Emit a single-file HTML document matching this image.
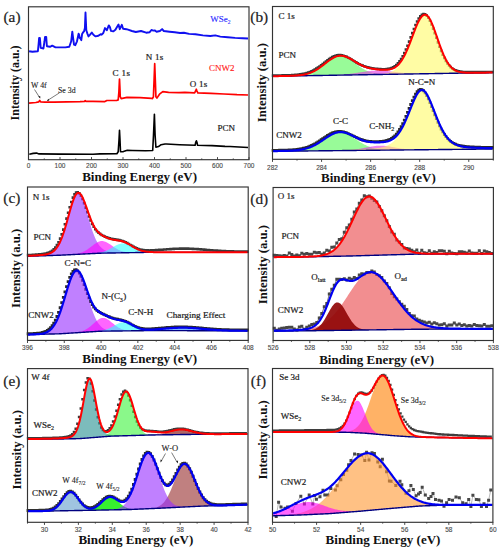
<!DOCTYPE html>
<html><head><meta charset="utf-8"><title>XPS spectra</title>
<style>html,body{margin:0;padding:0;background:#fff;width:500px;height:550px;overflow:hidden}svg{display:block}</style>
</head><body>
<svg width="500" height="550" viewBox="0 0 500 550">
<rect width="500" height="550" fill="#fff"/>
<g>
<path d="M29.3,154.2 L33.2,153.4 L36.5,153.1 L39,153.9 L60,154.1 L93,154.2 L100,153.9 L116.9,153.8 L118.2,151.8 L119,140 L119.5,130.4 L120,140 L120.5,151.8 L123.4,151.6 L127.3,150.3 L132.5,150.5 L145.5,150.8 L152.7,150.5 L153.5,135 L154.4,114.4 L155.1,135 L155.9,147.3 L158.5,146.6 L161.1,144.7 L165,144 L166.5,144 L179.5,144.7 L195.1,145.3 L195.8,142 L196.4,140.8 L197,142.5 L197.6,145.3 L212,145.6 L225,146.4 L230,146.5 L248,147.5" stroke="#000" stroke-width="1.6" fill="none" stroke-linejoin="round"/>
<path d="M29,103.2 L35.8,102.5 L38.8,101.8 L39.7,100.5 L40.6,101.8 L44.9,102.1 L54,102.1 L67,101.8 L80,101.6 L84.5,101.3 L85.2,100.6 L86,101.3 L93,101.4 L104.9,101.6 L106.9,100.5 L116.6,100.5 L118.2,99.9 L118.9,92 L119.5,79 L120,90 L120.2,96.6 L121.2,98.6 L127,97.3 L140,97.7 L151.7,98.4 L152.4,98.6 L153.4,96.8 L154.1,80 L154.7,63.7 L155.3,80 L155.9,96.8 L156.9,98.1 L159.5,94.2 L162.8,91.6 L168.6,92.3 L179,92.7 L184.9,92.3 L194.6,92.9 L195.6,91 L196.3,89.2 L197,91 L197.8,92.9 L211,93.4 L224,94 L237,94.7 L248,95" stroke="#f00" stroke-width="1.7" fill="none" stroke-linejoin="round"/>
<path d="M29.1,51.2 L32.4,51.8 L37.9,51.2 L38.6,44 L39.1,38 L39.9,38 L40.7,47.9 L43.4,48.5 L44.4,42 L45.05,36.9 L46.2,36.9 L46.9,46.3 L50,46.8 L52.2,45.7 L55.5,47.4 L61,47.4 L65.4,47.4 L69.3,46.8 L71.2,41.3 L72.3,31.6 L73,37 L74,44.6 L75.3,45.2 L77,41.3 L78.6,33.8 L79.1,34.7 L79.7,38 L80.2,38 L81.3,40.2 L82.1,34 L83,32.5 L84,31.4 L84.9,28 L85.5,12.5 L86.3,30.3 L87.4,33.6 L88.5,36.4 L90.1,34.7 L91.8,32.5 L93.4,34.7 L95.6,36.4 L98.4,35.8 L100.6,34.2 L101.7,34.7 L103.3,33 L105,28.1 L106,29.2 L106.8,30.3 L108.8,25.4 L109.9,27 L111,30.9 L113.2,31.4 L115.4,29.8 L117,27 L118.5,24.6 L119.8,29.2 L121.8,24.8 L123.1,28.7 L126.4,29.2 L128,29.7 L131.9,31 L135.8,32 L141,31 L146.2,32.7 L149.5,32.3 L151.4,30 L153.4,30.6 L154.7,30.4 L156.6,31.7 L159.9,31 L162.1,29.1 L163.8,31 L169.6,31.7 L174.8,32.3 L180,33 L183.9,32.7 L189.1,33.9 L195.4,34.2 L202.9,35.4 L210.3,36 L215.3,35.4 L220.3,36.6 L227.7,37.3 L235.1,37.9 L242.6,38.3 L248,38.5" stroke="#1010f0" stroke-width="1.9" fill="none" stroke-linejoin="round"/>
<rect x="28.5" y="6.8" width="220.5" height="152.9" fill="none" stroke="#333" stroke-width="1.15"/>
<path d="M28.5,159.7 L28.5,157.1 M44.25,159.7 L44.25,158.4 M60,159.7 L60,157.1 M75.75,159.7 L75.75,158.4 M91.5,159.7 L91.5,157.1 M107.25,159.7 L107.25,158.4 M123,159.7 L123,157.1 M138.75,159.7 L138.75,158.4 M154.5,159.7 L154.5,157.1 M170.25,159.7 L170.25,158.4 M186,159.7 L186,157.1 M201.75,159.7 L201.75,158.4 M217.5,159.7 L217.5,157.1 M233.25,159.7 L233.25,158.4 M249,159.7 L249,157.1" stroke="#333" stroke-width="0.9" fill="none"/>
<text x="28.5" y="167.8" font-family='"Liberation Sans", sans-serif' font-size="6.5" font-weight="normal" fill="#4a4a4a" text-anchor="middle" stroke="#4a4a4a" stroke-width="0.12" >0</text>
<text x="60" y="167.8" font-family='"Liberation Sans", sans-serif' font-size="6.5" font-weight="normal" fill="#4a4a4a" text-anchor="middle" stroke="#4a4a4a" stroke-width="0.12" >100</text>
<text x="91.5" y="167.8" font-family='"Liberation Sans", sans-serif' font-size="6.5" font-weight="normal" fill="#4a4a4a" text-anchor="middle" stroke="#4a4a4a" stroke-width="0.12" >200</text>
<text x="123" y="167.8" font-family='"Liberation Sans", sans-serif' font-size="6.5" font-weight="normal" fill="#4a4a4a" text-anchor="middle" stroke="#4a4a4a" stroke-width="0.12" >300</text>
<text x="154.5" y="167.8" font-family='"Liberation Sans", sans-serif' font-size="6.5" font-weight="normal" fill="#4a4a4a" text-anchor="middle" stroke="#4a4a4a" stroke-width="0.12" >400</text>
<text x="186" y="167.8" font-family='"Liberation Sans", sans-serif' font-size="6.5" font-weight="normal" fill="#4a4a4a" text-anchor="middle" stroke="#4a4a4a" stroke-width="0.12" >500</text>
<text x="217.5" y="167.8" font-family='"Liberation Sans", sans-serif' font-size="6.5" font-weight="normal" fill="#4a4a4a" text-anchor="middle" stroke="#4a4a4a" stroke-width="0.12" >600</text>
<text x="249" y="167.8" font-family='"Liberation Sans", sans-serif' font-size="6.5" font-weight="normal" fill="#4a4a4a" text-anchor="middle" stroke="#4a4a4a" stroke-width="0.12" >700</text>
<text x="210.3" y="21.7" font-family='"Liberation Serif", serif' font-size="9" font-weight="normal" fill="#2a2aff" text-anchor="start" stroke="#2a2aff" stroke-width="0.12" >WSe<tspan font-size="5.5" dy="2.3">2</tspan></text>
<text x="209" y="70.6" font-family='"Liberation Serif", serif' font-size="9" font-weight="normal" fill="#ff1a1a" text-anchor="start" stroke="#ff1a1a" stroke-width="0.12" >CNW2</text>
<text x="112.5" y="75.8" font-family='"Liberation Serif", serif' font-size="9" font-weight="normal" fill="#222" text-anchor="start" stroke="#222" stroke-width="0.22" letter-spacing="0.4">C 1s</text>
<text x="145.7" y="59.8" font-family='"Liberation Serif", serif' font-size="9" font-weight="normal" fill="#222" text-anchor="start" stroke="#222" stroke-width="0.22" letter-spacing="0.3">N 1s</text>
<text x="189.8" y="86.5" font-family='"Liberation Serif", serif' font-size="9" font-weight="normal" fill="#222" text-anchor="start" stroke="#222" stroke-width="0.22" letter-spacing="0.2">O 1s</text>
<text x="31" y="88" font-family='"Liberation Serif", serif' font-size="7.8" font-weight="normal" fill="#222" text-anchor="start" stroke="#222" stroke-width="0.12" >W 4f</text>
<text x="58" y="93.4" font-family='"Liberation Serif", serif' font-size="7.8" font-weight="normal" fill="#222" text-anchor="start" stroke="#222" stroke-width="0.12" >Se 3d</text>
<text x="217.4" y="130.5" font-family='"Liberation Serif", serif' font-size="9" font-weight="normal" fill="#222" text-anchor="start" stroke="#222" stroke-width="0.22" >PCN</text>
<path d="M34.5,89.5 L39.8,97.8 M59.5,92.8 L47.6,100.4" stroke="#222" stroke-width="0.6" fill="none"/>
<path d="M40.3,98.6 L38.2,96.6 L40.2,95.9 Z M46.9,100.9 L48.3,98.8 L49.3,100.6 Z" fill="#222"/>
<text x="82.2" y="180.5" font-family='"Liberation Serif", serif' font-size="13" font-weight="bold" fill="#111" text-anchor="start" >Binding Energy (eV)</text>
<text transform="translate(19.3,82.9) rotate(-90)" x="0" y="0" font-family='"Liberation Serif", serif' font-size="12" font-weight="bold" fill="#111" text-anchor="middle">Intensity (a.u.)</text>
<text x="3.5" y="21.9" font-family='"Liberation Serif", serif' font-size="15.3" font-weight="normal" fill="#222" text-anchor="start" stroke="#222" stroke-width="0.22" >(a)</text>
</g>
<path d="M271.8,74.3h2.6v2.6h-2.6z M273.4,74.27h2.6v2.6h-2.6z M275,74.25h2.6v2.6h-2.6z M276.6,74.22h2.6v2.6h-2.6z M278.2,74.19h2.6v2.6h-2.6z M279.8,74.16h2.6v2.6h-2.6z M281.4,74.12h2.6v2.6h-2.6z M283,74.09h2.6v2.6h-2.6z M284.6,74.05h2.6v2.6h-2.6z M286.2,74h2.6v2.6h-2.6z M287.8,73.95h2.6v2.6h-2.6z M289.4,73.89h2.6v2.6h-2.6z M291,73.82h2.6v2.6h-2.6z M292.6,73.73h2.6v2.6h-2.6z M294.2,73.62h2.6v2.6h-2.6z M295.8,73.48h2.6v2.6h-2.6z M297.4,73.31h2.6v2.6h-2.6z M299,73.11h2.6v2.6h-2.6z M300.6,72.86h2.6v2.6h-2.6z M302.2,72.56h2.6v2.6h-2.6z M303.8,72.19h2.6v2.6h-2.6z M305.4,71.76h2.6v2.6h-2.6z M307,71.24h2.6v2.6h-2.6z M308.6,70.64h2.6v2.6h-2.6z M310.2,69.95h2.6v2.6h-2.6z M311.8,69.17h2.6v2.6h-2.6z M313.4,68.29h2.6v2.6h-2.6z M315,67.32h2.6v2.6h-2.6z M316.6,66.26h2.6v2.6h-2.6z M318.2,65.13h2.6v2.6h-2.6z M319.8,63.93h2.6v2.6h-2.6z M321.4,62.7h2.6v2.6h-2.6z M323,61.44h2.6v2.6h-2.6z M324.6,60.2h2.6v2.6h-2.6z M326.2,58.99h2.6v2.6h-2.6z M327.8,57.85h2.6v2.6h-2.6z M329.4,56.8h2.6v2.6h-2.6z M331,55.87h2.6v2.6h-2.6z M332.6,55.1h2.6v2.6h-2.6z M334.2,54.5h2.6v2.6h-2.6z M335.8,54.09h2.6v2.6h-2.6z M337.4,53.87h2.6v2.6h-2.6z M339,53.86h2.6v2.6h-2.6z M340.6,54.03h2.6v2.6h-2.6z M342.2,54.4h2.6v2.6h-2.6z M343.8,54.92h2.6v2.6h-2.6z M345.4,55.6h2.6v2.6h-2.6z M347,56.39h2.6v2.6h-2.6z M348.6,57.27h2.6v2.6h-2.6z M350.2,58.22h2.6v2.6h-2.6z M351.8,59.19h2.6v2.6h-2.6z M353.4,60.16h2.6v2.6h-2.6z M355,61.12h2.6v2.6h-2.6z M356.6,62.03h2.6v2.6h-2.6z M358.2,62.88h2.6v2.6h-2.6z M359.8,63.66h2.6v2.6h-2.6z M361.4,64.36h2.6v2.6h-2.6z M363,64.98h2.6v2.6h-2.6z M364.6,65.52h2.6v2.6h-2.6z M366.2,65.98h2.6v2.6h-2.6z M367.8,66.37h2.6v2.6h-2.6z M369.4,66.7h2.6v2.6h-2.6z M371,66.98h2.6v2.6h-2.6z M372.6,67.22h2.6v2.6h-2.6z M374.2,67.42h2.6v2.6h-2.6z M375.8,67.58h2.6v2.6h-2.6z M377.4,67.72h2.6v2.6h-2.6z M379,67.82h2.6v2.6h-2.6z M380.6,67.9h2.6v2.6h-2.6z M382.2,67.92h2.6v2.6h-2.6z M383.8,67.89h2.6v2.6h-2.6z M385.4,67.77h2.6v2.6h-2.6z M387,67.56h2.6v2.6h-2.6z M388.6,67.2h2.6v2.6h-2.6z M390.2,66.68h2.6v2.6h-2.6z M391.8,65.94h2.6v2.6h-2.6z M393.4,64.95h2.6v2.6h-2.6z M395,63.67h2.6v2.6h-2.6z M396.6,62.06h2.6v2.6h-2.6z M398.2,60.08h2.6v2.6h-2.6z M399.8,57.72h2.6v2.6h-2.6z M401.4,54.95h2.6v2.6h-2.6z M403,51.8h2.6v2.6h-2.6z M404.6,48.26h2.6v2.6h-2.6z M406.2,44.41h2.6v2.6h-2.6z M407.8,40.32h2.6v2.6h-2.6z M409.4,36.09h2.6v2.6h-2.6z M411,31.82h2.6v2.6h-2.6z M412.6,27.66h2.6v2.6h-2.6z M414.2,23.75h2.6v2.6h-2.6z M415.8,20.24h2.6v2.6h-2.6z M417.4,17.27h2.6v2.6h-2.6z M419,14.98h2.6v2.6h-2.6z M420.6,13.47h2.6v2.6h-2.6z M422.2,12.81h2.6v2.6h-2.6z M423.8,13.07h2.6v2.6h-2.6z M425.4,14.32h2.6v2.6h-2.6z M427,16.5h2.6v2.6h-2.6z M428.6,19.5h2.6v2.6h-2.6z M430.2,23.17h2.6v2.6h-2.6z M431.8,27.34h2.6v2.6h-2.6z M433.4,31.83h2.6v2.6h-2.6z M435,36.46h2.6v2.6h-2.6z M436.6,41.05h2.6v2.6h-2.6z M438.2,45.48h2.6v2.6h-2.6z M439.8,49.62h2.6v2.6h-2.6z M441.4,53.39h2.6v2.6h-2.6z M443,56.75h2.6v2.6h-2.6z M444.6,59.67h2.6v2.6h-2.6z M446.2,62.15h2.6v2.6h-2.6z M447.8,64.19h2.6v2.6h-2.6z M449.4,65.86h2.6v2.6h-2.6z M451,67.18h2.6v2.6h-2.6z M452.6,68.21h2.6v2.6h-2.6z M454.2,69h2.6v2.6h-2.6z M455.8,69.59h2.6v2.6h-2.6z M457.4,70.01h2.6v2.6h-2.6z M459,70.32h2.6v2.6h-2.6z M460.6,70.53h2.6v2.6h-2.6z M462.2,70.67h2.6v2.6h-2.6z M463.8,70.76h2.6v2.6h-2.6z M465.4,70.82h2.6v2.6h-2.6z M467,70.85h2.6v2.6h-2.6z M468.6,70.86h2.6v2.6h-2.6z M470.2,70.87h2.6v2.6h-2.6z M471.8,70.86h2.6v2.6h-2.6z M473.4,70.85h2.6v2.6h-2.6z M475,70.83h2.6v2.6h-2.6z M476.6,70.82h2.6v2.6h-2.6z M478.2,70.8h2.6v2.6h-2.6z M479.8,70.78h2.6v2.6h-2.6z M481.4,70.76h2.6v2.6h-2.6z M483,70.74h2.6v2.6h-2.6z M484.6,70.71h2.6v2.6h-2.6z M486.2,70.69h2.6v2.6h-2.6z M487.8,70.67h2.6v2.6h-2.6z M489.4,70.65h2.6v2.6h-2.6z M491,70.63h2.6v2.6h-2.6z" fill="#383838"/>
<path d="M288.36,75.93 L289.21,75.91 L290.06,75.88 L290.91,75.85 L291.75,75.81 L292.6,75.78 L293.45,75.74 L294.3,75.69 L295.14,75.64 L295.99,75.59 L296.84,75.52 L297.69,75.45 L298.54,75.37 L299.38,75.29 L300.23,75.19 L301.08,75.08 L301.93,74.96 L302.78,74.83 L303.62,74.68 L304.47,74.51 L305.32,74.33 L306.17,74.13 L307.02,73.91 L307.86,73.67 L308.71,73.41 L309.56,73.12 L310.41,72.81 L311.25,72.48 L312.1,72.11 L312.95,71.73 L313.8,71.31 L314.65,70.87 L315.49,70.41 L316.34,69.91 L317.19,69.4 L318.04,68.85 L318.89,68.29 L319.73,67.7 L320.58,67.1 L321.43,66.47 L322.28,65.84 L323.12,65.19 L323.97,64.53 L324.82,63.88 L325.67,63.22 L326.52,62.56 L327.36,61.92 L328.21,61.28 L329.06,60.67 L329.91,60.08 L330.76,59.51 L331.6,58.98 L332.45,58.48 L333.3,58.02 L334.15,57.61 L334.99,57.24 L335.84,56.92 L336.69,56.66 L337.54,56.46 L338.39,56.31 L339.23,56.22 L340.08,56.18 L340.93,56.21 L341.78,56.3 L342.63,56.45 L343.47,56.65 L344.32,56.91 L345.17,57.22 L346.02,57.58 L346.87,57.98 L347.71,58.43 L348.56,58.92 L349.41,59.44 L350.26,59.99 L351.1,60.56 L351.95,61.16 L352.8,61.77 L353.65,62.39 L354.5,63.02 L355.34,63.65 L356.19,64.28 L357.04,64.9 L357.89,65.52 L358.74,66.12 L359.58,66.71 L360.43,67.28 L361.28,67.83 L362.13,68.35 L362.97,68.86 L363.82,69.34 L364.67,69.79 L365.52,70.22 L366.37,70.62 L367.21,70.99 L368.06,71.34 L368.91,71.66 L369.76,71.96 L370.61,72.23 L371.45,72.48 L372.3,72.7 L373.15,72.91 L374,73.09 L374.85,73.26 L375.69,73.4 L376.54,73.53 L377.39,73.65 L378.24,73.75 L379.08,73.83 L379.93,73.91 L380.78,73.97 L381.63,74.03 L382.48,74.08 L383.32,74.11 L384.17,74.15 L385.02,74.17 L385.87,74.19 L386.72,74.21 L387.56,74.22 L388.41,74.23 L389.26,74.23 L390.11,74.23 L390.95,74.23 L391.8,74.23 L391.8,74.28 L390.95,74.29 L390.11,74.31 L389.26,74.32 L388.41,74.33 L387.56,74.35 L386.72,74.36 L385.87,74.38 L385.02,74.39 L384.17,74.4 L383.32,74.42 L382.48,74.43 L381.63,74.45 L380.78,74.46 L379.93,74.47 L379.08,74.49 L378.24,74.5 L377.39,74.52 L376.54,74.53 L375.69,74.54 L374.85,74.56 L374,74.57 L373.15,74.59 L372.3,74.6 L371.45,74.61 L370.61,74.63 L369.76,74.64 L368.91,74.66 L368.06,74.67 L367.21,74.68 L366.37,74.7 L365.52,74.71 L364.67,74.73 L363.82,74.74 L362.97,74.75 L362.13,74.77 L361.28,74.78 L360.43,74.8 L359.58,74.81 L358.74,74.82 L357.89,74.84 L357.04,74.85 L356.19,74.87 L355.34,74.88 L354.5,74.89 L353.65,74.91 L352.8,74.92 L351.95,74.94 L351.1,74.95 L350.26,74.96 L349.41,74.98 L348.56,74.99 L347.71,75.01 L346.87,75.02 L346.02,75.03 L345.17,75.05 L344.32,75.06 L343.47,75.08 L342.63,75.09 L341.78,75.1 L340.93,75.12 L340.08,75.13 L339.23,75.15 L338.39,75.16 L337.54,75.17 L336.69,75.19 L335.84,75.2 L334.99,75.22 L334.15,75.23 L333.3,75.24 L332.45,75.26 L331.6,75.27 L330.76,75.29 L329.91,75.3 L329.06,75.32 L328.21,75.33 L327.36,75.34 L326.52,75.36 L325.67,75.37 L324.82,75.39 L323.97,75.4 L323.12,75.41 L322.28,75.43 L321.43,75.44 L320.58,75.46 L319.73,75.47 L318.89,75.48 L318.04,75.5 L317.19,75.51 L316.34,75.53 L315.49,75.54 L314.65,75.55 L313.8,75.57 L312.95,75.58 L312.1,75.6 L311.25,75.61 L310.41,75.62 L309.56,75.64 L308.71,75.65 L307.86,75.67 L307.02,75.68 L306.17,75.69 L305.32,75.71 L304.47,75.72 L303.62,75.74 L302.78,75.75 L301.93,75.76 L301.08,75.78 L300.23,75.79 L299.38,75.81 L298.54,75.82 L297.69,75.83 L296.84,75.85 L295.99,75.86 L295.14,75.88 L294.3,75.89 L293.45,75.9 L292.6,75.92 L291.75,75.93 L290.91,75.95 L290.06,75.96 L289.21,75.97 L288.36,75.99 Z" fill="#53f853" fill-opacity="0.6" stroke="none"/>
<path d="M327.36,75.29 L328.21,75.26 L329.06,75.24 L329.91,75.21 L330.76,75.19 L331.6,75.16 L332.45,75.13 L333.3,75.1 L334.15,75.06 L334.99,75.03 L335.84,74.99 L336.69,74.95 L337.54,74.9 L338.39,74.86 L339.23,74.81 L340.08,74.75 L340.93,74.7 L341.78,74.64 L342.63,74.57 L343.47,74.5 L344.32,74.43 L345.17,74.36 L346.02,74.27 L346.87,74.19 L347.71,74.1 L348.56,74.01 L349.41,73.91 L350.26,73.8 L351.1,73.7 L351.95,73.59 L352.8,73.47 L353.65,73.35 L354.5,73.23 L355.34,73.1 L356.19,72.98 L357.04,72.84 L357.89,72.71 L358.74,72.58 L359.58,72.44 L360.43,72.31 L361.28,72.17 L362.13,72.04 L362.97,71.91 L363.82,71.78 L364.67,71.65 L365.52,71.53 L366.37,71.41 L367.21,71.3 L368.06,71.19 L368.91,71.08 L369.76,70.99 L370.61,70.9 L371.45,70.82 L372.3,70.75 L373.15,70.69 L374,70.63 L374.85,70.59 L375.69,70.56 L376.54,70.53 L377.39,70.52 L378.24,70.51 L379.08,70.52 L379.93,70.53 L380.78,70.56 L381.63,70.59 L382.48,70.63 L383.32,70.69 L384.17,70.74 L385.02,70.81 L385.87,70.88 L386.72,70.96 L387.56,71.05 L388.41,71.14 L389.26,71.24 L390.11,71.33 L390.95,71.44 L391.8,71.54 L392.65,71.65 L393.5,71.75 L394.35,71.86 L395.19,71.97 L396.04,72.07 L396.89,72.18 L397.74,72.28 L398.59,72.38 L399.43,72.48 L400.28,72.57 L401.13,72.66 L401.98,72.75 L402.83,72.83 L403.67,72.91 L404.52,72.99 L405.37,73.06 L406.22,73.13 L407.06,73.19 L407.91,73.25 L408.76,73.3 L409.61,73.35 L410.46,73.39 L411.3,73.43 L412.15,73.47 L413,73.5 L413.85,73.53 L414.7,73.56 L415.54,73.58 L416.39,73.6 L417.24,73.61 L418.09,73.63 L418.93,73.64 L419.78,73.65 L420.63,73.65 L421.48,73.66 L422.33,73.66 L423.17,73.66 L424.02,73.66 L424.87,73.66 L425.72,73.65 L426.57,73.65 L426.57,73.7 L425.72,73.72 L424.87,73.73 L424.02,73.75 L423.17,73.76 L422.33,73.77 L421.48,73.79 L420.63,73.8 L419.78,73.82 L418.93,73.83 L418.09,73.84 L417.24,73.86 L416.39,73.87 L415.54,73.89 L414.7,73.9 L413.85,73.91 L413,73.93 L412.15,73.94 L411.3,73.96 L410.46,73.97 L409.61,73.98 L408.76,74 L407.91,74.01 L407.06,74.03 L406.22,74.04 L405.37,74.05 L404.52,74.07 L403.67,74.08 L402.83,74.1 L401.98,74.11 L401.13,74.12 L400.28,74.14 L399.43,74.15 L398.59,74.17 L397.74,74.18 L396.89,74.19 L396.04,74.21 L395.19,74.22 L394.35,74.24 L393.5,74.25 L392.65,74.26 L391.8,74.28 L390.95,74.29 L390.11,74.31 L389.26,74.32 L388.41,74.33 L387.56,74.35 L386.72,74.36 L385.87,74.38 L385.02,74.39 L384.17,74.4 L383.32,74.42 L382.48,74.43 L381.63,74.45 L380.78,74.46 L379.93,74.47 L379.08,74.49 L378.24,74.5 L377.39,74.52 L376.54,74.53 L375.69,74.54 L374.85,74.56 L374,74.57 L373.15,74.59 L372.3,74.6 L371.45,74.61 L370.61,74.63 L369.76,74.64 L368.91,74.66 L368.06,74.67 L367.21,74.68 L366.37,74.7 L365.52,74.71 L364.67,74.73 L363.82,74.74 L362.97,74.75 L362.13,74.77 L361.28,74.78 L360.43,74.8 L359.58,74.81 L358.74,74.82 L357.89,74.84 L357.04,74.85 L356.19,74.87 L355.34,74.88 L354.5,74.89 L353.65,74.91 L352.8,74.92 L351.95,74.94 L351.1,74.95 L350.26,74.96 L349.41,74.98 L348.56,74.99 L347.71,75.01 L346.87,75.02 L346.02,75.03 L345.17,75.05 L344.32,75.06 L343.47,75.08 L342.63,75.09 L341.78,75.1 L340.93,75.12 L340.08,75.13 L339.23,75.15 L338.39,75.16 L337.54,75.17 L336.69,75.19 L335.84,75.2 L334.99,75.22 L334.15,75.23 L333.3,75.24 L332.45,75.26 L331.6,75.27 L330.76,75.29 L329.91,75.3 L329.06,75.32 L328.21,75.33 L327.36,75.34 Z" fill="#e32fe3" fill-opacity="0.6" stroke="none"/>
<path d="M334.99,75.17 L335.84,75.15 L336.69,75.14 L337.54,75.12 L338.39,75.11 L339.23,75.09 L340.08,75.08 L340.93,75.06 L341.78,75.05 L342.63,75.03 L343.47,75.02 L344.32,75 L345.17,74.99 L346.02,74.97 L346.87,74.95 L347.71,74.94 L348.56,74.92 L349.41,74.91 L350.26,74.89 L351.1,74.88 L351.95,74.86 L352.8,74.85 L353.65,74.83 L354.5,74.81 L355.34,74.8 L356.19,74.78 L357.04,74.77 L357.89,74.75 L358.74,74.73 L359.58,74.72 L360.43,74.7 L361.28,74.68 L362.13,74.67 L362.97,74.65 L363.82,74.63 L364.67,74.62 L365.52,74.6 L366.37,74.58 L367.21,74.56 L368.06,74.54 L368.91,74.53 L369.76,74.51 L370.61,74.49 L371.45,74.47 L372.3,74.44 L373.15,74.42 L374,74.39 L374.85,74.37 L375.69,74.34 L376.54,74.31 L377.39,74.27 L378.24,74.23 L379.08,74.19 L379.93,74.13 L380.78,74.08 L381.63,74.01 L382.48,73.93 L383.32,73.84 L384.17,73.74 L385.02,73.62 L385.87,73.48 L386.72,73.31 L387.56,73.13 L388.41,72.91 L389.26,72.66 L390.11,72.37 L390.95,72.04 L391.8,71.66 L392.65,71.22 L393.5,70.73 L394.35,70.17 L395.19,69.55 L396.04,68.84 L396.89,68.06 L397.74,67.19 L398.59,66.22 L399.43,65.16 L400.28,63.99 L401.13,62.72 L401.98,61.35 L402.83,59.86 L403.67,58.27 L404.52,56.56 L405.37,54.76 L406.22,52.85 L407.06,50.86 L407.91,48.77 L408.76,46.62 L409.61,44.4 L410.46,42.13 L411.3,39.83 L412.15,37.52 L413,35.21 L413.85,32.92 L414.7,30.67 L415.54,28.5 L416.39,26.41 L417.24,24.43 L418.09,22.58 L418.93,20.88 L419.78,19.36 L420.63,18.03 L421.48,16.91 L422.33,16 L423.17,15.34 L424.02,14.91 L424.87,14.73 L425.72,14.82 L426.57,15.19 L427.41,15.85 L428.26,16.77 L429.11,17.95 L429.96,19.37 L430.81,21.01 L431.65,22.84 L432.5,24.84 L433.35,26.98 L434.2,29.25 L435.04,31.6 L435.89,34.01 L436.74,36.45 L437.59,38.91 L438.44,41.36 L439.28,43.77 L440.13,46.12 L440.98,48.4 L441.83,50.6 L442.68,52.7 L443.52,54.68 L444.37,56.56 L445.22,58.31 L446.07,59.93 L446.91,61.43 L447.76,62.81 L448.61,64.06 L449.46,65.2 L450.31,66.22 L451.15,67.14 L452,67.95 L452.85,68.67 L453.7,69.3 L454.55,69.85 L455.39,70.33 L456.24,70.75 L457.09,71.1 L457.94,71.41 L458.78,71.66 L459.63,71.88 L460.48,72.06 L461.33,72.21 L462.18,72.33 L463.02,72.43 L463.87,72.52 L464.72,72.58 L465.57,72.63 L466.42,72.67 L467.26,72.71 L468.11,72.73 L468.96,72.74 L469.81,72.76 L470.66,72.76 L471.5,72.77 L472.35,72.77 L473.2,72.76 L474.05,72.76 L474.89,72.76 L475.74,72.75 L476.59,72.74 L477.44,72.73 L478.29,72.72 L479.13,72.71 L479.98,72.7 L480.83,72.69 L481.68,72.68 L482.53,72.67 L483.37,72.66 L484.22,72.65 L485.07,72.64 L485.92,72.63 L486.76,72.62 L487.61,72.61 L488.46,72.59 L489.31,72.58 L490.16,72.57 L491,72.56 L491.85,72.55 L492.7,72.53 L492.7,72.61 L491.85,72.62 L491,72.64 L490.16,72.65 L489.31,72.67 L488.46,72.68 L487.61,72.69 L486.76,72.71 L485.92,72.72 L485.07,72.74 L484.22,72.75 L483.37,72.76 L482.53,72.78 L481.68,72.79 L480.83,72.81 L479.98,72.82 L479.13,72.83 L478.29,72.85 L477.44,72.86 L476.59,72.88 L475.74,72.89 L474.89,72.9 L474.05,72.92 L473.2,72.93 L472.35,72.95 L471.5,72.96 L470.66,72.97 L469.81,72.99 L468.96,73 L468.11,73.02 L467.26,73.03 L466.42,73.04 L465.57,73.06 L464.72,73.07 L463.87,73.09 L463.02,73.1 L462.18,73.11 L461.33,73.13 L460.48,73.14 L459.63,73.16 L458.78,73.17 L457.94,73.18 L457.09,73.2 L456.24,73.21 L455.39,73.23 L454.55,73.24 L453.7,73.25 L452.85,73.27 L452,73.28 L451.15,73.3 L450.31,73.31 L449.46,73.32 L448.61,73.34 L447.76,73.35 L446.91,73.37 L446.07,73.38 L445.22,73.39 L444.37,73.41 L443.52,73.42 L442.68,73.44 L441.83,73.45 L440.98,73.46 L440.13,73.48 L439.28,73.49 L438.44,73.51 L437.59,73.52 L436.74,73.53 L435.89,73.55 L435.04,73.56 L434.2,73.58 L433.35,73.59 L432.5,73.61 L431.65,73.62 L430.81,73.63 L429.96,73.65 L429.11,73.66 L428.26,73.68 L427.41,73.69 L426.57,73.7 L425.72,73.72 L424.87,73.73 L424.02,73.75 L423.17,73.76 L422.33,73.77 L421.48,73.79 L420.63,73.8 L419.78,73.82 L418.93,73.83 L418.09,73.84 L417.24,73.86 L416.39,73.87 L415.54,73.89 L414.7,73.9 L413.85,73.91 L413,73.93 L412.15,73.94 L411.3,73.96 L410.46,73.97 L409.61,73.98 L408.76,74 L407.91,74.01 L407.06,74.03 L406.22,74.04 L405.37,74.05 L404.52,74.07 L403.67,74.08 L402.83,74.1 L401.98,74.11 L401.13,74.12 L400.28,74.14 L399.43,74.15 L398.59,74.17 L397.74,74.18 L396.89,74.19 L396.04,74.21 L395.19,74.22 L394.35,74.24 L393.5,74.25 L392.65,74.26 L391.8,74.28 L390.95,74.29 L390.11,74.31 L389.26,74.32 L388.41,74.33 L387.56,74.35 L386.72,74.36 L385.87,74.38 L385.02,74.39 L384.17,74.4 L383.32,74.42 L382.48,74.43 L381.63,74.45 L380.78,74.46 L379.93,74.47 L379.08,74.49 L378.24,74.5 L377.39,74.52 L376.54,74.53 L375.69,74.54 L374.85,74.56 L374,74.57 L373.15,74.59 L372.3,74.6 L371.45,74.61 L370.61,74.63 L369.76,74.64 L368.91,74.66 L368.06,74.67 L367.21,74.68 L366.37,74.7 L365.52,74.71 L364.67,74.73 L363.82,74.74 L362.97,74.75 L362.13,74.77 L361.28,74.78 L360.43,74.8 L359.58,74.81 L358.74,74.82 L357.89,74.84 L357.04,74.85 L356.19,74.87 L355.34,74.88 L354.5,74.89 L353.65,74.91 L352.8,74.92 L351.95,74.94 L351.1,74.95 L350.26,74.96 L349.41,74.98 L348.56,74.99 L347.71,75.01 L346.87,75.02 L346.02,75.03 L345.17,75.05 L344.32,75.06 L343.47,75.08 L342.63,75.09 L341.78,75.1 L340.93,75.12 L340.08,75.13 L339.23,75.15 L338.39,75.16 L337.54,75.17 L336.69,75.19 L335.84,75.2 L334.99,75.22 Z" fill="#fffa67" fill-opacity="0.6" stroke="none"/>
<path d="M273.1,76.24 L273.95,76.23 L274.8,76.21 L275.64,76.2 L276.49,76.18 L277.34,76.17 L278.19,76.16 L279.04,76.14 L279.88,76.13 L280.73,76.11 L281.58,76.1 L282.43,76.09 L283.27,76.07 L284.12,76.06 L284.97,76.04 L285.82,76.03 L286.67,76.02 L287.51,76 L288.36,75.99 L289.21,75.97 L290.06,75.96 L290.91,75.95 L291.75,75.93 L292.6,75.92 L293.45,75.9 L294.3,75.89 L295.14,75.88 L295.99,75.86 L296.84,75.85 L297.69,75.83 L298.54,75.82 L299.38,75.81 L300.23,75.79 L301.08,75.78 L301.93,75.76 L302.78,75.75 L303.62,75.74 L304.47,75.72 L305.32,75.71 L306.17,75.69 L307.02,75.68 L307.86,75.67 L308.71,75.65 L309.56,75.64 L310.41,75.62 L311.25,75.61 L312.1,75.6 L312.95,75.58 L313.8,75.57 L314.65,75.55 L315.49,75.54 L316.34,75.53 L317.19,75.51 L318.04,75.5 L318.89,75.48 L319.73,75.47 L320.58,75.46 L321.43,75.44 L322.28,75.43 L323.12,75.41 L323.97,75.4 L324.82,75.39 L325.67,75.37 L326.52,75.36 L327.36,75.34 L328.21,75.33 L329.06,75.32 L329.91,75.3 L330.76,75.29 L331.6,75.27 L332.45,75.26 L333.3,75.24 L334.15,75.23 L334.99,75.22 L335.84,75.2 L336.69,75.19 L337.54,75.17 L338.39,75.16 L339.23,75.15 L340.08,75.13 L340.93,75.12 L341.78,75.1 L342.63,75.09 L343.47,75.08 L344.32,75.06 L345.17,75.05 L346.02,75.03 L346.87,75.02 L347.71,75.01 L348.56,74.99 L349.41,74.98 L350.26,74.96 L351.1,74.95 L351.95,74.94 L352.8,74.92 L353.65,74.91 L354.5,74.89 L355.34,74.88 L356.19,74.87 L357.04,74.85 L357.89,74.84 L358.74,74.82 L359.58,74.81 L360.43,74.8 L361.28,74.78 L362.13,74.77 L362.97,74.75 L363.82,74.74 L364.67,74.73 L365.52,74.71 L366.37,74.7 L367.21,74.68 L368.06,74.67 L368.91,74.66 L369.76,74.64 L370.61,74.63 L371.45,74.61 L372.3,74.6 L373.15,74.59 L374,74.57 L374.85,74.56 L375.69,74.54 L376.54,74.53 L377.39,74.52 L378.24,74.5 L379.08,74.49 L379.93,74.47 L380.78,74.46 L381.63,74.45 L382.48,74.43 L383.32,74.42 L384.17,74.4 L385.02,74.39 L385.87,74.38 L386.72,74.36 L387.56,74.35 L388.41,74.33 L389.26,74.32 L390.11,74.31 L390.95,74.29 L391.8,74.28 L392.65,74.26 L393.5,74.25 L394.35,74.24 L395.19,74.22 L396.04,74.21 L396.89,74.19 L397.74,74.18 L398.59,74.17 L399.43,74.15 L400.28,74.14 L401.13,74.12 L401.98,74.11 L402.83,74.1 L403.67,74.08 L404.52,74.07 L405.37,74.05 L406.22,74.04 L407.06,74.03 L407.91,74.01 L408.76,74 L409.61,73.98 L410.46,73.97 L411.3,73.96 L412.15,73.94 L413,73.93 L413.85,73.91 L414.7,73.9 L415.54,73.89 L416.39,73.87 L417.24,73.86 L418.09,73.84 L418.93,73.83 L419.78,73.82 L420.63,73.8 L421.48,73.79 L422.33,73.77 L423.17,73.76 L424.02,73.75 L424.87,73.73 L425.72,73.72 L426.57,73.7 L427.41,73.69 L428.26,73.68 L429.11,73.66 L429.96,73.65 L430.81,73.63 L431.65,73.62 L432.5,73.61 L433.35,73.59 L434.2,73.58 L435.04,73.56 L435.89,73.55 L436.74,73.53 L437.59,73.52 L438.44,73.51 L439.28,73.49 L440.13,73.48 L440.98,73.46 L441.83,73.45 L442.68,73.44 L443.52,73.42 L444.37,73.41 L445.22,73.39 L446.07,73.38 L446.91,73.37 L447.76,73.35 L448.61,73.34 L449.46,73.32 L450.31,73.31 L451.15,73.3 L452,73.28 L452.85,73.27 L453.7,73.25 L454.55,73.24 L455.39,73.23 L456.24,73.21 L457.09,73.2 L457.94,73.18 L458.78,73.17 L459.63,73.16 L460.48,73.14 L461.33,73.13 L462.18,73.11 L463.02,73.1 L463.87,73.09 L464.72,73.07 L465.57,73.06 L466.42,73.04 L467.26,73.03 L468.11,73.02 L468.96,73 L469.81,72.99 L470.66,72.97 L471.5,72.96 L472.35,72.95 L473.2,72.93 L474.05,72.92 L474.89,72.9 L475.74,72.89 L476.59,72.88 L477.44,72.86 L478.29,72.85 L479.13,72.83 L479.98,72.82 L480.83,72.81 L481.68,72.79 L482.53,72.78 L483.37,72.76 L484.22,72.75 L485.07,72.74 L485.92,72.72 L486.76,72.71 L487.61,72.69 L488.46,72.68 L489.31,72.67 L490.16,72.65 L491,72.64 L491.85,72.62 L492.7,72.61" stroke="#000080" stroke-width="1.4" fill="none"/>
<path d="M273.1,76.22 L273.95,76.21 L274.8,76.19 L275.64,76.18 L276.49,76.16 L277.34,76.15 L278.19,76.13 L279.04,76.12 L279.88,76.1 L280.73,76.09 L281.58,76.07 L282.43,76.05 L283.27,76.03 L284.12,76.02 L284.97,76 L285.82,75.98 L286.67,75.96 L287.51,75.93 L288.36,75.91 L289.21,75.88 L290.06,75.86 L290.91,75.82 L291.75,75.79 L292.6,75.75 L293.45,75.71 L294.3,75.67 L295.14,75.62 L295.99,75.56 L296.84,75.5 L297.69,75.43 L298.54,75.35 L299.38,75.26 L300.23,75.16 L301.08,75.05 L301.93,74.93 L302.78,74.8 L303.62,74.65 L304.47,74.48 L305.32,74.3 L306.17,74.1 L307.02,73.88 L307.86,73.64 L308.71,73.37 L309.56,73.09 L310.41,72.78 L311.25,72.44 L312.1,72.08 L312.95,71.69 L313.8,71.28 L314.65,70.83 L315.49,70.37 L316.34,69.87 L317.19,69.35 L318.04,68.81 L318.89,68.24 L319.73,67.65 L320.58,67.04 L321.43,66.42 L322.28,65.78 L323.12,65.12 L323.97,64.46 L324.82,63.8 L325.67,63.13 L326.52,62.47 L327.36,61.82 L328.21,61.18 L329.06,60.55 L329.91,59.95 L330.76,59.37 L331.6,58.82 L332.45,58.3 L333.3,57.83 L334.15,57.39 L334.99,57 L335.84,56.66 L336.69,56.37 L337.54,56.13 L338.39,55.95 L339.23,55.82 L340.08,55.75 L340.93,55.73 L341.78,55.77 L342.63,55.87 L343.47,56.02 L344.32,56.22 L345.17,56.46 L346.02,56.75 L346.87,57.09 L347.71,57.46 L348.56,57.86 L349.41,58.29 L350.26,58.75 L351.1,59.23 L351.95,59.73 L352.8,60.24 L353.65,60.75 L354.5,61.27 L355.34,61.79 L356.19,62.3 L357.04,62.81 L357.89,63.3 L358.74,63.78 L359.58,64.25 L360.43,64.69 L361.28,65.12 L362.13,65.53 L362.97,65.91 L363.82,66.27 L364.67,66.61 L365.52,66.92 L366.37,67.21 L367.21,67.48 L368.06,67.73 L368.91,67.96 L369.76,68.17 L370.61,68.36 L371.45,68.54 L372.3,68.7 L373.15,68.84 L374,68.98 L374.85,69.1 L375.69,69.21 L376.54,69.31 L377.39,69.4 L378.24,69.49 L379.08,69.56 L379.93,69.63 L380.78,69.69 L381.63,69.74 L382.48,69.78 L383.32,69.81 L384.17,69.82 L385.02,69.82 L385.87,69.8 L386.72,69.76 L387.56,69.7 L388.41,69.61 L389.26,69.48 L390.11,69.32 L390.95,69.12 L391.8,68.87 L392.65,68.56 L393.5,68.2 L394.35,67.77 L395.19,67.27 L396.04,66.69 L396.89,66.03 L397.74,65.27 L398.59,64.42 L399.43,63.47 L400.28,62.42 L401.13,61.26 L401.98,59.98 L402.83,58.59 L403.67,57.09 L404.52,55.48 L405.37,53.76 L406.22,51.94 L407.06,50.02 L407.91,48.01 L408.76,45.92 L409.61,43.76 L410.46,41.55 L411.3,39.31 L412.15,37.05 L413,34.78 L413.85,32.54 L414.7,30.33 L415.54,28.19 L416.39,26.13 L417.24,24.18 L418.09,22.36 L418.93,20.69 L419.78,19.19 L420.63,17.88 L421.48,16.78 L422.33,15.89 L423.17,15.24 L424.02,14.82 L424.87,14.66 L425.72,14.75 L426.57,15.14 L427.41,15.8 L428.26,16.73 L429.11,17.91 L429.96,19.34 L430.81,20.98 L431.65,22.82 L432.5,24.82 L433.35,26.97 L434.2,29.23 L435.04,31.58 L435.89,34 L436.74,36.45 L437.59,38.9 L438.44,41.35 L439.28,43.76 L440.13,46.12 L440.98,48.4 L441.83,50.6 L442.68,52.69 L443.52,54.68 L444.37,56.55 L445.22,58.31 L446.07,59.93 L446.91,61.43 L447.76,62.81 L448.61,64.06 L449.46,65.2 L450.31,66.22 L451.15,67.14 L452,67.95 L452.85,68.67 L453.7,69.3 L454.55,69.85 L455.39,70.33 L456.24,70.75 L457.09,71.1 L457.94,71.41 L458.78,71.66 L459.63,71.88 L460.48,72.06 L461.33,72.21 L462.18,72.33 L463.02,72.43 L463.87,72.52 L464.72,72.58 L465.57,72.63 L466.42,72.67 L467.26,72.71 L468.11,72.73 L468.96,72.74 L469.81,72.76 L470.66,72.76 L471.5,72.77 L472.35,72.77 L473.2,72.76 L474.05,72.76 L474.89,72.76 L475.74,72.75 L476.59,72.74 L477.44,72.73 L478.29,72.72 L479.13,72.71 L479.98,72.7 L480.83,72.69 L481.68,72.68 L482.53,72.67 L483.37,72.66 L484.22,72.65 L485.07,72.64 L485.92,72.63 L486.76,72.62 L487.61,72.61 L488.46,72.59 L489.31,72.58 L490.16,72.57 L491,72.56 L491.85,72.55 L492.7,72.53" stroke="#f00" stroke-width="2.0" fill="none" stroke-linejoin="round"/>
<path d="M271.7,148.97h2.8v2.8h-2.8z M273.3,148.95h2.8v2.8h-2.8z M274.9,148.93h2.8v2.8h-2.8z M276.5,148.9h2.8v2.8h-2.8z M278.1,148.87h2.8v2.8h-2.8z M279.7,148.84h2.8v2.8h-2.8z M281.3,148.8h2.8v2.8h-2.8z M282.9,148.76h2.8v2.8h-2.8z M284.5,148.72h2.8v2.8h-2.8z M286.1,148.66h2.8v2.8h-2.8z M287.7,148.59h2.8v2.8h-2.8z M289.3,148.51h2.8v2.8h-2.8z M290.9,148.41h2.8v2.8h-2.8z M292.5,148.29h2.8v2.8h-2.8z M294.1,148.15h2.8v2.8h-2.8z M295.7,147.97h2.8v2.8h-2.8z M297.3,147.76h2.8v2.8h-2.8z M298.9,147.5h2.8v2.8h-2.8z M300.5,147.2h2.8v2.8h-2.8z M302.1,146.84h2.8v2.8h-2.8z M303.7,146.42h2.8v2.8h-2.8z M305.3,145.94h2.8v2.8h-2.8z M306.9,145.38h2.8v2.8h-2.8z M308.5,144.75h2.8v2.8h-2.8z M310.1,144.04h2.8v2.8h-2.8z M311.7,143.25h2.8v2.8h-2.8z M313.3,142.39h2.8v2.8h-2.8z M314.9,141.47h2.8v2.8h-2.8z M316.5,140.48h2.8v2.8h-2.8z M318.1,139.44h2.8v2.8h-2.8z M319.7,138.37h2.8v2.8h-2.8z M321.3,137.28h2.8v2.8h-2.8z M322.9,136.2h2.8v2.8h-2.8z M324.5,135.14h2.8v2.8h-2.8z M326.1,134.12h2.8v2.8h-2.8z M327.7,133.17h2.8v2.8h-2.8z M329.3,132.31h2.8v2.8h-2.8z M330.9,131.56h2.8v2.8h-2.8z M332.5,130.94h2.8v2.8h-2.8z M334.1,130.46h2.8v2.8h-2.8z M335.7,130.15h2.8v2.8h-2.8z M337.3,129.99h2.8v2.8h-2.8z M338.9,130h2.8v2.8h-2.8z M340.5,130.16h2.8v2.8h-2.8z M342.1,130.48h2.8v2.8h-2.8z M343.7,130.92h2.8v2.8h-2.8z M345.3,131.49h2.8v2.8h-2.8z M346.9,132.15h2.8v2.8h-2.8z M348.5,132.89h2.8v2.8h-2.8z M350.1,133.67h2.8v2.8h-2.8z M351.7,134.48h2.8v2.8h-2.8z M353.3,135.28h2.8v2.8h-2.8z M354.9,136.06h2.8v2.8h-2.8z M356.5,136.8h2.8v2.8h-2.8z M358.1,137.48h2.8v2.8h-2.8z M359.7,138.09h2.8v2.8h-2.8z M361.3,138.62h2.8v2.8h-2.8z M362.9,139.07h2.8v2.8h-2.8z M364.5,139.43h2.8v2.8h-2.8z M366.1,139.71h2.8v2.8h-2.8z M367.7,139.93h2.8v2.8h-2.8z M369.3,140.08h2.8v2.8h-2.8z M370.9,140.18h2.8v2.8h-2.8z M372.5,140.24h2.8v2.8h-2.8z M374.1,140.25h2.8v2.8h-2.8z M375.7,140.24h2.8v2.8h-2.8z M377.3,140.19h2.8v2.8h-2.8z M378.9,140.1h2.8v2.8h-2.8z M380.5,139.97h2.8v2.8h-2.8z M382.1,139.78h2.8v2.8h-2.8z M383.7,139.5h2.8v2.8h-2.8z M385.3,139.12h2.8v2.8h-2.8z M386.9,138.6h2.8v2.8h-2.8z M388.5,137.91h2.8v2.8h-2.8z M390.1,137h2.8v2.8h-2.8z M391.7,135.85h2.8v2.8h-2.8z M393.3,134.41h2.8v2.8h-2.8z M394.9,132.65h2.8v2.8h-2.8z M396.5,130.55h2.8v2.8h-2.8z M398.1,128.1h2.8v2.8h-2.8z M399.7,125.3h2.8v2.8h-2.8z M401.3,122.15h2.8v2.8h-2.8z M402.9,118.69h2.8v2.8h-2.8z M404.5,114.98h2.8v2.8h-2.8z M406.1,111.07h2.8v2.8h-2.8z M407.7,107.06h2.8v2.8h-2.8z M409.3,103.08h2.8v2.8h-2.8z M410.9,99.25h2.8v2.8h-2.8z M412.5,95.73h2.8v2.8h-2.8z M414.1,92.69h2.8v2.8h-2.8z M415.7,90.28h2.8v2.8h-2.8z M417.3,88.65h2.8v2.8h-2.8z M418.9,87.93h2.8v2.8h-2.8z M420.5,88.17h2.8v2.8h-2.8z M422.1,89.36h2.8v2.8h-2.8z M423.7,91.41h2.8v2.8h-2.8z M425.3,94.17h2.8v2.8h-2.8z M426.9,97.5h2.8v2.8h-2.8z M428.5,101.24h2.8v2.8h-2.8z M430.1,105.22h2.8v2.8h-2.8z M431.7,109.3h2.8v2.8h-2.8z M433.3,113.37h2.8v2.8h-2.8z M434.9,117.31h2.8v2.8h-2.8z M436.5,121.06h2.8v2.8h-2.8z M438.1,124.54h2.8v2.8h-2.8z M439.7,127.72h2.8v2.8h-2.8z M441.3,130.57h2.8v2.8h-2.8z M442.9,133.1h2.8v2.8h-2.8z M444.5,135.3h2.8v2.8h-2.8z M446.1,137.18h2.8v2.8h-2.8z M447.7,138.78h2.8v2.8h-2.8z M449.3,140.11h2.8v2.8h-2.8z M450.9,141.2h2.8v2.8h-2.8z M452.5,142.1h2.8v2.8h-2.8z M454.1,142.83h2.8v2.8h-2.8z M455.7,143.42h2.8v2.8h-2.8z M457.3,143.89h2.8v2.8h-2.8z M458.9,144.27h2.8v2.8h-2.8z M460.5,144.58h2.8v2.8h-2.8z M462.1,144.82h2.8v2.8h-2.8z M463.7,145.02h2.8v2.8h-2.8z M465.3,145.18h2.8v2.8h-2.8z M466.9,145.31h2.8v2.8h-2.8z M468.5,145.42h2.8v2.8h-2.8z M470.1,145.52h2.8v2.8h-2.8z M471.7,145.6h2.8v2.8h-2.8z M473.3,145.67h2.8v2.8h-2.8z M474.9,145.73h2.8v2.8h-2.8z M476.5,145.78h2.8v2.8h-2.8z M478.1,145.83h2.8v2.8h-2.8z M479.7,145.88h2.8v2.8h-2.8z M481.3,145.91h2.8v2.8h-2.8z M482.9,145.95h2.8v2.8h-2.8z M484.5,145.98h2.8v2.8h-2.8z M486.1,146.01h2.8v2.8h-2.8z M487.7,146.03h2.8v2.8h-2.8z M489.3,146.05h2.8v2.8h-2.8z M490.9,146.06h2.8v2.8h-2.8z" fill="#2a2a2a"/>
<path d="M284.97,151.11 L285.82,151.09 L286.67,151.07 L287.51,151.04 L288.36,151.02 L289.21,150.99 L290.06,150.95 L290.91,150.92 L291.75,150.88 L292.6,150.83 L293.45,150.78 L294.3,150.72 L295.14,150.66 L295.99,150.59 L296.84,150.51 L297.69,150.42 L298.54,150.33 L299.38,150.22 L300.23,150.1 L301.08,149.97 L301.93,149.83 L302.78,149.67 L303.62,149.5 L304.47,149.31 L305.32,149.11 L306.17,148.88 L307.02,148.64 L307.86,148.38 L308.71,148.1 L309.56,147.8 L310.41,147.48 L311.25,147.14 L312.1,146.77 L312.95,146.39 L313.8,145.98 L314.65,145.55 L315.49,145.1 L316.34,144.64 L317.19,144.15 L318.04,143.64 L318.89,143.12 L319.73,142.59 L320.58,142.04 L321.43,141.49 L322.28,140.93 L323.12,140.36 L323.97,139.79 L324.82,139.22 L325.67,138.65 L326.52,138.1 L327.36,137.55 L328.21,137.02 L329.06,136.5 L329.91,136.01 L330.76,135.54 L331.6,135.1 L332.45,134.69 L333.3,134.31 L334.15,133.97 L334.99,133.67 L335.84,133.41 L336.69,133.19 L337.54,133.02 L338.39,132.9 L339.23,132.82 L340.08,132.8 L340.93,132.82 L341.78,132.88 L342.63,133 L343.47,133.16 L344.32,133.37 L345.17,133.62 L346.02,133.91 L346.87,134.24 L347.71,134.6 L348.56,135 L349.41,135.43 L350.26,135.89 L351.1,136.37 L351.95,136.87 L352.8,137.39 L353.65,137.92 L354.5,138.46 L355.34,139.01 L356.19,139.56 L357.04,140.11 L357.89,140.66 L358.74,141.21 L359.58,141.74 L360.43,142.27 L361.28,142.78 L362.13,143.28 L362.97,143.77 L363.82,144.23 L364.67,144.68 L365.52,145.1 L366.37,145.51 L367.21,145.9 L368.06,146.26 L368.91,146.6 L369.76,146.92 L370.61,147.22 L371.45,147.5 L372.3,147.76 L373.15,148 L374,148.22 L374.85,148.42 L375.69,148.61 L376.54,148.77 L377.39,148.93 L378.24,149.06 L379.08,149.19 L379.93,149.3 L380.78,149.39 L381.63,149.48 L382.48,149.56 L383.32,149.63 L384.17,149.68 L385.02,149.74 L385.87,149.78 L386.72,149.82 L387.56,149.85 L388.41,149.88 L389.26,149.9 L390.11,149.92 L390.95,149.93 L391.8,149.94 L392.65,149.95 L393.5,149.96 L394.35,149.96 L395.19,149.96 L395.19,150.02 L394.35,150.03 L393.5,150.04 L392.65,150.05 L391.8,150.06 L390.95,150.07 L390.11,150.07 L389.26,150.08 L388.41,150.09 L387.56,150.1 L386.72,150.11 L385.87,150.12 L385.02,150.13 L384.17,150.14 L383.32,150.15 L382.48,150.15 L381.63,150.16 L380.78,150.17 L379.93,150.18 L379.08,150.19 L378.24,150.2 L377.39,150.21 L376.54,150.22 L375.69,150.23 L374.85,150.23 L374,150.24 L373.15,150.25 L372.3,150.26 L371.45,150.27 L370.61,150.28 L369.76,150.29 L368.91,150.3 L368.06,150.3 L367.21,150.31 L366.37,150.32 L365.52,150.33 L364.67,150.34 L363.82,150.35 L362.97,150.36 L362.13,150.37 L361.28,150.38 L360.43,150.38 L359.58,150.39 L358.74,150.4 L357.89,150.41 L357.04,150.42 L356.19,150.43 L355.34,150.44 L354.5,150.45 L353.65,150.45 L352.8,150.46 L351.95,150.47 L351.1,150.48 L350.26,150.49 L349.41,150.5 L348.56,150.51 L347.71,150.52 L346.87,150.53 L346.02,150.53 L345.17,150.54 L344.32,150.55 L343.47,150.56 L342.63,150.57 L341.78,150.58 L340.93,150.59 L340.08,150.6 L339.23,150.6 L338.39,150.61 L337.54,150.62 L336.69,150.63 L335.84,150.64 L334.99,150.65 L334.15,150.66 L333.3,150.67 L332.45,150.68 L331.6,150.68 L330.76,150.69 L329.91,150.7 L329.06,150.71 L328.21,150.72 L327.36,150.73 L326.52,150.74 L325.67,150.75 L324.82,150.75 L323.97,150.76 L323.12,150.77 L322.28,150.78 L321.43,150.79 L320.58,150.8 L319.73,150.81 L318.89,150.82 L318.04,150.83 L317.19,150.83 L316.34,150.84 L315.49,150.85 L314.65,150.86 L313.8,150.87 L312.95,150.88 L312.1,150.89 L311.25,150.9 L310.41,150.91 L309.56,150.91 L308.71,150.92 L307.86,150.93 L307.02,150.94 L306.17,150.95 L305.32,150.96 L304.47,150.97 L303.62,150.98 L302.78,150.98 L301.93,150.99 L301.08,151 L300.23,151.01 L299.38,151.02 L298.54,151.03 L297.69,151.04 L296.84,151.05 L295.99,151.06 L295.14,151.06 L294.3,151.07 L293.45,151.08 L292.6,151.09 L291.75,151.1 L290.91,151.11 L290.06,151.12 L289.21,151.13 L288.36,151.13 L287.51,151.14 L286.67,151.15 L285.82,151.16 L284.97,151.17 Z" fill="#53f853" fill-opacity="0.6" stroke="none"/>
<path d="M338.39,150.56 L339.23,150.54 L340.08,150.52 L340.93,150.5 L341.78,150.47 L342.63,150.44 L343.47,150.41 L344.32,150.38 L345.17,150.34 L346.02,150.3 L346.87,150.25 L347.71,150.2 L348.56,150.15 L349.41,150.09 L350.26,150.02 L351.1,149.95 L351.95,149.87 L352.8,149.78 L353.65,149.69 L354.5,149.59 L355.34,149.48 L356.19,149.37 L357.04,149.25 L357.89,149.12 L358.74,148.98 L359.58,148.84 L360.43,148.69 L361.28,148.53 L362.13,148.37 L362.97,148.21 L363.82,148.04 L364.67,147.87 L365.52,147.7 L366.37,147.52 L367.21,147.35 L368.06,147.18 L368.91,147.01 L369.76,146.84 L370.61,146.69 L371.45,146.53 L372.3,146.39 L373.15,146.26 L374,146.14 L374.85,146.03 L375.69,145.93 L376.54,145.85 L377.39,145.79 L378.24,145.73 L379.08,145.7 L379.93,145.68 L380.78,145.68 L381.63,145.69 L382.48,145.72 L383.32,145.77 L384.17,145.83 L385.02,145.91 L385.87,146 L386.72,146.1 L387.56,146.21 L388.41,146.34 L389.26,146.47 L390.11,146.61 L390.95,146.75 L391.8,146.9 L392.65,147.06 L393.5,147.21 L394.35,147.37 L395.19,147.52 L396.04,147.68 L396.89,147.83 L397.74,147.98 L398.59,148.12 L399.43,148.26 L400.28,148.39 L401.13,148.52 L401.98,148.64 L402.83,148.75 L403.67,148.86 L404.52,148.95 L405.37,149.04 L406.22,149.13 L407.06,149.2 L407.91,149.27 L408.76,149.34 L409.61,149.39 L410.46,149.44 L411.3,149.48 L412.15,149.52 L413,149.56 L413.85,149.59 L414.7,149.61 L415.54,149.63 L416.39,149.65 L417.24,149.66 L418.09,149.67 L418.93,149.68 L419.78,149.69 L420.63,149.69 L421.48,149.69 L421.48,149.75 L420.63,149.76 L419.78,149.77 L418.93,149.77 L418.09,149.78 L417.24,149.79 L416.39,149.8 L415.54,149.81 L414.7,149.82 L413.85,149.83 L413,149.84 L412.15,149.85 L411.3,149.85 L410.46,149.86 L409.61,149.87 L408.76,149.88 L407.91,149.89 L407.06,149.9 L406.22,149.91 L405.37,149.92 L404.52,149.92 L403.67,149.93 L402.83,149.94 L401.98,149.95 L401.13,149.96 L400.28,149.97 L399.43,149.98 L398.59,149.99 L397.74,150 L396.89,150 L396.04,150.01 L395.19,150.02 L394.35,150.03 L393.5,150.04 L392.65,150.05 L391.8,150.06 L390.95,150.07 L390.11,150.07 L389.26,150.08 L388.41,150.09 L387.56,150.1 L386.72,150.11 L385.87,150.12 L385.02,150.13 L384.17,150.14 L383.32,150.15 L382.48,150.15 L381.63,150.16 L380.78,150.17 L379.93,150.18 L379.08,150.19 L378.24,150.2 L377.39,150.21 L376.54,150.22 L375.69,150.23 L374.85,150.23 L374,150.24 L373.15,150.25 L372.3,150.26 L371.45,150.27 L370.61,150.28 L369.76,150.29 L368.91,150.3 L368.06,150.3 L367.21,150.31 L366.37,150.32 L365.52,150.33 L364.67,150.34 L363.82,150.35 L362.97,150.36 L362.13,150.37 L361.28,150.38 L360.43,150.38 L359.58,150.39 L358.74,150.4 L357.89,150.41 L357.04,150.42 L356.19,150.43 L355.34,150.44 L354.5,150.45 L353.65,150.45 L352.8,150.46 L351.95,150.47 L351.1,150.48 L350.26,150.49 L349.41,150.5 L348.56,150.51 L347.71,150.52 L346.87,150.53 L346.02,150.53 L345.17,150.54 L344.32,150.55 L343.47,150.56 L342.63,150.57 L341.78,150.58 L340.93,150.59 L340.08,150.6 L339.23,150.6 L338.39,150.61 Z" fill="#e32fe3" fill-opacity="0.6" stroke="none"/>
<path d="M273.1,151.1 L273.95,151.08 L274.8,151.07 L275.64,151.06 L276.49,151.05 L277.34,151.04 L278.19,151.03 L279.04,151.02 L279.88,151.01 L280.73,150.99 L281.58,150.98 L282.43,150.97 L283.27,150.96 L284.12,150.95 L284.97,150.94 L285.82,150.93 L286.67,150.91 L287.51,150.9 L288.36,150.89 L289.21,150.88 L290.06,150.87 L290.91,150.85 L291.75,150.84 L292.6,150.83 L293.45,150.82 L294.3,150.8 L295.14,150.79 L295.99,150.78 L296.84,150.77 L297.69,150.75 L298.54,150.74 L299.38,150.73 L300.23,150.72 L301.08,150.7 L301.93,150.69 L302.78,150.68 L303.62,150.66 L304.47,150.65 L305.32,150.64 L306.17,150.62 L307.02,150.61 L307.86,150.6 L308.71,150.58 L309.56,150.57 L310.41,150.56 L311.25,150.54 L312.1,150.53 L312.95,150.51 L313.8,150.5 L314.65,150.48 L315.49,150.47 L316.34,150.45 L317.19,150.44 L318.04,150.42 L318.89,150.41 L319.73,150.39 L320.58,150.38 L321.43,150.36 L322.28,150.35 L323.12,150.33 L323.97,150.31 L324.82,150.3 L325.67,150.28 L326.52,150.26 L327.36,150.25 L328.21,150.23 L329.06,150.21 L329.91,150.19 L330.76,150.18 L331.6,150.16 L332.45,150.14 L333.3,150.12 L334.15,150.1 L334.99,150.08 L335.84,150.06 L336.69,150.04 L337.54,150.02 L338.39,150 L339.23,149.98 L340.08,149.96 L340.93,149.94 L341.78,149.91 L342.63,149.89 L343.47,149.87 L344.32,149.84 L345.17,149.82 L346.02,149.8 L346.87,149.77 L347.71,149.75 L348.56,149.72 L349.41,149.69 L350.26,149.67 L351.1,149.64 L351.95,149.61 L352.8,149.58 L353.65,149.55 L354.5,149.52 L355.34,149.49 L356.19,149.46 L357.04,149.42 L357.89,149.39 L358.74,149.36 L359.58,149.32 L360.43,149.28 L361.28,149.24 L362.13,149.2 L362.97,149.16 L363.82,149.12 L364.67,149.08 L365.52,149.03 L366.37,148.98 L367.21,148.94 L368.06,148.88 L368.91,148.83 L369.76,148.77 L370.61,148.71 L371.45,148.65 L372.3,148.58 L373.15,148.51 L374,148.43 L374.85,148.35 L375.69,148.26 L376.54,148.16 L377.39,148.06 L378.24,147.94 L379.08,147.81 L379.93,147.67 L380.78,147.52 L381.63,147.35 L382.48,147.16 L383.32,146.95 L384.17,146.71 L385.02,146.45 L385.87,146.15 L386.72,145.82 L387.56,145.46 L388.41,145.05 L389.26,144.6 L390.11,144.09 L390.95,143.53 L391.8,142.91 L392.65,142.23 L393.5,141.47 L394.35,140.65 L395.19,139.74 L396.04,138.75 L396.89,137.68 L397.74,136.52 L398.59,135.27 L399.43,133.92 L400.28,132.48 L401.13,130.95 L401.98,129.33 L402.83,127.61 L403.67,125.81 L404.52,123.93 L405.37,121.97 L406.22,119.94 L407.06,117.86 L407.91,115.73 L408.76,113.57 L409.61,111.38 L410.46,109.2 L411.3,107.02 L412.15,104.88 L413,102.8 L413.85,100.79 L414.7,98.88 L415.54,97.1 L416.39,95.46 L417.24,94.01 L418.09,92.75 L418.93,91.71 L419.78,90.91 L420.63,90.36 L421.48,90.08 L422.33,90.07 L423.17,90.34 L424.02,90.87 L424.87,91.65 L425.72,92.67 L426.57,93.92 L427.41,95.36 L428.26,96.97 L429.11,98.74 L429.96,100.63 L430.81,102.62 L431.65,104.69 L432.5,106.81 L433.35,108.97 L434.2,111.14 L435.04,113.3 L435.89,115.45 L436.74,117.56 L437.59,119.63 L438.44,121.64 L439.28,123.58 L440.13,125.44 L440.98,127.22 L441.83,128.92 L442.68,130.53 L443.52,132.04 L444.37,133.46 L445.22,134.79 L446.07,136.02 L446.91,137.17 L447.76,138.22 L448.61,139.19 L449.46,140.08 L450.31,140.89 L451.15,141.62 L452,142.29 L452.85,142.89 L453.7,143.43 L454.55,143.92 L455.39,144.35 L456.24,144.74 L457.09,145.09 L457.94,145.4 L458.78,145.68 L459.63,145.92 L460.48,146.14 L461.33,146.34 L462.18,146.51 L463.02,146.66 L463.87,146.8 L464.72,146.92 L465.57,147.03 L466.42,147.13 L467.26,147.22 L468.11,147.3 L468.96,147.37 L469.81,147.43 L470.66,147.49 L471.5,147.55 L472.35,147.6 L473.2,147.64 L474.05,147.69 L474.89,147.73 L475.74,147.76 L476.59,147.8 L477.44,147.83 L478.29,147.86 L479.13,147.89 L479.98,147.91 L480.83,147.94 L481.68,147.96 L482.53,147.98 L483.37,148 L484.22,148.02 L485.07,148.04 L485.92,148.06 L486.76,148.07 L487.61,148.09 L488.46,148.1 L489.31,148.12 L490.16,148.13 L491,148.14 L491.85,148.15 L492.7,148.16 L492.7,149.01 L491.85,149.02 L491,149.02 L490.16,149.03 L489.31,149.04 L488.46,149.05 L487.61,149.06 L486.76,149.07 L485.92,149.08 L485.07,149.09 L484.22,149.09 L483.37,149.1 L482.53,149.11 L481.68,149.12 L480.83,149.13 L479.98,149.14 L479.13,149.15 L478.29,149.16 L477.44,149.17 L476.59,149.17 L475.74,149.18 L474.89,149.19 L474.05,149.2 L473.2,149.21 L472.35,149.22 L471.5,149.23 L470.66,149.24 L469.81,149.24 L468.96,149.25 L468.11,149.26 L467.26,149.27 L466.42,149.28 L465.57,149.29 L464.72,149.3 L463.87,149.31 L463.02,149.32 L462.18,149.32 L461.33,149.33 L460.48,149.34 L459.63,149.35 L458.78,149.36 L457.94,149.37 L457.09,149.38 L456.24,149.39 L455.39,149.39 L454.55,149.4 L453.7,149.41 L452.85,149.42 L452,149.43 L451.15,149.44 L450.31,149.45 L449.46,149.46 L448.61,149.47 L447.76,149.47 L446.91,149.48 L446.07,149.49 L445.22,149.5 L444.37,149.51 L443.52,149.52 L442.68,149.53 L441.83,149.54 L440.98,149.55 L440.13,149.55 L439.28,149.56 L438.44,149.57 L437.59,149.58 L436.74,149.59 L435.89,149.6 L435.04,149.61 L434.2,149.62 L433.35,149.62 L432.5,149.63 L431.65,149.64 L430.81,149.65 L429.96,149.66 L429.11,149.67 L428.26,149.68 L427.41,149.69 L426.57,149.7 L425.72,149.7 L424.87,149.71 L424.02,149.72 L423.17,149.73 L422.33,149.74 L421.48,149.75 L420.63,149.76 L419.78,149.77 L418.93,149.77 L418.09,149.78 L417.24,149.79 L416.39,149.8 L415.54,149.81 L414.7,149.82 L413.85,149.83 L413,149.84 L412.15,149.85 L411.3,149.85 L410.46,149.86 L409.61,149.87 L408.76,149.88 L407.91,149.89 L407.06,149.9 L406.22,149.91 L405.37,149.92 L404.52,149.92 L403.67,149.93 L402.83,149.94 L401.98,149.95 L401.13,149.96 L400.28,149.97 L399.43,149.98 L398.59,149.99 L397.74,150 L396.89,150 L396.04,150.01 L395.19,150.02 L394.35,150.03 L393.5,150.04 L392.65,150.05 L391.8,150.06 L390.95,150.07 L390.11,150.07 L389.26,150.08 L388.41,150.09 L387.56,150.1 L386.72,150.11 L385.87,150.12 L385.02,150.13 L384.17,150.14 L383.32,150.15 L382.48,150.15 L381.63,150.16 L380.78,150.17 L379.93,150.18 L379.08,150.19 L378.24,150.2 L377.39,150.21 L376.54,150.22 L375.69,150.23 L374.85,150.23 L374,150.24 L373.15,150.25 L372.3,150.26 L371.45,150.27 L370.61,150.28 L369.76,150.29 L368.91,150.3 L368.06,150.3 L367.21,150.31 L366.37,150.32 L365.52,150.33 L364.67,150.34 L363.82,150.35 L362.97,150.36 L362.13,150.37 L361.28,150.38 L360.43,150.38 L359.58,150.39 L358.74,150.4 L357.89,150.41 L357.04,150.42 L356.19,150.43 L355.34,150.44 L354.5,150.45 L353.65,150.45 L352.8,150.46 L351.95,150.47 L351.1,150.48 L350.26,150.49 L349.41,150.5 L348.56,150.51 L347.71,150.52 L346.87,150.53 L346.02,150.53 L345.17,150.54 L344.32,150.55 L343.47,150.56 L342.63,150.57 L341.78,150.58 L340.93,150.59 L340.08,150.6 L339.23,150.6 L338.39,150.61 L337.54,150.62 L336.69,150.63 L335.84,150.64 L334.99,150.65 L334.15,150.66 L333.3,150.67 L332.45,150.68 L331.6,150.68 L330.76,150.69 L329.91,150.7 L329.06,150.71 L328.21,150.72 L327.36,150.73 L326.52,150.74 L325.67,150.75 L324.82,150.75 L323.97,150.76 L323.12,150.77 L322.28,150.78 L321.43,150.79 L320.58,150.8 L319.73,150.81 L318.89,150.82 L318.04,150.83 L317.19,150.83 L316.34,150.84 L315.49,150.85 L314.65,150.86 L313.8,150.87 L312.95,150.88 L312.1,150.89 L311.25,150.9 L310.41,150.91 L309.56,150.91 L308.71,150.92 L307.86,150.93 L307.02,150.94 L306.17,150.95 L305.32,150.96 L304.47,150.97 L303.62,150.98 L302.78,150.98 L301.93,150.99 L301.08,151 L300.23,151.01 L299.38,151.02 L298.54,151.03 L297.69,151.04 L296.84,151.05 L295.99,151.06 L295.14,151.06 L294.3,151.07 L293.45,151.08 L292.6,151.09 L291.75,151.1 L290.91,151.11 L290.06,151.12 L289.21,151.13 L288.36,151.13 L287.51,151.14 L286.67,151.15 L285.82,151.16 L284.97,151.17 L284.12,151.18 L283.27,151.19 L282.43,151.2 L281.58,151.21 L280.73,151.21 L279.88,151.22 L279.04,151.23 L278.19,151.24 L277.34,151.25 L276.49,151.26 L275.64,151.27 L274.8,151.28 L273.95,151.28 L273.1,151.29 Z" fill="#fffa67" fill-opacity="0.6" stroke="none"/>
<path d="M273.1,151.29 L273.95,151.28 L274.8,151.28 L275.64,151.27 L276.49,151.26 L277.34,151.25 L278.19,151.24 L279.04,151.23 L279.88,151.22 L280.73,151.21 L281.58,151.21 L282.43,151.2 L283.27,151.19 L284.12,151.18 L284.97,151.17 L285.82,151.16 L286.67,151.15 L287.51,151.14 L288.36,151.13 L289.21,151.13 L290.06,151.12 L290.91,151.11 L291.75,151.1 L292.6,151.09 L293.45,151.08 L294.3,151.07 L295.14,151.06 L295.99,151.06 L296.84,151.05 L297.69,151.04 L298.54,151.03 L299.38,151.02 L300.23,151.01 L301.08,151 L301.93,150.99 L302.78,150.98 L303.62,150.98 L304.47,150.97 L305.32,150.96 L306.17,150.95 L307.02,150.94 L307.86,150.93 L308.71,150.92 L309.56,150.91 L310.41,150.91 L311.25,150.9 L312.1,150.89 L312.95,150.88 L313.8,150.87 L314.65,150.86 L315.49,150.85 L316.34,150.84 L317.19,150.83 L318.04,150.83 L318.89,150.82 L319.73,150.81 L320.58,150.8 L321.43,150.79 L322.28,150.78 L323.12,150.77 L323.97,150.76 L324.82,150.75 L325.67,150.75 L326.52,150.74 L327.36,150.73 L328.21,150.72 L329.06,150.71 L329.91,150.7 L330.76,150.69 L331.6,150.68 L332.45,150.68 L333.3,150.67 L334.15,150.66 L334.99,150.65 L335.84,150.64 L336.69,150.63 L337.54,150.62 L338.39,150.61 L339.23,150.6 L340.08,150.6 L340.93,150.59 L341.78,150.58 L342.63,150.57 L343.47,150.56 L344.32,150.55 L345.17,150.54 L346.02,150.53 L346.87,150.53 L347.71,150.52 L348.56,150.51 L349.41,150.5 L350.26,150.49 L351.1,150.48 L351.95,150.47 L352.8,150.46 L353.65,150.45 L354.5,150.45 L355.34,150.44 L356.19,150.43 L357.04,150.42 L357.89,150.41 L358.74,150.4 L359.58,150.39 L360.43,150.38 L361.28,150.38 L362.13,150.37 L362.97,150.36 L363.82,150.35 L364.67,150.34 L365.52,150.33 L366.37,150.32 L367.21,150.31 L368.06,150.3 L368.91,150.3 L369.76,150.29 L370.61,150.28 L371.45,150.27 L372.3,150.26 L373.15,150.25 L374,150.24 L374.85,150.23 L375.69,150.23 L376.54,150.22 L377.39,150.21 L378.24,150.2 L379.08,150.19 L379.93,150.18 L380.78,150.17 L381.63,150.16 L382.48,150.15 L383.32,150.15 L384.17,150.14 L385.02,150.13 L385.87,150.12 L386.72,150.11 L387.56,150.1 L388.41,150.09 L389.26,150.08 L390.11,150.07 L390.95,150.07 L391.8,150.06 L392.65,150.05 L393.5,150.04 L394.35,150.03 L395.19,150.02 L396.04,150.01 L396.89,150 L397.74,150 L398.59,149.99 L399.43,149.98 L400.28,149.97 L401.13,149.96 L401.98,149.95 L402.83,149.94 L403.67,149.93 L404.52,149.92 L405.37,149.92 L406.22,149.91 L407.06,149.9 L407.91,149.89 L408.76,149.88 L409.61,149.87 L410.46,149.86 L411.3,149.85 L412.15,149.85 L413,149.84 L413.85,149.83 L414.7,149.82 L415.54,149.81 L416.39,149.8 L417.24,149.79 L418.09,149.78 L418.93,149.77 L419.78,149.77 L420.63,149.76 L421.48,149.75 L422.33,149.74 L423.17,149.73 L424.02,149.72 L424.87,149.71 L425.72,149.7 L426.57,149.7 L427.41,149.69 L428.26,149.68 L429.11,149.67 L429.96,149.66 L430.81,149.65 L431.65,149.64 L432.5,149.63 L433.35,149.62 L434.2,149.62 L435.04,149.61 L435.89,149.6 L436.74,149.59 L437.59,149.58 L438.44,149.57 L439.28,149.56 L440.13,149.55 L440.98,149.55 L441.83,149.54 L442.68,149.53 L443.52,149.52 L444.37,149.51 L445.22,149.5 L446.07,149.49 L446.91,149.48 L447.76,149.47 L448.61,149.47 L449.46,149.46 L450.31,149.45 L451.15,149.44 L452,149.43 L452.85,149.42 L453.7,149.41 L454.55,149.4 L455.39,149.39 L456.24,149.39 L457.09,149.38 L457.94,149.37 L458.78,149.36 L459.63,149.35 L460.48,149.34 L461.33,149.33 L462.18,149.32 L463.02,149.32 L463.87,149.31 L464.72,149.3 L465.57,149.29 L466.42,149.28 L467.26,149.27 L468.11,149.26 L468.96,149.25 L469.81,149.24 L470.66,149.24 L471.5,149.23 L472.35,149.22 L473.2,149.21 L474.05,149.2 L474.89,149.19 L475.74,149.18 L476.59,149.17 L477.44,149.17 L478.29,149.16 L479.13,149.15 L479.98,149.14 L480.83,149.13 L481.68,149.12 L482.53,149.11 L483.37,149.1 L484.22,149.09 L485.07,149.09 L485.92,149.08 L486.76,149.07 L487.61,149.06 L488.46,149.05 L489.31,149.04 L490.16,149.03 L491,149.02 L491.85,149.02 L492.7,149.01" stroke="#000080" stroke-width="1.4" fill="none"/>
<path d="M273.1,151.09 L273.95,151.08 L274.8,151.07 L275.64,151.06 L276.49,151.04 L277.34,151.03 L278.19,151.02 L279.04,151 L279.88,150.99 L280.73,150.97 L281.58,150.95 L282.43,150.94 L283.27,150.92 L284.12,150.9 L284.97,150.88 L285.82,150.85 L286.67,150.83 L287.51,150.8 L288.36,150.77 L289.21,150.74 L290.06,150.7 L290.91,150.66 L291.75,150.62 L292.6,150.57 L293.45,150.52 L294.3,150.46 L295.14,150.39 L295.99,150.31 L296.84,150.23 L297.69,150.14 L298.54,150.04 L299.38,149.93 L300.23,149.81 L301.08,149.67 L301.93,149.53 L302.78,149.37 L303.62,149.19 L304.47,149 L305.32,148.79 L306.17,148.56 L307.02,148.31 L307.86,148.05 L308.71,147.76 L309.56,147.46 L310.41,147.13 L311.25,146.78 L312.1,146.41 L312.95,146.02 L313.8,145.61 L314.65,145.17 L315.49,144.72 L316.34,144.25 L317.19,143.75 L318.04,143.24 L318.89,142.72 L319.73,142.18 L320.58,141.62 L321.43,141.06 L322.28,140.49 L323.12,139.91 L323.97,139.34 L324.82,138.76 L325.67,138.18 L326.52,137.62 L327.36,137.06 L328.21,136.52 L329.06,135.99 L329.91,135.49 L330.76,135.01 L331.6,134.56 L332.45,134.13 L333.3,133.74 L334.15,133.39 L334.99,133.07 L335.84,132.8 L336.69,132.57 L337.54,132.38 L338.39,132.23 L339.23,132.13 L340.08,132.08 L340.93,132.07 L341.78,132.11 L342.63,132.19 L343.47,132.32 L344.32,132.48 L345.17,132.69 L346.02,132.93 L346.87,133.21 L347.71,133.52 L348.56,133.85 L349.41,134.21 L350.26,134.59 L351.1,134.99 L351.95,135.4 L352.8,135.82 L353.65,136.25 L354.5,136.68 L355.34,137.11 L356.19,137.53 L357.04,137.94 L357.89,138.35 L358.74,138.74 L359.58,139.12 L360.43,139.47 L361.28,139.81 L362.13,140.13 L362.97,140.42 L363.82,140.7 L364.67,140.94 L365.52,141.17 L366.37,141.37 L367.21,141.55 L368.06,141.71 L368.91,141.85 L369.76,141.97 L370.61,142.07 L371.45,142.15 L372.3,142.21 L373.15,142.27 L374,142.31 L374.85,142.33 L375.69,142.35 L376.54,142.36 L377.39,142.35 L378.24,142.34 L379.08,142.32 L379.93,142.29 L380.78,142.25 L381.63,142.2 L382.48,142.13 L383.32,142.05 L384.17,141.95 L385.02,141.83 L385.87,141.69 L386.72,141.52 L387.56,141.32 L388.41,141.08 L389.26,140.79 L390.11,140.46 L390.95,140.08 L391.8,139.64 L392.65,139.14 L393.5,138.56 L394.35,137.92 L395.19,137.19 L396.04,136.37 L396.89,135.47 L397.74,134.47 L398.59,133.38 L399.43,132.18 L400.28,130.89 L401.13,129.5 L401.98,128 L402.83,126.41 L403.67,124.72 L404.52,122.95 L405.37,121.09 L406.22,119.16 L407.06,117.16 L407.91,115.11 L408.76,113.02 L409.61,110.9 L410.46,108.77 L411.3,106.65 L412.15,104.56 L413,102.52 L413.85,100.55 L414.7,98.67 L415.54,96.92 L416.39,95.31 L417.24,93.87 L418.09,92.63 L418.93,91.61 L419.78,90.83 L420.63,90.29 L421.48,90.03 L422.33,90.03 L423.17,90.3 L424.02,90.83 L424.87,91.62 L425.72,92.65 L426.57,93.9 L427.41,95.34 L428.26,96.96 L429.11,98.73 L429.96,100.62 L430.81,102.62 L431.65,104.69 L432.5,106.81 L433.35,108.97 L434.2,111.14 L435.04,113.3 L435.89,115.45 L436.74,117.56 L437.59,119.63 L438.44,121.64 L439.28,123.58 L440.13,125.44 L440.98,127.22 L441.83,128.92 L442.68,130.53 L443.52,132.04 L444.37,133.46 L445.22,134.79 L446.07,136.02 L446.91,137.17 L447.76,138.22 L448.61,139.19 L449.46,140.08 L450.31,140.89 L451.15,141.62 L452,142.29 L452.85,142.89 L453.7,143.43 L454.55,143.92 L455.39,144.35 L456.24,144.74 L457.09,145.09 L457.94,145.4 L458.78,145.68 L459.63,145.92 L460.48,146.14 L461.33,146.34 L462.18,146.51 L463.02,146.66 L463.87,146.8 L464.72,146.92 L465.57,147.03 L466.42,147.13 L467.26,147.22 L468.11,147.3 L468.96,147.37 L469.81,147.43 L470.66,147.49 L471.5,147.55 L472.35,147.6 L473.2,147.64 L474.05,147.69 L474.89,147.73 L475.74,147.76 L476.59,147.8 L477.44,147.83 L478.29,147.86 L479.13,147.89 L479.98,147.91 L480.83,147.94 L481.68,147.96 L482.53,147.98 L483.37,148 L484.22,148.02 L485.07,148.04 L485.92,148.06 L486.76,148.07 L487.61,148.09 L488.46,148.1 L489.31,148.12 L490.16,148.13 L491,148.14 L491.85,148.15 L492.7,148.16" stroke="#0000f0" stroke-width="2.2" fill="none" stroke-linejoin="round"/>
<rect x="272.5" y="6.5" width="220.8" height="152.8" fill="none" stroke="#333" stroke-width="1.15"/>
<path d="M272.5,159.3 L272.5,161.9 M297.03,159.3 L297.03,160.6 M321.57,159.3 L321.57,161.9 M346.1,159.3 L346.1,160.6 M370.63,159.3 L370.63,161.9 M395.17,159.3 L395.17,160.6 M419.7,159.3 L419.7,161.9 M444.23,159.3 L444.23,160.6 M468.77,159.3 L468.77,161.9 M493.3,159.3 L493.3,160.6" stroke="#333" stroke-width="0.9" fill="none"/>
<text x="272.5" y="170" font-family='"Liberation Sans", sans-serif' font-size="6.5" font-weight="normal" fill="#4a4a4a" text-anchor="middle" stroke="#4a4a4a" stroke-width="0.12" >282</text>
<text x="321.57" y="170" font-family='"Liberation Sans", sans-serif' font-size="6.5" font-weight="normal" fill="#4a4a4a" text-anchor="middle" stroke="#4a4a4a" stroke-width="0.12" >284</text>
<text x="370.63" y="170" font-family='"Liberation Sans", sans-serif' font-size="6.5" font-weight="normal" fill="#4a4a4a" text-anchor="middle" stroke="#4a4a4a" stroke-width="0.12" >286</text>
<text x="419.7" y="170" font-family='"Liberation Sans", sans-serif' font-size="6.5" font-weight="normal" fill="#4a4a4a" text-anchor="middle" stroke="#4a4a4a" stroke-width="0.12" >288</text>
<text x="468.77" y="170" font-family='"Liberation Sans", sans-serif' font-size="6.5" font-weight="normal" fill="#4a4a4a" text-anchor="middle" stroke="#4a4a4a" stroke-width="0.12" >290</text>
<text x="278.5" y="18.5" font-family='"Liberation Serif", serif' font-size="9" font-weight="normal" fill="#222" text-anchor="start" stroke="#222" stroke-width="0.22" >C 1s</text>
<text x="278.5" y="58.2" font-family='"Liberation Serif", serif' font-size="9" font-weight="normal" fill="#222" text-anchor="start" stroke="#222" stroke-width="0.22" >PCN</text>
<text x="276.3" y="137.7" font-family='"Liberation Serif", serif' font-size="9" font-weight="normal" fill="#222" text-anchor="start" stroke="#222" stroke-width="0.22" >CNW2</text>
<text x="333" y="124.3" font-family='"Liberation Serif", serif' font-size="9" font-weight="normal" fill="#222" text-anchor="start" stroke="#222" stroke-width="0.22" >C-C</text>
<text x="369.3" y="129.4" font-family='"Liberation Serif", serif' font-size="9" font-weight="normal" fill="#222" text-anchor="start" stroke="#222" stroke-width="0.22" >C-NH<tspan font-size="6" dy="2">2</tspan></text>
<text x="408.3" y="85" font-family='"Liberation Serif", serif' font-size="9" font-weight="normal" fill="#222" text-anchor="start" stroke="#222" stroke-width="0.22" >N-C=N</text>
<text x="321" y="182.3" font-family='"Liberation Serif", serif' font-size="13" font-weight="bold" fill="#111" text-anchor="start" >Binding Energy (eV)</text>
<text transform="translate(266.3,82.65) rotate(-90)" x="0" y="0" font-family='"Liberation Serif", serif' font-size="12.7" font-weight="bold" fill="#111" text-anchor="middle">Intensity (a.u.)</text>
<text x="250.3" y="22.1" font-family='"Liberation Serif", serif' font-size="15.3" font-weight="normal" fill="#222" text-anchor="start" stroke="#222" stroke-width="0.22" >(b)</text>
<path d="M26.8,253.8h2.6v2.6h-2.6z M28.4,253.72h2.6v2.6h-2.6z M30,253.63h2.6v2.6h-2.6z M31.6,253.54h2.6v2.6h-2.6z M33.2,253.44h2.6v2.6h-2.6z M34.8,253.34h2.6v2.6h-2.6z M36.4,253.23h2.6v2.6h-2.6z M38,253.1h2.6v2.6h-2.6z M39.6,252.94h2.6v2.6h-2.6z M41.2,252.76h2.6v2.6h-2.6z M42.8,252.52h2.6v2.6h-2.6z M44.4,252.21h2.6v2.6h-2.6z M46,251.79h2.6v2.6h-2.6z M47.6,251.22h2.6v2.6h-2.6z M49.2,250.44h2.6v2.6h-2.6z M50.8,249.39h2.6v2.6h-2.6z M52.4,247.99h2.6v2.6h-2.6z M54,246.16h2.6v2.6h-2.6z M55.6,243.82h2.6v2.6h-2.6z M57.2,240.9h2.6v2.6h-2.6z M58.8,237.34h2.6v2.6h-2.6z M60.4,233.12h2.6v2.6h-2.6z M62,228.29h2.6v2.6h-2.6z M63.6,222.97h2.6v2.6h-2.6z M65.2,217.3h2.6v2.6h-2.6z M66.8,211.51h2.6v2.6h-2.6z M68.4,205.88h2.6v2.6h-2.6z M70,200.72h2.6v2.6h-2.6z M71.6,196.35h2.6v2.6h-2.6z M73.2,193.1h2.6v2.6h-2.6z M74.8,191.23h2.6v2.6h-2.6z M76.4,190.88h2.6v2.6h-2.6z M78,191.98h2.6v2.6h-2.6z M79.6,194.37h2.6v2.6h-2.6z M81.2,197.77h2.6v2.6h-2.6z M82.8,201.86h2.6v2.6h-2.6z M84.4,206.33h2.6v2.6h-2.6z M86,210.86h2.6v2.6h-2.6z M87.6,215.2h2.6v2.6h-2.6z M89.2,219.15h2.6v2.6h-2.6z M90.8,222.61h2.6v2.6h-2.6z M92.4,225.52h2.6v2.6h-2.6z M94,227.9h2.6v2.6h-2.6z M95.6,229.81h2.6v2.6h-2.6z M97.2,231.33h2.6v2.6h-2.6z M98.8,232.58h2.6v2.6h-2.6z M100.4,233.63h2.6v2.6h-2.6z M102,234.52h2.6v2.6h-2.6z M103.6,235.29h2.6v2.6h-2.6z M105.2,235.97h2.6v2.6h-2.6z M106.8,236.56h2.6v2.6h-2.6z M108.4,237.07h2.6v2.6h-2.6z M110,237.48h2.6v2.6h-2.6z M111.6,237.82h2.6v2.6h-2.6z M113.2,238.09h2.6v2.6h-2.6z M114.8,238.32h2.6v2.6h-2.6z M116.4,238.55h2.6v2.6h-2.6z M118,238.83h2.6v2.6h-2.6z M119.6,239.2h2.6v2.6h-2.6z M121.2,239.67h2.6v2.6h-2.6z M122.8,240.27h2.6v2.6h-2.6z M124.4,240.99h2.6v2.6h-2.6z M126,241.82h2.6v2.6h-2.6z M127.6,242.73h2.6v2.6h-2.6z M129.2,243.67h2.6v2.6h-2.6z M130.8,244.61h2.6v2.6h-2.6z M132.4,245.51h2.6v2.6h-2.6z M134,246.33h2.6v2.6h-2.6z M135.6,247.04h2.6v2.6h-2.6z M137.2,247.65h2.6v2.6h-2.6z M138.8,248.13h2.6v2.6h-2.6z M140.4,248.5h2.6v2.6h-2.6z M142,248.76h2.6v2.6h-2.6z M143.6,248.95h2.6v2.6h-2.6z M145.2,249.07h2.6v2.6h-2.6z M146.8,249.12h2.6v2.6h-2.6z M148.4,249.13h2.6v2.6h-2.6z M150,249.09h2.6v2.6h-2.6z M151.6,249.03h2.6v2.6h-2.6z M153.2,248.95h2.6v2.6h-2.6z M154.8,248.85h2.6v2.6h-2.6z M156.4,248.74h2.6v2.6h-2.6z M158,248.62h2.6v2.6h-2.6z M159.6,248.5h2.6v2.6h-2.6z M161.2,248.38h2.6v2.6h-2.6z M162.8,248.25h2.6v2.6h-2.6z M164.4,248.13h2.6v2.6h-2.6z M166,248.01h2.6v2.6h-2.6z M167.6,247.89h2.6v2.6h-2.6z M169.2,247.78h2.6v2.6h-2.6z M170.8,247.68h2.6v2.6h-2.6z M172.4,247.59h2.6v2.6h-2.6z M174,247.51h2.6v2.6h-2.6z M175.6,247.44h2.6v2.6h-2.6z M177.2,247.38h2.6v2.6h-2.6z M178.8,247.34h2.6v2.6h-2.6z M180.4,247.31h2.6v2.6h-2.6z M182,247.3h2.6v2.6h-2.6z M183.6,247.31h2.6v2.6h-2.6z M185.2,247.33h2.6v2.6h-2.6z M186.8,247.36h2.6v2.6h-2.6z M188.4,247.41h2.6v2.6h-2.6z M190,247.48h2.6v2.6h-2.6z M191.6,247.56h2.6v2.6h-2.6z M193.2,247.65h2.6v2.6h-2.6z M194.8,247.75h2.6v2.6h-2.6z M196.4,247.86h2.6v2.6h-2.6z M198,247.98h2.6v2.6h-2.6z M199.6,248.1h2.6v2.6h-2.6z M201.2,248.23h2.6v2.6h-2.6z M202.8,248.36h2.6v2.6h-2.6z M204.4,248.5h2.6v2.6h-2.6z M206,248.63h2.6v2.6h-2.6z M207.6,248.76h2.6v2.6h-2.6z M209.2,248.89h2.6v2.6h-2.6z M210.8,249.02h2.6v2.6h-2.6z M212.4,249.14h2.6v2.6h-2.6z M214,249.26h2.6v2.6h-2.6z M215.6,249.37h2.6v2.6h-2.6z M217.2,249.47h2.6v2.6h-2.6z M218.8,249.57h2.6v2.6h-2.6z M220.4,249.66h2.6v2.6h-2.6z M222,249.74h2.6v2.6h-2.6z M223.6,249.82h2.6v2.6h-2.6z M225.2,249.89h2.6v2.6h-2.6z M226.8,249.95h2.6v2.6h-2.6z M228.4,250.01h2.6v2.6h-2.6z M230,250.06h2.6v2.6h-2.6z M231.6,250.1h2.6v2.6h-2.6z M233.2,250.14h2.6v2.6h-2.6z M234.8,250.18h2.6v2.6h-2.6z M236.4,250.21h2.6v2.6h-2.6z M238,250.23h2.6v2.6h-2.6z M239.6,250.25h2.6v2.6h-2.6z M241.2,250.27h2.6v2.6h-2.6z M242.8,250.29h2.6v2.6h-2.6z M244.4,250.3h2.6v2.6h-2.6z M246,250.31h2.6v2.6h-2.6z" fill="#3a3a3a"/>
<path d="M28.1,255.86 L28.95,255.81 L29.79,255.77 L30.64,255.73 L31.49,255.68 L32.34,255.64 L33.18,255.59 L34.03,255.54 L34.88,255.49 L35.73,255.44 L36.57,255.38 L37.42,255.33 L38.27,255.27 L39.12,255.2 L39.96,255.14 L40.81,255.06 L41.66,254.98 L42.51,254.89 L43.35,254.79 L44.2,254.68 L45.05,254.55 L45.9,254.4 L46.74,254.22 L47.59,254.02 L48.44,253.78 L49.29,253.5 L50.13,253.17 L50.98,252.77 L51.83,252.31 L52.68,251.78 L53.52,251.15 L54.37,250.42 L55.22,249.57 L56.07,248.6 L56.91,247.48 L57.76,246.22 L58.61,244.79 L59.46,243.2 L60.3,241.43 L61.15,239.46 L62,237.32 L62.85,235 L63.69,232.51 L64.54,229.86 L65.39,227.08 L66.24,224.18 L67.08,221.19 L67.93,218.15 L68.78,215.09 L69.63,212.05 L70.47,209.08 L71.32,206.24 L72.17,203.56 L73.02,201.11 L73.86,198.92 L74.71,197.06 L75.56,195.57 L76.41,194.47 L77.25,193.81 L78.1,193.6 L78.95,193.83 L79.8,194.5 L80.64,195.58 L81.49,197.05 L82.34,198.87 L83.19,201 L84.03,203.38 L84.88,205.98 L85.73,208.73 L86.58,211.59 L87.42,214.52 L88.27,217.46 L89.12,220.38 L89.97,223.25 L90.81,226.02 L91.66,228.68 L92.51,231.21 L93.36,233.58 L94.2,235.78 L95.05,237.81 L95.9,239.67 L96.75,241.35 L97.59,242.85 L98.44,244.2 L99.29,245.38 L100.14,246.42 L100.98,247.34 L101.83,248.14 L102.68,248.83 L103.53,249.42 L104.37,249.92 L105.22,250.33 L106.07,250.68 L106.92,250.98 L107.76,251.22 L108.61,251.42 L109.46,251.58 L110.31,251.71 L111.15,251.82 L112,251.91 L112.85,251.98 L113.7,252.04 L114.54,252.09 L115.39,252.13 L116.24,252.16 L117.09,252.18 L117.93,252.2 L118.78,252.22 L119.63,252.23 L120.48,252.24 L121.32,252.25 L122.17,252.26 L123.02,252.26 L123.87,252.27 L124.71,252.27 L125.56,252.27 L126.41,252.27 L127.26,252.27 L128.1,252.27 L128.95,252.27 L129.8,252.27 L130.65,252.27 L131.49,252.26 L132.34,252.26 L133.19,252.25 L134.04,252.25 L134.88,252.24 L135.73,252.24 L136.58,252.23 L137.43,252.23 L138.27,252.22 L139.12,252.21 L139.97,252.2 L140.82,252.2 L141.66,252.19 L142.51,252.18 L143.36,252.17 L144.21,252.16 L145.05,252.16 L145.9,252.16 L146.75,252.17 L147.6,252.17 L148.44,252.18 L149.29,252.18 L150.14,252.19 L150.99,252.19 L151.83,252.2 L152.68,252.2 L153.53,252.21 L154.38,252.21 L155.22,252.21 L156.07,252.22 L156.92,252.22 L157.77,252.23 L158.61,252.23 L159.46,252.23 L160.31,252.24 L161.16,252.24 L162,252.24 L162.85,252.25 L163.7,252.25 L164.55,252.25 L165.39,252.25 L166.24,252.26 L167.09,252.26 L167.94,252.26 L168.78,252.26 L169.63,252.27 L170.48,252.27 L171.33,252.27 L172.17,252.27 L173.02,252.28 L173.87,252.28 L174.72,252.28 L175.56,252.28 L176.41,252.28 L177.26,252.29 L178.11,252.29 L178.95,252.29 L179.8,252.29 L180.65,252.29 L181.5,252.3 L182.34,252.3 L183.19,252.3 L184.04,252.3 L184.89,252.3 L185.73,252.3 L186.58,252.3 L187.43,252.31 L188.28,252.31 L189.12,252.31 L189.97,252.31 L190.82,252.31 L191.67,252.31 L192.51,252.31 L193.36,252.32 L194.21,252.32 L195.06,252.32 L195.9,252.32 L196.75,252.32 L197.6,252.32 L198.45,252.32 L199.29,252.32 L200.14,252.32 L200.99,252.33 L201.84,252.33 L202.68,252.33 L203.53,252.33 L204.38,252.33 L205.23,252.33 L206.07,252.33 L206.92,252.33 L207.77,252.33 L208.62,252.33 L209.46,252.33 L210.31,252.34 L211.16,252.34 L212.01,252.34 L212.85,252.34 L213.7,252.34 L214.55,252.34 L215.4,252.34 L216.24,252.34 L217.09,252.34 L217.94,252.34 L218.79,252.34 L219.63,252.34 L220.48,252.34 L221.33,252.35 L222.18,252.35 L223.02,252.35 L223.87,252.35 L224.72,252.35 L225.57,252.35 L226.41,252.35 L227.26,252.35 L228.11,252.35 L228.11,252.4 L227.26,252.4 L226.41,252.4 L225.57,252.4 L224.72,252.4 L223.87,252.4 L223.02,252.4 L222.18,252.4 L221.33,252.4 L220.48,252.4 L219.63,252.4 L218.79,252.4 L217.94,252.4 L217.09,252.4 L216.24,252.4 L215.4,252.4 L214.55,252.4 L213.7,252.4 L212.85,252.4 L212.01,252.4 L211.16,252.4 L210.31,252.4 L209.46,252.4 L208.62,252.4 L207.77,252.4 L206.92,252.4 L206.07,252.4 L205.23,252.4 L204.38,252.4 L203.53,252.4 L202.68,252.4 L201.84,252.4 L200.99,252.4 L200.14,252.4 L199.29,252.4 L198.45,252.4 L197.6,252.4 L196.75,252.4 L195.9,252.4 L195.06,252.4 L194.21,252.4 L193.36,252.4 L192.51,252.4 L191.67,252.4 L190.82,252.4 L189.97,252.4 L189.12,252.4 L188.28,252.4 L187.43,252.4 L186.58,252.4 L185.73,252.4 L184.89,252.4 L184.04,252.4 L183.19,252.4 L182.34,252.4 L181.5,252.4 L180.65,252.4 L179.8,252.4 L178.95,252.4 L178.11,252.4 L177.26,252.4 L176.41,252.4 L175.56,252.4 L174.72,252.4 L173.87,252.4 L173.02,252.4 L172.17,252.4 L171.33,252.4 L170.48,252.4 L169.63,252.4 L168.78,252.4 L167.94,252.4 L167.09,252.4 L166.24,252.4 L165.39,252.4 L164.55,252.4 L163.7,252.4 L162.85,252.4 L162,252.4 L161.16,252.4 L160.31,252.4 L159.46,252.4 L158.61,252.4 L157.77,252.4 L156.92,252.4 L156.07,252.4 L155.22,252.4 L154.38,252.4 L153.53,252.4 L152.68,252.4 L151.83,252.4 L150.99,252.4 L150.14,252.4 L149.29,252.4 L148.44,252.4 L147.6,252.4 L146.75,252.4 L145.9,252.4 L145.05,252.4 L144.21,252.41 L143.36,252.43 L142.51,252.44 L141.66,252.46 L140.82,252.47 L139.97,252.49 L139.12,252.5 L138.27,252.52 L137.43,252.53 L136.58,252.55 L135.73,252.56 L134.88,252.58 L134.04,252.59 L133.19,252.61 L132.34,252.63 L131.49,252.64 L130.65,252.66 L129.8,252.67 L128.95,252.69 L128.1,252.7 L127.26,252.72 L126.41,252.73 L125.56,252.75 L124.71,252.76 L123.87,252.78 L123.02,252.79 L122.17,252.81 L121.32,252.82 L120.48,252.84 L119.63,252.85 L118.78,252.87 L117.93,252.88 L117.09,252.9 L116.24,252.91 L115.39,252.93 L114.54,252.94 L113.7,252.96 L112.85,252.97 L112,252.99 L111.15,253 L110.31,253.02 L109.46,253.03 L108.61,253.05 L107.76,253.06 L106.92,253.08 L106.07,253.09 L105.22,253.11 L104.37,253.12 L103.53,253.14 L102.68,253.15 L101.83,253.17 L100.98,253.18 L100.14,253.2 L99.29,253.24 L98.44,253.28 L97.59,253.32 L96.75,253.36 L95.9,253.41 L95.05,253.45 L94.2,253.49 L93.36,253.53 L92.51,253.57 L91.66,253.62 L90.81,253.66 L89.97,253.7 L89.12,253.74 L88.27,253.79 L87.42,253.83 L86.58,253.87 L85.73,253.91 L84.88,253.96 L84.03,254 L83.19,254.04 L82.34,254.08 L81.49,254.13 L80.64,254.17 L79.8,254.21 L78.95,254.25 L78.1,254.29 L77.25,254.34 L76.41,254.38 L75.56,254.42 L74.71,254.46 L73.86,254.51 L73.02,254.55 L72.17,254.59 L71.32,254.63 L70.47,254.68 L69.63,254.72 L68.78,254.76 L67.93,254.8 L67.08,254.85 L66.24,254.89 L65.39,254.93 L64.54,254.97 L63.69,255.02 L62.85,255.06 L62,255.1 L61.15,255.14 L60.3,255.18 L59.46,255.22 L58.61,255.25 L57.76,255.28 L56.91,255.3 L56.07,255.33 L55.22,255.36 L54.37,255.39 L53.52,255.42 L52.68,255.45 L51.83,255.48 L50.98,255.51 L50.13,255.53 L49.29,255.56 L48.44,255.59 L47.59,255.62 L46.74,255.65 L45.9,255.68 L45.05,255.71 L44.2,255.73 L43.35,255.76 L42.51,255.79 L41.66,255.82 L40.81,255.85 L39.96,255.88 L39.12,255.91 L38.27,255.94 L37.42,255.96 L36.57,255.99 L35.73,256.02 L34.88,256.05 L34.03,256.08 L33.18,256.11 L32.34,256.14 L31.49,256.16 L30.64,256.19 L29.79,256.22 L28.95,256.25 L28.1,256.28 Z" fill="#962bff" fill-opacity="0.6" stroke="none"/>
<path d="M68.78,254.7 L69.63,254.64 L70.47,254.58 L71.32,254.51 L72.17,254.43 L73.02,254.34 L73.86,254.24 L74.71,254.13 L75.56,254.01 L76.41,253.87 L77.25,253.71 L78.1,253.52 L78.95,253.32 L79.8,253.08 L80.64,252.82 L81.49,252.52 L82.34,252.19 L83.19,251.83 L84.03,251.42 L84.88,250.98 L85.73,250.5 L86.58,249.99 L87.42,249.43 L88.27,248.85 L89.12,248.24 L89.97,247.61 L90.81,246.96 L91.66,246.31 L92.51,245.65 L93.36,245 L94.2,244.37 L95.05,243.77 L95.9,243.2 L96.75,242.69 L97.59,242.23 L98.44,241.83 L99.29,241.5 L100.14,241.26 L100.98,241.12 L101.83,241.07 L102.68,241.1 L103.53,241.21 L104.37,241.41 L105.22,241.68 L106.07,242.03 L106.92,242.43 L107.76,242.9 L108.61,243.41 L109.46,243.96 L110.31,244.53 L111.15,245.12 L112,245.72 L112.85,246.32 L113.7,246.91 L114.54,247.48 L115.39,248.03 L116.24,248.56 L117.09,249.05 L117.93,249.5 L118.78,249.92 L119.63,250.3 L120.48,250.65 L121.32,250.95 L122.17,251.22 L123.02,251.46 L123.87,251.66 L124.71,251.84 L125.56,251.99 L126.41,252.11 L127.26,252.21 L128.1,252.29 L128.95,252.36 L129.8,252.41 L130.65,252.45 L131.49,252.48 L132.34,252.5 L133.19,252.51 L134.04,252.52 L134.88,252.52 L134.88,252.58 L134.04,252.59 L133.19,252.61 L132.34,252.63 L131.49,252.64 L130.65,252.66 L129.8,252.67 L128.95,252.69 L128.1,252.7 L127.26,252.72 L126.41,252.73 L125.56,252.75 L124.71,252.76 L123.87,252.78 L123.02,252.79 L122.17,252.81 L121.32,252.82 L120.48,252.84 L119.63,252.85 L118.78,252.87 L117.93,252.88 L117.09,252.9 L116.24,252.91 L115.39,252.93 L114.54,252.94 L113.7,252.96 L112.85,252.97 L112,252.99 L111.15,253 L110.31,253.02 L109.46,253.03 L108.61,253.05 L107.76,253.06 L106.92,253.08 L106.07,253.09 L105.22,253.11 L104.37,253.12 L103.53,253.14 L102.68,253.15 L101.83,253.17 L100.98,253.18 L100.14,253.2 L99.29,253.24 L98.44,253.28 L97.59,253.32 L96.75,253.36 L95.9,253.41 L95.05,253.45 L94.2,253.49 L93.36,253.53 L92.51,253.57 L91.66,253.62 L90.81,253.66 L89.97,253.7 L89.12,253.74 L88.27,253.79 L87.42,253.83 L86.58,253.87 L85.73,253.91 L84.88,253.96 L84.03,254 L83.19,254.04 L82.34,254.08 L81.49,254.13 L80.64,254.17 L79.8,254.21 L78.95,254.25 L78.1,254.29 L77.25,254.34 L76.41,254.38 L75.56,254.42 L74.71,254.46 L73.86,254.51 L73.02,254.55 L72.17,254.59 L71.32,254.63 L70.47,254.68 L69.63,254.72 L68.78,254.76 Z" fill="#ff00ff" fill-opacity="0.6" stroke="none"/>
<path d="M90.81,253.61 L91.66,253.55 L92.51,253.48 L93.36,253.42 L94.2,253.34 L95.05,253.26 L95.9,253.16 L96.75,253.06 L97.59,252.94 L98.44,252.81 L99.29,252.66 L100.14,252.5 L100.98,252.33 L101.83,252.15 L102.68,251.94 L103.53,251.7 L104.37,251.43 L105.22,251.13 L106.07,250.8 L106.92,250.44 L107.76,250.05 L108.61,249.63 L109.46,249.19 L110.31,248.72 L111.15,248.24 L112,247.74 L112.85,247.24 L113.7,246.74 L114.54,246.25 L115.39,245.77 L116.24,245.31 L117.09,244.89 L117.93,244.51 L118.78,244.17 L119.63,243.89 L120.48,243.67 L121.32,243.51 L122.17,243.42 L123.02,243.4 L123.87,243.44 L124.71,243.55 L125.56,243.73 L126.41,243.97 L127.26,244.26 L128.1,244.6 L128.95,244.98 L129.8,245.4 L130.65,245.84 L131.49,246.3 L132.34,246.77 L133.19,247.25 L134.04,247.72 L134.88,248.17 L135.73,248.61 L136.58,249.03 L137.43,249.43 L138.27,249.79 L139.12,250.13 L139.97,250.44 L140.82,250.71 L141.66,250.96 L142.51,251.17 L143.36,251.36 L144.21,251.53 L145.05,251.67 L145.9,251.8 L146.75,251.91 L147.6,252 L148.44,252.08 L149.29,252.15 L150.14,252.2 L150.99,252.24 L151.83,252.28 L152.68,252.3 L153.53,252.33 L154.38,252.34 L154.38,252.4 L153.53,252.4 L152.68,252.4 L151.83,252.4 L150.99,252.4 L150.14,252.4 L149.29,252.4 L148.44,252.4 L147.6,252.4 L146.75,252.4 L145.9,252.4 L145.05,252.4 L144.21,252.41 L143.36,252.43 L142.51,252.44 L141.66,252.46 L140.82,252.47 L139.97,252.49 L139.12,252.5 L138.27,252.52 L137.43,252.53 L136.58,252.55 L135.73,252.56 L134.88,252.58 L134.04,252.59 L133.19,252.61 L132.34,252.63 L131.49,252.64 L130.65,252.66 L129.8,252.67 L128.95,252.69 L128.1,252.7 L127.26,252.72 L126.41,252.73 L125.56,252.75 L124.71,252.76 L123.87,252.78 L123.02,252.79 L122.17,252.81 L121.32,252.82 L120.48,252.84 L119.63,252.85 L118.78,252.87 L117.93,252.88 L117.09,252.9 L116.24,252.91 L115.39,252.93 L114.54,252.94 L113.7,252.96 L112.85,252.97 L112,252.99 L111.15,253 L110.31,253.02 L109.46,253.03 L108.61,253.05 L107.76,253.06 L106.92,253.08 L106.07,253.09 L105.22,253.11 L104.37,253.12 L103.53,253.14 L102.68,253.15 L101.83,253.17 L100.98,253.18 L100.14,253.2 L99.29,253.24 L98.44,253.28 L97.59,253.32 L96.75,253.36 L95.9,253.41 L95.05,253.45 L94.2,253.49 L93.36,253.53 L92.51,253.57 L91.66,253.62 L90.81,253.66 Z" fill="#2bffff" fill-opacity="0.6" stroke="none"/>
<path d="M28.1,256.28 L28.95,256.25 L29.79,256.22 L30.64,256.19 L31.49,256.16 L32.34,256.14 L33.18,256.11 L34.03,256.08 L34.88,256.05 L35.73,256.02 L36.57,255.99 L37.42,255.96 L38.27,255.94 L39.12,255.91 L39.96,255.88 L40.81,255.85 L41.66,255.82 L42.51,255.79 L43.35,255.76 L44.2,255.73 L45.05,255.71 L45.9,255.68 L46.74,255.65 L47.59,255.62 L48.44,255.59 L49.29,255.56 L50.13,255.53 L50.98,255.51 L51.83,255.48 L52.68,255.45 L53.52,255.42 L54.37,255.39 L55.22,255.36 L56.07,255.33 L56.91,255.3 L57.76,255.28 L58.61,255.25 L59.46,255.22 L60.3,255.18 L61.15,255.14 L62,255.1 L62.85,255.06 L63.69,255.02 L64.54,254.97 L65.39,254.93 L66.24,254.89 L67.08,254.85 L67.93,254.8 L68.78,254.76 L69.63,254.72 L70.47,254.68 L71.32,254.63 L72.17,254.59 L73.02,254.55 L73.86,254.51 L74.71,254.46 L75.56,254.42 L76.41,254.38 L77.25,254.34 L78.1,254.29 L78.95,254.25 L79.8,254.21 L80.64,254.17 L81.49,254.13 L82.34,254.08 L83.19,254.04 L84.03,254 L84.88,253.96 L85.73,253.91 L86.58,253.87 L87.42,253.83 L88.27,253.79 L89.12,253.74 L89.97,253.7 L90.81,253.66 L91.66,253.62 L92.51,253.57 L93.36,253.53 L94.2,253.49 L95.05,253.45 L95.9,253.41 L96.75,253.36 L97.59,253.32 L98.44,253.28 L99.29,253.24 L100.14,253.2 L100.98,253.18 L101.83,253.17 L102.68,253.15 L103.53,253.14 L104.37,253.12 L105.22,253.11 L106.07,253.09 L106.92,253.08 L107.76,253.06 L108.61,253.05 L109.46,253.03 L110.31,253.02 L111.15,253 L112,252.99 L112.85,252.97 L113.7,252.96 L114.54,252.94 L115.39,252.93 L116.24,252.91 L117.09,252.9 L117.93,252.88 L118.78,252.87 L119.63,252.85 L120.48,252.84 L121.32,252.82 L122.17,252.81 L123.02,252.79 L123.87,252.78 L124.71,252.76 L125.56,252.75 L126.41,252.73 L127.26,252.72 L128.1,252.7 L128.95,252.69 L129.8,252.67 L130.65,252.66 L131.49,252.64 L132.34,252.63 L133.19,252.61 L134.04,252.59 L134.88,252.58 L135.73,252.56 L136.58,252.55 L137.43,252.53 L138.27,252.52 L139.12,252.5 L139.97,252.49 L140.82,252.47 L141.66,252.46 L142.51,252.44 L143.36,252.43 L144.21,252.41 L145.05,252.4 L145.9,252.4 L146.75,252.4 L147.6,252.4 L148.44,252.4 L149.29,252.4 L150.14,252.4 L150.99,252.4 L151.83,252.4 L152.68,252.4 L153.53,252.4 L154.38,252.4 L155.22,252.4 L156.07,252.4 L156.92,252.4 L157.77,252.4 L158.61,252.4 L159.46,252.4 L160.31,252.4 L161.16,252.4 L162,252.4 L162.85,252.4 L163.7,252.4 L164.55,252.4 L165.39,252.4 L166.24,252.4 L167.09,252.4 L167.94,252.4 L168.78,252.4 L169.63,252.4 L170.48,252.4 L171.33,252.4 L172.17,252.4 L173.02,252.4 L173.87,252.4 L174.72,252.4 L175.56,252.4 L176.41,252.4 L177.26,252.4 L178.11,252.4 L178.95,252.4 L179.8,252.4 L180.65,252.4 L181.5,252.4 L182.34,252.4 L183.19,252.4 L184.04,252.4 L184.89,252.4 L185.73,252.4 L186.58,252.4 L187.43,252.4 L188.28,252.4 L189.12,252.4 L189.97,252.4 L190.82,252.4 L191.67,252.4 L192.51,252.4 L193.36,252.4 L194.21,252.4 L195.06,252.4 L195.9,252.4 L196.75,252.4 L197.6,252.4 L198.45,252.4 L199.29,252.4 L200.14,252.4 L200.99,252.4 L201.84,252.4 L202.68,252.4 L203.53,252.4 L204.38,252.4 L205.23,252.4 L206.07,252.4 L206.92,252.4 L207.77,252.4 L208.62,252.4 L209.46,252.4 L210.31,252.4 L211.16,252.4 L212.01,252.4 L212.85,252.4 L213.7,252.4 L214.55,252.4 L215.4,252.4 L216.24,252.4 L217.09,252.4 L217.94,252.4 L218.79,252.4 L219.63,252.4 L220.48,252.4 L221.33,252.4 L222.18,252.4 L223.02,252.4 L223.87,252.4 L224.72,252.4 L225.57,252.4 L226.41,252.4 L227.26,252.4 L228.11,252.4 L228.96,252.4 L229.8,252.4 L230.65,252.4 L231.5,252.4 L232.35,252.4 L233.19,252.4 L234.04,252.4 L234.89,252.4 L235.74,252.4 L236.58,252.4 L237.43,252.4 L238.28,252.4 L239.13,252.4 L239.97,252.4 L240.82,252.4 L241.67,252.4 L242.52,252.4 L243.36,252.4 L244.21,252.4 L245.06,252.4 L245.91,252.4 L246.75,252.4 L247.6,252.4" stroke="#000080" stroke-width="1.4" fill="none"/>
<path d="M28.1,255.86 L28.95,255.81 L29.79,255.77 L30.64,255.73 L31.49,255.68 L32.34,255.64 L33.18,255.59 L34.03,255.54 L34.88,255.49 L35.73,255.44 L36.57,255.38 L37.42,255.33 L38.27,255.27 L39.12,255.2 L39.96,255.14 L40.81,255.06 L41.66,254.98 L42.51,254.89 L43.35,254.79 L44.2,254.68 L45.05,254.55 L45.9,254.4 L46.74,254.22 L47.59,254.02 L48.44,253.78 L49.29,253.5 L50.13,253.17 L50.98,252.77 L51.83,252.31 L52.68,251.78 L53.52,251.15 L54.37,250.42 L55.22,249.57 L56.07,248.6 L56.91,247.48 L57.76,246.22 L58.61,244.79 L59.46,243.2 L60.3,241.42 L61.15,239.46 L62,237.31 L62.85,234.99 L63.69,232.5 L64.54,229.85 L65.39,227.06 L66.24,224.15 L67.08,221.16 L67.93,218.1 L68.78,215.03 L69.63,211.97 L70.47,208.98 L71.32,206.11 L72.17,203.4 L73.02,200.9 L73.86,198.66 L74.71,196.73 L75.56,195.15 L76.41,193.96 L77.25,193.18 L78.1,192.83 L78.95,192.89 L79.8,193.37 L80.64,194.23 L81.49,195.45 L82.34,196.98 L83.19,198.78 L84.03,200.8 L84.88,203 L85.73,205.31 L86.58,207.69 L87.42,210.11 L88.27,212.5 L89.12,214.85 L89.97,217.12 L90.81,219.27 L91.66,221.3 L92.51,223.19 L93.36,224.93 L94.2,226.51 L95.05,227.94 L95.9,229.23 L96.75,230.37 L97.59,231.38 L98.44,232.28 L99.29,233.07 L100.14,233.78 L100.98,234.44 L101.83,235.03 L102.68,235.56 L103.53,236.05 L104.37,236.51 L105.22,236.93 L106.07,237.33 L106.92,237.7 L107.76,238.04 L108.61,238.36 L109.46,238.66 L110.31,238.93 L111.15,239.18 L112,239.4 L112.85,239.6 L113.7,239.78 L114.54,239.94 L115.39,240.08 L116.24,240.21 L117.09,240.33 L117.93,240.45 L118.78,240.58 L119.63,240.73 L120.48,240.89 L121.32,241.07 L122.17,241.29 L123.02,241.54 L123.87,241.82 L124.71,242.14 L125.56,242.5 L126.41,242.89 L127.26,243.31 L128.1,243.77 L128.95,244.24 L129.8,244.74 L130.65,245.25 L131.49,245.77 L132.34,246.28 L133.19,246.79 L134.04,247.29 L134.88,247.78 L135.73,248.24 L136.58,248.68 L137.43,249.09 L138.27,249.47 L139.12,249.82 L139.97,250.14 L140.82,250.43 L141.66,250.68 L142.51,250.91 L143.36,251.1 L144.21,251.27 L145.05,251.42 L145.9,251.56 L146.75,251.67 L147.6,251.77 L148.44,251.86 L149.29,251.93 L150.14,251.99 L150.99,252.03 L151.83,252.07 L152.68,252.11 L153.53,252.13 L154.38,252.15 L155.22,252.17 L156.07,252.19 L156.92,252.2 L157.77,252.21 L158.61,252.22 L159.46,252.22 L160.31,252.23 L161.16,252.23 L162,252.24 L162.85,252.24 L163.7,252.25 L164.55,252.25 L165.39,252.25 L166.24,252.26 L167.09,252.26 L167.94,252.26 L168.78,252.26 L169.63,252.27 L170.48,252.27 L171.33,252.27 L172.17,252.27 L173.02,252.28 L173.87,252.28 L174.72,252.28 L175.56,252.28 L176.41,252.28 L177.26,252.29 L178.11,252.29 L178.95,252.29 L179.8,252.29 L180.65,252.29 L181.5,252.3 L182.34,252.3 L183.19,252.3 L184.04,252.3 L184.89,252.3 L185.73,252.3 L186.58,252.3 L187.43,252.31 L188.28,252.31 L189.12,252.31 L189.97,252.31 L190.82,252.31 L191.67,252.31 L192.51,252.31 L193.36,252.32 L194.21,252.32 L195.06,252.32 L195.9,252.32 L196.75,252.32 L197.6,252.32 L198.45,252.32 L199.29,252.32 L200.14,252.32 L200.99,252.33 L201.84,252.33 L202.68,252.33 L203.53,252.33 L204.38,252.33 L205.23,252.33 L206.07,252.33 L206.92,252.33 L207.77,252.33 L208.62,252.33 L209.46,252.33 L210.31,252.34 L211.16,252.34 L212.01,252.34 L212.85,252.34 L213.7,252.34 L214.55,252.34 L215.4,252.34 L216.24,252.34 L217.09,252.34 L217.94,252.34 L218.79,252.34 L219.63,252.34 L220.48,252.34 L221.33,252.35 L222.18,252.35 L223.02,252.35 L223.87,252.35 L224.72,252.35 L225.57,252.35 L226.41,252.35 L227.26,252.35 L228.11,252.35 L228.96,252.35 L229.8,252.35 L230.65,252.35 L231.5,252.35 L232.35,252.35 L233.19,252.35 L234.04,252.35 L234.89,252.35 L235.74,252.35 L236.58,252.36 L237.43,252.36 L238.28,252.36 L239.13,252.36 L239.97,252.36 L240.82,252.36 L241.67,252.36 L242.52,252.36 L243.36,252.36 L244.21,252.36 L245.06,252.36 L245.91,252.36 L246.75,252.36 L247.6,252.36" stroke="#f00" stroke-width="2.0" fill="none" stroke-linejoin="round"/>
<path d="M26.7,332.34h2.8v2.8h-2.8z M28.3,332.3h2.8v2.8h-2.8z M29.9,332.24h2.8v2.8h-2.8z M31.5,332.18h2.8v2.8h-2.8z M33.1,332.1h2.8v2.8h-2.8z M34.7,332h2.8v2.8h-2.8z M36.3,331.87h2.8v2.8h-2.8z M37.9,331.69h2.8v2.8h-2.8z M39.5,331.43h2.8v2.8h-2.8z M41.1,331.07h2.8v2.8h-2.8z M42.7,330.58h2.8v2.8h-2.8z M44.3,329.9h2.8v2.8h-2.8z M45.9,328.98h2.8v2.8h-2.8z M47.5,327.77h2.8v2.8h-2.8z M49.1,326.2h2.8v2.8h-2.8z M50.7,324.19h2.8v2.8h-2.8z M52.3,321.7h2.8v2.8h-2.8z M53.9,318.68h2.8v2.8h-2.8z M55.5,315.11h2.8v2.8h-2.8z M57.1,311h2.8v2.8h-2.8z M58.7,306.35h2.8v2.8h-2.8z M60.3,301.28h2.8v2.8h-2.8z M61.9,295.95h2.8v2.8h-2.8z M63.5,290.53h2.8v2.8h-2.8z M65.1,285.24h2.8v2.8h-2.8z M66.7,280.31h2.8v2.8h-2.8z M68.3,275.98h2.8v2.8h-2.8z M69.9,272.47h2.8v2.8h-2.8z M71.5,269.94h2.8v2.8h-2.8z M73.1,268.54h2.8v2.8h-2.8z M74.7,268.32h2.8v2.8h-2.8z M76.3,269.38h2.8v2.8h-2.8z M77.9,271.63h2.8v2.8h-2.8z M79.5,274.88h2.8v2.8h-2.8z M81.1,278.85h2.8v2.8h-2.8z M82.7,283.27h2.8v2.8h-2.8z M84.3,287.85h2.8v2.8h-2.8z M85.9,292.31h2.8v2.8h-2.8z M87.5,296.45h2.8v2.8h-2.8z M89.1,300.1h2.8v2.8h-2.8z M90.7,303.17h2.8v2.8h-2.8z M92.3,305.64h2.8v2.8h-2.8z M93.9,307.55h2.8v2.8h-2.8z M95.5,309h2.8v2.8h-2.8z M97.1,310.11h2.8v2.8h-2.8z M98.7,311.05h2.8v2.8h-2.8z M100.3,311.88h2.8v2.8h-2.8z M101.9,312.65h2.8v2.8h-2.8z M103.5,313.41h2.8v2.8h-2.8z M105.1,314.17h2.8v2.8h-2.8z M106.7,314.91h2.8v2.8h-2.8z M108.3,315.61h2.8v2.8h-2.8z M109.9,316.24h2.8v2.8h-2.8z M111.5,316.77h2.8v2.8h-2.8z M113.1,317.2h2.8v2.8h-2.8z M114.7,317.55h2.8v2.8h-2.8z M116.3,317.84h2.8v2.8h-2.8z M117.9,318.13h2.8v2.8h-2.8z M119.5,318.46h2.8v2.8h-2.8z M121.1,318.88h2.8v2.8h-2.8z M122.7,319.4h2.8v2.8h-2.8z M124.3,320.04h2.8v2.8h-2.8z M125.9,320.79h2.8v2.8h-2.8z M127.5,321.62h2.8v2.8h-2.8z M129.1,322.5h2.8v2.8h-2.8z M130.7,323.38h2.8v2.8h-2.8z M132.3,324.23h2.8v2.8h-2.8z M133.9,325.01h2.8v2.8h-2.8z M135.5,325.68h2.8v2.8h-2.8z M137.1,326.25h2.8v2.8h-2.8z M138.7,326.69h2.8v2.8h-2.8z M140.3,327.03h2.8v2.8h-2.8z M141.9,327.26h2.8v2.8h-2.8z M143.5,327.4h2.8v2.8h-2.8z M145.1,327.46h2.8v2.8h-2.8z M146.7,327.47h2.8v2.8h-2.8z M148.3,327.44h2.8v2.8h-2.8z M149.9,327.38h2.8v2.8h-2.8z M151.5,327.3h2.8v2.8h-2.8z M153.1,327.19h2.8v2.8h-2.8z M154.7,327.08h2.8v2.8h-2.8z M156.3,326.95h2.8v2.8h-2.8z M157.9,326.82h2.8v2.8h-2.8z M159.5,326.68h2.8v2.8h-2.8z M161.1,326.53h2.8v2.8h-2.8z M162.7,326.39h2.8v2.8h-2.8z M164.3,326.26h2.8v2.8h-2.8z M165.9,326.12h2.8v2.8h-2.8z M167.5,326h2.8v2.8h-2.8z M169.1,325.88h2.8v2.8h-2.8z M170.7,325.77h2.8v2.8h-2.8z M172.3,325.68h2.8v2.8h-2.8z M173.9,325.6h2.8v2.8h-2.8z M175.5,325.54h2.8v2.8h-2.8z M177.1,325.5h2.8v2.8h-2.8z M178.7,325.47h2.8v2.8h-2.8z M180.3,325.47h2.8v2.8h-2.8z M181.9,325.48h2.8v2.8h-2.8z M183.5,325.51h2.8v2.8h-2.8z M185.1,325.56h2.8v2.8h-2.8z M186.7,325.63h2.8v2.8h-2.8z M188.3,325.71h2.8v2.8h-2.8z M189.9,325.81h2.8v2.8h-2.8z M191.5,325.93h2.8v2.8h-2.8z M193.1,326.05h2.8v2.8h-2.8z M194.7,326.18h2.8v2.8h-2.8z M196.3,326.32h2.8v2.8h-2.8z M197.9,326.47h2.8v2.8h-2.8z M199.5,326.61h2.8v2.8h-2.8z M201.1,326.76h2.8v2.8h-2.8z M202.7,326.91h2.8v2.8h-2.8z M204.3,327.06h2.8v2.8h-2.8z M205.9,327.2h2.8v2.8h-2.8z M207.5,327.33h2.8v2.8h-2.8z M209.1,327.46h2.8v2.8h-2.8z M210.7,327.58h2.8v2.8h-2.8z M212.3,327.7h2.8v2.8h-2.8z M213.9,327.8h2.8v2.8h-2.8z M215.5,327.9h2.8v2.8h-2.8z M217.1,327.99h2.8v2.8h-2.8z M218.7,328.07h2.8v2.8h-2.8z M220.3,328.14h2.8v2.8h-2.8z M221.9,328.21h2.8v2.8h-2.8z M223.5,328.26h2.8v2.8h-2.8z M225.1,328.31h2.8v2.8h-2.8z M226.7,328.36h2.8v2.8h-2.8z M228.3,328.4h2.8v2.8h-2.8z M229.9,328.43h2.8v2.8h-2.8z M231.5,328.46h2.8v2.8h-2.8z M233.1,328.48h2.8v2.8h-2.8z M234.7,328.5h2.8v2.8h-2.8z M236.3,328.52h2.8v2.8h-2.8z M237.9,328.54h2.8v2.8h-2.8z M239.5,328.55h2.8v2.8h-2.8z M241.1,328.56h2.8v2.8h-2.8z M242.7,328.57h2.8v2.8h-2.8z M244.3,328.58h2.8v2.8h-2.8z M245.9,328.58h2.8v2.8h-2.8z" fill="#2a2a2a"/>
<path d="M34.03,334.39 L34.88,334.35 L35.73,334.31 L36.57,334.26 L37.42,334.2 L38.27,334.14 L39.12,334.06 L39.96,333.97 L40.81,333.86 L41.66,333.73 L42.51,333.57 L43.35,333.39 L44.2,333.17 L45.05,332.9 L45.9,332.59 L46.74,332.23 L47.59,331.8 L48.44,331.29 L49.29,330.71 L50.13,330.03 L50.98,329.26 L51.83,328.37 L52.68,327.36 L53.52,326.22 L54.37,324.95 L55.22,323.53 L56.07,321.96 L56.91,320.24 L57.76,318.36 L58.61,316.33 L59.46,314.14 L60.3,311.81 L61.15,309.31 L62,306.7 L62.85,303.99 L63.69,301.2 L64.54,298.35 L65.39,295.48 L66.24,292.61 L67.08,289.78 L67.93,287.02 L68.78,284.37 L69.63,281.87 L70.47,279.54 L71.32,277.43 L72.17,275.56 L73.02,273.96 L73.86,272.66 L74.71,271.69 L75.56,271.04 L76.41,270.74 L77.25,270.8 L78.1,271.24 L78.95,272.05 L79.8,273.22 L80.64,274.73 L81.49,276.54 L82.34,278.62 L83.19,280.95 L84.03,283.47 L84.88,286.14 L85.73,288.94 L86.58,291.8 L87.42,294.71 L88.27,297.61 L89.12,300.47 L89.97,303.26 L90.81,305.95 L91.66,308.53 L92.51,310.96 L93.36,313.25 L94.2,315.37 L95.05,317.32 L95.9,319.1 L96.75,320.71 L97.59,322.15 L98.44,323.43 L99.29,324.56 L100.14,325.55 L100.98,326.45 L101.83,327.23 L102.68,327.9 L103.53,328.46 L104.37,328.94 L105.22,329.34 L106.07,329.68 L106.92,329.95 L107.76,330.18 L108.61,330.36 L109.46,330.5 L110.31,330.62 L111.15,330.71 L112,330.78 L112.85,330.83 L113.7,330.87 L114.54,330.9 L115.39,330.92 L116.24,330.94 L117.09,330.94 L117.09,330.99 L116.24,331.01 L115.39,331.02 L114.54,331.03 L113.7,331.04 L112.85,331.05 L112,331.06 L111.15,331.07 L110.31,331.08 L109.46,331.09 L108.61,331.1 L107.76,331.11 L106.92,331.12 L106.07,331.13 L105.22,331.14 L104.37,331.15 L103.53,331.16 L102.68,331.17 L101.83,331.18 L100.98,331.19 L100.14,331.2 L99.29,331.25 L98.44,331.3 L97.59,331.36 L96.75,331.41 L95.9,331.47 L95.05,331.52 L94.2,331.58 L93.36,331.63 L92.51,331.69 L91.66,331.74 L90.81,331.8 L89.97,331.85 L89.12,331.91 L88.27,331.96 L87.42,332.02 L86.58,332.07 L85.73,332.13 L84.88,332.18 L84.03,332.24 L83.19,332.29 L82.34,332.35 L81.49,332.4 L80.64,332.46 L79.8,332.51 L78.95,332.57 L78.1,332.62 L77.25,332.68 L76.41,332.73 L75.56,332.79 L74.71,332.84 L73.86,332.9 L73.02,332.95 L72.17,333.01 L71.32,333.06 L70.47,333.12 L69.63,333.17 L68.78,333.23 L67.93,333.28 L67.08,333.34 L66.24,333.39 L65.39,333.45 L64.54,333.5 L63.69,333.56 L62.85,333.61 L62,333.67 L61.15,333.73 L60.3,333.78 L59.46,333.81 L58.61,333.83 L57.76,333.86 L56.91,333.88 L56.07,333.9 L55.22,333.92 L54.37,333.94 L53.52,333.96 L52.68,333.98 L51.83,334 L50.98,334.02 L50.13,334.04 L49.29,334.06 L48.44,334.08 L47.59,334.11 L46.74,334.13 L45.9,334.15 L45.05,334.17 L44.2,334.19 L43.35,334.21 L42.51,334.23 L41.66,334.25 L40.81,334.27 L39.96,334.29 L39.12,334.31 L38.27,334.33 L37.42,334.36 L36.57,334.38 L35.73,334.4 L34.88,334.42 L34.03,334.44 Z" fill="#962bff" fill-opacity="0.6" stroke="none"/>
<path d="M71.32,333.01 L72.17,332.94 L73.02,332.86 L73.86,332.78 L74.71,332.69 L75.56,332.59 L76.41,332.47 L77.25,332.34 L78.1,332.2 L78.95,332.03 L79.8,331.84 L80.64,331.63 L81.49,331.39 L82.34,331.11 L83.19,330.79 L84.03,330.44 L84.88,330.04 L85.73,329.6 L86.58,329.11 L87.42,328.58 L88.27,327.99 L89.12,327.37 L89.97,326.7 L90.81,326 L91.66,325.27 L92.51,324.51 L93.36,323.75 L94.2,322.98 L95.05,322.22 L95.9,321.48 L96.75,320.78 L97.59,320.13 L98.44,319.54 L99.29,319.02 L100.14,318.58 L100.98,318.28 L101.83,318.08 L102.68,317.98 L103.53,317.98 L104.37,318.08 L105.22,318.29 L106.07,318.6 L106.92,318.99 L107.76,319.47 L108.61,320.01 L109.46,320.61 L110.31,321.26 L111.15,321.93 L112,322.63 L112.85,323.33 L113.7,324.03 L114.54,324.72 L115.39,325.38 L116.24,326.01 L117.09,326.6 L117.93,327.15 L118.78,327.65 L119.63,328.11 L120.48,328.52 L121.32,328.89 L122.17,329.21 L123.02,329.49 L123.87,329.73 L124.71,329.93 L125.56,330.11 L126.41,330.25 L127.26,330.37 L128.1,330.46 L128.95,330.54 L129.8,330.6 L130.65,330.64 L131.49,330.68 L132.34,330.7 L133.19,330.72 L134.04,330.73 L134.04,330.79 L133.19,330.8 L132.34,330.81 L131.49,330.82 L130.65,330.83 L129.8,330.84 L128.95,330.85 L128.1,330.86 L127.26,330.87 L126.41,330.88 L125.56,330.89 L124.71,330.9 L123.87,330.91 L123.02,330.92 L122.17,330.93 L121.32,330.94 L120.48,330.95 L119.63,330.96 L118.78,330.97 L117.93,330.98 L117.09,330.99 L116.24,331.01 L115.39,331.02 L114.54,331.03 L113.7,331.04 L112.85,331.05 L112,331.06 L111.15,331.07 L110.31,331.08 L109.46,331.09 L108.61,331.1 L107.76,331.11 L106.92,331.12 L106.07,331.13 L105.22,331.14 L104.37,331.15 L103.53,331.16 L102.68,331.17 L101.83,331.18 L100.98,331.19 L100.14,331.2 L99.29,331.25 L98.44,331.3 L97.59,331.36 L96.75,331.41 L95.9,331.47 L95.05,331.52 L94.2,331.58 L93.36,331.63 L92.51,331.69 L91.66,331.74 L90.81,331.8 L89.97,331.85 L89.12,331.91 L88.27,331.96 L87.42,332.02 L86.58,332.07 L85.73,332.13 L84.88,332.18 L84.03,332.24 L83.19,332.29 L82.34,332.35 L81.49,332.4 L80.64,332.46 L79.8,332.51 L78.95,332.57 L78.1,332.62 L77.25,332.68 L76.41,332.73 L75.56,332.79 L74.71,332.84 L73.86,332.9 L73.02,332.95 L72.17,333.01 L71.32,333.06 Z" fill="#ff00ff" fill-opacity="0.6" stroke="none"/>
<path d="M93.36,331.58 L94.2,331.5 L95.05,331.42 L95.9,331.34 L96.75,331.25 L97.59,331.15 L98.44,331.04 L99.29,330.91 L100.14,330.78 L100.98,330.67 L101.83,330.54 L102.68,330.39 L103.53,330.21 L104.37,330.01 L105.22,329.79 L106.07,329.53 L106.92,329.24 L107.76,328.93 L108.61,328.58 L109.46,328.2 L110.31,327.8 L111.15,327.37 L112,326.92 L112.85,326.46 L113.7,325.99 L114.54,325.51 L115.39,325.04 L116.24,324.58 L117.09,324.15 L117.93,323.74 L118.78,323.37 L119.63,323.05 L120.48,322.78 L121.32,322.57 L122.17,322.42 L123.02,322.33 L123.87,322.32 L124.71,322.37 L125.56,322.49 L126.41,322.68 L127.26,322.92 L128.1,323.22 L128.95,323.56 L129.8,323.94 L130.65,324.35 L131.49,324.79 L132.34,325.23 L133.19,325.69 L134.04,326.14 L134.88,326.59 L135.73,327.02 L136.58,327.43 L137.43,327.81 L138.27,328.17 L139.12,328.51 L139.97,328.81 L140.82,329.08 L141.66,329.32 L142.51,329.53 L143.36,329.71 L144.21,329.87 L145.05,330 L145.9,330.12 L146.75,330.21 L147.6,330.28 L148.44,330.34 L149.29,330.39 L150.14,330.43 L150.99,330.47 L151.83,330.5 L152.68,330.53 L153.53,330.55 L153.53,330.61 L152.68,330.61 L151.83,330.6 L150.99,330.6 L150.14,330.6 L149.29,330.61 L148.44,330.62 L147.6,330.63 L146.75,330.64 L145.9,330.65 L145.05,330.66 L144.21,330.67 L143.36,330.68 L142.51,330.69 L141.66,330.7 L140.82,330.71 L139.97,330.72 L139.12,330.73 L138.27,330.74 L137.43,330.75 L136.58,330.76 L135.73,330.77 L134.88,330.78 L134.04,330.79 L133.19,330.8 L132.34,330.81 L131.49,330.82 L130.65,330.83 L129.8,330.84 L128.95,330.85 L128.1,330.86 L127.26,330.87 L126.41,330.88 L125.56,330.89 L124.71,330.9 L123.87,330.91 L123.02,330.92 L122.17,330.93 L121.32,330.94 L120.48,330.95 L119.63,330.96 L118.78,330.97 L117.93,330.98 L117.09,330.99 L116.24,331.01 L115.39,331.02 L114.54,331.03 L113.7,331.04 L112.85,331.05 L112,331.06 L111.15,331.07 L110.31,331.08 L109.46,331.09 L108.61,331.1 L107.76,331.11 L106.92,331.12 L106.07,331.13 L105.22,331.14 L104.37,331.15 L103.53,331.16 L102.68,331.17 L101.83,331.18 L100.98,331.19 L100.14,331.2 L99.29,331.25 L98.44,331.3 L97.59,331.36 L96.75,331.41 L95.9,331.47 L95.05,331.52 L94.2,331.58 L93.36,331.63 Z" fill="#2bffff" fill-opacity="0.6" stroke="none"/>
<path d="M126.41,330.83 L127.26,330.81 L128.1,330.79 L128.95,330.77 L129.8,330.76 L130.65,330.73 L131.49,330.71 L132.34,330.69 L133.19,330.67 L134.04,330.64 L134.88,330.62 L135.73,330.59 L136.58,330.56 L137.43,330.53 L138.27,330.49 L139.12,330.46 L139.97,330.42 L140.82,330.39 L141.66,330.35 L142.51,330.3 L143.36,330.26 L144.21,330.21 L145.05,330.16 L145.9,330.11 L146.75,330.06 L147.6,330 L148.44,329.94 L149.29,329.88 L150.14,329.82 L150.99,329.77 L151.83,329.71 L152.68,329.65 L153.53,329.59 L154.38,329.53 L155.22,329.47 L156.07,329.4 L156.92,329.33 L157.77,329.26 L158.61,329.19 L159.46,329.12 L160.31,329.04 L161.16,328.97 L162,328.9 L162.85,328.82 L163.7,328.74 L164.55,328.67 L165.39,328.6 L166.24,328.52 L167.09,328.45 L167.94,328.38 L168.78,328.31 L169.63,328.24 L170.48,328.18 L171.33,328.11 L172.17,328.05 L173.02,328 L173.87,327.95 L174.72,327.9 L175.56,327.85 L176.41,327.81 L177.26,327.78 L178.11,327.75 L178.95,327.72 L179.8,327.7 L180.65,327.68 L181.5,327.67 L182.34,327.67 L183.19,327.67 L184.04,327.67 L184.89,327.68 L185.73,327.7 L186.58,327.72 L187.43,327.75 L188.28,327.78 L189.12,327.82 L189.97,327.86 L190.82,327.9 L191.67,327.95 L192.51,328.01 L193.36,328.07 L194.21,328.13 L195.06,328.19 L195.9,328.26 L196.75,328.33 L197.6,328.4 L198.45,328.47 L199.29,328.55 L200.14,328.62 L200.99,328.7 L201.84,328.78 L202.68,328.86 L203.53,328.94 L204.38,329.02 L205.23,329.09 L206.07,329.17 L206.92,329.25 L207.77,329.32 L208.62,329.4 L209.46,329.47 L210.31,329.54 L211.16,329.61 L212.01,329.68 L212.85,329.74 L213.7,329.81 L214.55,329.87 L215.4,329.93 L216.24,329.98 L217.09,330.03 L217.94,330.09 L218.79,330.13 L219.63,330.18 L220.48,330.23 L221.33,330.27 L222.18,330.31 L223.02,330.34 L223.87,330.38 L224.72,330.41 L225.57,330.44 L226.41,330.47 L227.26,330.5 L228.11,330.52 L228.96,330.55 L229.8,330.57 L230.65,330.59 L231.5,330.61 L232.35,330.62 L233.19,330.64 L234.04,330.66 L234.89,330.67 L235.74,330.68 L236.58,330.69 L237.43,330.7 L238.28,330.71 L239.13,330.72 L239.97,330.73 L239.97,330.78 L239.13,330.78 L238.28,330.78 L237.43,330.78 L236.58,330.78 L235.74,330.77 L234.89,330.77 L234.04,330.77 L233.19,330.77 L232.35,330.77 L231.5,330.77 L230.65,330.76 L229.8,330.76 L228.96,330.76 L228.11,330.76 L227.26,330.76 L226.41,330.76 L225.57,330.75 L224.72,330.75 L223.87,330.75 L223.02,330.75 L222.18,330.75 L221.33,330.75 L220.48,330.74 L219.63,330.74 L218.79,330.74 L217.94,330.74 L217.09,330.74 L216.24,330.73 L215.4,330.73 L214.55,330.73 L213.7,330.73 L212.85,330.73 L212.01,330.73 L211.16,330.72 L210.31,330.72 L209.46,330.72 L208.62,330.72 L207.77,330.72 L206.92,330.72 L206.07,330.71 L205.23,330.71 L204.38,330.71 L203.53,330.71 L202.68,330.71 L201.84,330.71 L200.99,330.7 L200.14,330.7 L199.29,330.7 L198.45,330.7 L197.6,330.7 L196.75,330.7 L195.9,330.69 L195.06,330.69 L194.21,330.69 L193.36,330.69 L192.51,330.69 L191.67,330.68 L190.82,330.68 L189.97,330.68 L189.12,330.68 L188.28,330.68 L187.43,330.68 L186.58,330.67 L185.73,330.67 L184.89,330.67 L184.04,330.67 L183.19,330.67 L182.34,330.67 L181.5,330.66 L180.65,330.66 L179.8,330.66 L178.95,330.66 L178.11,330.66 L177.26,330.66 L176.41,330.65 L175.56,330.65 L174.72,330.65 L173.87,330.65 L173.02,330.65 L172.17,330.65 L171.33,330.64 L170.48,330.64 L169.63,330.64 L168.78,330.64 L167.94,330.64 L167.09,330.63 L166.24,330.63 L165.39,330.63 L164.55,330.63 L163.7,330.63 L162.85,330.63 L162,330.62 L161.16,330.62 L160.31,330.62 L159.46,330.62 L158.61,330.62 L157.77,330.62 L156.92,330.61 L156.07,330.61 L155.22,330.61 L154.38,330.61 L153.53,330.61 L152.68,330.61 L151.83,330.6 L150.99,330.6 L150.14,330.6 L149.29,330.61 L148.44,330.62 L147.6,330.63 L146.75,330.64 L145.9,330.65 L145.05,330.66 L144.21,330.67 L143.36,330.68 L142.51,330.69 L141.66,330.7 L140.82,330.71 L139.97,330.72 L139.12,330.73 L138.27,330.74 L137.43,330.75 L136.58,330.76 L135.73,330.77 L134.88,330.78 L134.04,330.79 L133.19,330.8 L132.34,330.81 L131.49,330.82 L130.65,330.83 L129.8,330.84 L128.95,330.85 L128.1,330.86 L127.26,330.87 L126.41,330.88 Z" fill="#2b89ff" fill-opacity="0.6" stroke="none"/>
<path d="M28.1,334.59 L28.95,334.56 L29.79,334.54 L30.64,334.52 L31.49,334.5 L32.34,334.48 L33.18,334.46 L34.03,334.44 L34.88,334.42 L35.73,334.4 L36.57,334.38 L37.42,334.36 L38.27,334.33 L39.12,334.31 L39.96,334.29 L40.81,334.27 L41.66,334.25 L42.51,334.23 L43.35,334.21 L44.2,334.19 L45.05,334.17 L45.9,334.15 L46.74,334.13 L47.59,334.11 L48.44,334.08 L49.29,334.06 L50.13,334.04 L50.98,334.02 L51.83,334 L52.68,333.98 L53.52,333.96 L54.37,333.94 L55.22,333.92 L56.07,333.9 L56.91,333.88 L57.76,333.86 L58.61,333.83 L59.46,333.81 L60.3,333.78 L61.15,333.73 L62,333.67 L62.85,333.61 L63.69,333.56 L64.54,333.5 L65.39,333.45 L66.24,333.39 L67.08,333.34 L67.93,333.28 L68.78,333.23 L69.63,333.17 L70.47,333.12 L71.32,333.06 L72.17,333.01 L73.02,332.95 L73.86,332.9 L74.71,332.84 L75.56,332.79 L76.41,332.73 L77.25,332.68 L78.1,332.62 L78.95,332.57 L79.8,332.51 L80.64,332.46 L81.49,332.4 L82.34,332.35 L83.19,332.29 L84.03,332.24 L84.88,332.18 L85.73,332.13 L86.58,332.07 L87.42,332.02 L88.27,331.96 L89.12,331.91 L89.97,331.85 L90.81,331.8 L91.66,331.74 L92.51,331.69 L93.36,331.63 L94.2,331.58 L95.05,331.52 L95.9,331.47 L96.75,331.41 L97.59,331.36 L98.44,331.3 L99.29,331.25 L100.14,331.2 L100.98,331.19 L101.83,331.18 L102.68,331.17 L103.53,331.16 L104.37,331.15 L105.22,331.14 L106.07,331.13 L106.92,331.12 L107.76,331.11 L108.61,331.1 L109.46,331.09 L110.31,331.08 L111.15,331.07 L112,331.06 L112.85,331.05 L113.7,331.04 L114.54,331.03 L115.39,331.02 L116.24,331.01 L117.09,330.99 L117.93,330.98 L118.78,330.97 L119.63,330.96 L120.48,330.95 L121.32,330.94 L122.17,330.93 L123.02,330.92 L123.87,330.91 L124.71,330.9 L125.56,330.89 L126.41,330.88 L127.26,330.87 L128.1,330.86 L128.95,330.85 L129.8,330.84 L130.65,330.83 L131.49,330.82 L132.34,330.81 L133.19,330.8 L134.04,330.79 L134.88,330.78 L135.73,330.77 L136.58,330.76 L137.43,330.75 L138.27,330.74 L139.12,330.73 L139.97,330.72 L140.82,330.71 L141.66,330.7 L142.51,330.69 L143.36,330.68 L144.21,330.67 L145.05,330.66 L145.9,330.65 L146.75,330.64 L147.6,330.63 L148.44,330.62 L149.29,330.61 L150.14,330.6 L150.99,330.6 L151.83,330.6 L152.68,330.61 L153.53,330.61 L154.38,330.61 L155.22,330.61 L156.07,330.61 L156.92,330.61 L157.77,330.62 L158.61,330.62 L159.46,330.62 L160.31,330.62 L161.16,330.62 L162,330.62 L162.85,330.63 L163.7,330.63 L164.55,330.63 L165.39,330.63 L166.24,330.63 L167.09,330.63 L167.94,330.64 L168.78,330.64 L169.63,330.64 L170.48,330.64 L171.33,330.64 L172.17,330.65 L173.02,330.65 L173.87,330.65 L174.72,330.65 L175.56,330.65 L176.41,330.65 L177.26,330.66 L178.11,330.66 L178.95,330.66 L179.8,330.66 L180.65,330.66 L181.5,330.66 L182.34,330.67 L183.19,330.67 L184.04,330.67 L184.89,330.67 L185.73,330.67 L186.58,330.67 L187.43,330.68 L188.28,330.68 L189.12,330.68 L189.97,330.68 L190.82,330.68 L191.67,330.68 L192.51,330.69 L193.36,330.69 L194.21,330.69 L195.06,330.69 L195.9,330.69 L196.75,330.7 L197.6,330.7 L198.45,330.7 L199.29,330.7 L200.14,330.7 L200.99,330.7 L201.84,330.71 L202.68,330.71 L203.53,330.71 L204.38,330.71 L205.23,330.71 L206.07,330.71 L206.92,330.72 L207.77,330.72 L208.62,330.72 L209.46,330.72 L210.31,330.72 L211.16,330.72 L212.01,330.73 L212.85,330.73 L213.7,330.73 L214.55,330.73 L215.4,330.73 L216.24,330.73 L217.09,330.74 L217.94,330.74 L218.79,330.74 L219.63,330.74 L220.48,330.74 L221.33,330.75 L222.18,330.75 L223.02,330.75 L223.87,330.75 L224.72,330.75 L225.57,330.75 L226.41,330.76 L227.26,330.76 L228.11,330.76 L228.96,330.76 L229.8,330.76 L230.65,330.76 L231.5,330.77 L232.35,330.77 L233.19,330.77 L234.04,330.77 L234.89,330.77 L235.74,330.77 L236.58,330.78 L237.43,330.78 L238.28,330.78 L239.13,330.78 L239.97,330.78 L240.82,330.78 L241.67,330.79 L242.52,330.79 L243.36,330.79 L244.21,330.79 L245.06,330.79 L245.91,330.8 L246.75,330.8 L247.6,330.8" stroke="#000080" stroke-width="1.4" fill="none"/>
<path d="M28.1,334.58 L28.95,334.56 L29.79,334.53 L30.64,334.51 L31.49,334.48 L32.34,334.45 L33.18,334.42 L34.03,334.39 L34.88,334.35 L35.73,334.31 L36.57,334.26 L37.42,334.2 L38.27,334.14 L39.12,334.06 L39.96,333.97 L40.81,333.86 L41.66,333.73 L42.51,333.57 L43.35,333.39 L44.2,333.17 L45.05,332.9 L45.9,332.59 L46.74,332.23 L47.59,331.8 L48.44,331.29 L49.29,330.71 L50.13,330.03 L50.98,329.26 L51.83,328.37 L52.68,327.36 L53.52,326.22 L54.37,324.95 L55.22,323.53 L56.07,321.96 L56.91,320.24 L57.76,318.36 L58.61,316.33 L59.46,314.14 L60.3,311.8 L61.15,309.31 L62,306.7 L62.85,303.99 L63.69,301.2 L64.54,298.35 L65.39,295.47 L66.24,292.61 L67.08,289.77 L67.93,287.01 L68.78,284.35 L69.63,281.84 L70.47,279.5 L71.32,277.37 L72.17,275.49 L73.02,273.87 L73.86,272.54 L74.71,271.53 L75.56,270.84 L76.41,270.48 L77.25,270.46 L78.1,270.81 L78.95,271.52 L79.8,272.55 L80.64,273.9 L81.49,275.52 L82.34,277.38 L83.19,279.44 L84.03,281.66 L84.88,284 L85.73,286.41 L86.58,288.84 L87.42,291.26 L88.27,293.63 L89.12,295.92 L89.97,298.09 L90.81,300.13 L91.66,302.02 L92.51,303.75 L93.36,305.3 L94.2,306.69 L95.05,307.92 L95.9,308.99 L96.75,309.91 L97.59,310.71 L98.44,311.4 L99.29,312 L100.14,312.52 L100.98,313.03 L101.83,313.49 L102.68,313.92 L103.53,314.34 L104.37,314.74 L105.22,315.15 L106.07,315.55 L106.92,315.95 L107.76,316.35 L108.61,316.75 L109.46,317.14 L110.31,317.52 L111.15,317.88 L112,318.22 L112.85,318.53 L113.7,318.81 L114.54,319.07 L115.39,319.3 L116.24,319.5 L117.09,319.69 L117.93,319.85 L118.78,320.01 L119.63,320.16 L120.48,320.31 L121.32,320.48 L122.17,320.66 L123.02,320.86 L123.87,321.1 L124.71,321.36 L125.56,321.66 L126.41,321.99 L127.26,322.35 L128.1,322.74 L128.95,323.16 L129.8,323.6 L130.65,324.06 L131.49,324.53 L132.34,325 L133.19,325.47 L134.04,325.93 L134.88,326.37 L135.73,326.8 L136.58,327.2 L137.43,327.57 L138.27,327.91 L139.12,328.23 L139.97,328.5 L140.82,328.75 L141.66,328.96 L142.51,329.14 L143.36,329.29 L144.21,329.41 L145.05,329.51 L145.9,329.58 L146.75,329.63 L147.6,329.66 L148.44,329.67 L149.29,329.67 L150.14,329.65 L150.99,329.64 L151.83,329.61 L152.68,329.58 L153.53,329.54 L154.38,329.49 L155.22,329.43 L156.07,329.38 L156.92,329.31 L157.77,329.25 L158.61,329.18 L159.46,329.11 L160.31,329.04 L161.16,328.97 L162,328.89 L162.85,328.82 L163.7,328.74 L164.55,328.67 L165.39,328.59 L166.24,328.52 L167.09,328.45 L167.94,328.38 L168.78,328.31 L169.63,328.24 L170.48,328.18 L171.33,328.11 L172.17,328.05 L173.02,328 L173.87,327.95 L174.72,327.9 L175.56,327.85 L176.41,327.81 L177.26,327.78 L178.11,327.75 L178.95,327.72 L179.8,327.7 L180.65,327.68 L181.5,327.67 L182.34,327.67 L183.19,327.67 L184.04,327.67 L184.89,327.68 L185.73,327.7 L186.58,327.72 L187.43,327.75 L188.28,327.78 L189.12,327.82 L189.97,327.86 L190.82,327.9 L191.67,327.95 L192.51,328.01 L193.36,328.07 L194.21,328.13 L195.06,328.19 L195.9,328.26 L196.75,328.33 L197.6,328.4 L198.45,328.47 L199.29,328.55 L200.14,328.62 L200.99,328.7 L201.84,328.78 L202.68,328.86 L203.53,328.94 L204.38,329.02 L205.23,329.09 L206.07,329.17 L206.92,329.25 L207.77,329.32 L208.62,329.4 L209.46,329.47 L210.31,329.54 L211.16,329.61 L212.01,329.68 L212.85,329.74 L213.7,329.81 L214.55,329.87 L215.4,329.93 L216.24,329.98 L217.09,330.03 L217.94,330.09 L218.79,330.13 L219.63,330.18 L220.48,330.23 L221.33,330.27 L222.18,330.31 L223.02,330.34 L223.87,330.38 L224.72,330.41 L225.57,330.44 L226.41,330.47 L227.26,330.5 L228.11,330.52 L228.96,330.55 L229.8,330.57 L230.65,330.59 L231.5,330.61 L232.35,330.62 L233.19,330.64 L234.04,330.66 L234.89,330.67 L235.74,330.68 L236.58,330.69 L237.43,330.7 L238.28,330.71 L239.13,330.72 L239.97,330.73 L240.82,330.74 L241.67,330.75 L242.52,330.75 L243.36,330.76 L244.21,330.76 L245.06,330.77 L245.91,330.77 L246.75,330.78 L247.6,330.78" stroke="#0000f0" stroke-width="2.2" fill="none" stroke-linejoin="round"/>
<rect x="27.5" y="187" width="220.7" height="153.4" fill="none" stroke="#333" stroke-width="1.15"/>
<path d="M27.5,340.4 L27.5,343 M45.89,340.4 L45.89,341.7 M64.28,340.4 L64.28,343 M82.67,340.4 L82.67,341.7 M101.07,340.4 L101.07,343 M119.46,340.4 L119.46,341.7 M137.85,340.4 L137.85,343 M156.24,340.4 L156.24,341.7 M174.63,340.4 L174.63,343 M193.02,340.4 L193.02,341.7 M211.42,340.4 L211.42,343 M229.81,340.4 L229.81,341.7 M248.2,340.4 L248.2,343" stroke="#333" stroke-width="0.9" fill="none"/>
<text x="27.5" y="349.6" font-family='"Liberation Sans", sans-serif' font-size="6.5" font-weight="normal" fill="#4a4a4a" text-anchor="middle" stroke="#4a4a4a" stroke-width="0.12" >396</text>
<text x="64.28" y="349.6" font-family='"Liberation Sans", sans-serif' font-size="6.5" font-weight="normal" fill="#4a4a4a" text-anchor="middle" stroke="#4a4a4a" stroke-width="0.12" >398</text>
<text x="101.07" y="349.6" font-family='"Liberation Sans", sans-serif' font-size="6.5" font-weight="normal" fill="#4a4a4a" text-anchor="middle" stroke="#4a4a4a" stroke-width="0.12" >400</text>
<text x="137.85" y="349.6" font-family='"Liberation Sans", sans-serif' font-size="6.5" font-weight="normal" fill="#4a4a4a" text-anchor="middle" stroke="#4a4a4a" stroke-width="0.12" >402</text>
<text x="174.63" y="349.6" font-family='"Liberation Sans", sans-serif' font-size="6.5" font-weight="normal" fill="#4a4a4a" text-anchor="middle" stroke="#4a4a4a" stroke-width="0.12" >404</text>
<text x="211.42" y="349.6" font-family='"Liberation Sans", sans-serif' font-size="6.5" font-weight="normal" fill="#4a4a4a" text-anchor="middle" stroke="#4a4a4a" stroke-width="0.12" >406</text>
<text x="248.2" y="349.6" font-family='"Liberation Sans", sans-serif' font-size="6.5" font-weight="normal" fill="#4a4a4a" text-anchor="middle" stroke="#4a4a4a" stroke-width="0.12" >408</text>
<text x="32.8" y="199.5" font-family='"Liberation Serif", serif' font-size="9" font-weight="normal" fill="#222" text-anchor="start" stroke="#222" stroke-width="0.22" >N 1s</text>
<text x="33.5" y="239.8" font-family='"Liberation Serif", serif' font-size="9" font-weight="normal" fill="#222" text-anchor="start" stroke="#222" stroke-width="0.22" >PCN</text>
<text x="64.4" y="266" font-family='"Liberation Serif", serif' font-size="9" font-weight="normal" fill="#222" text-anchor="start" stroke="#222" stroke-width="0.22" >C-N=C</text>
<text x="28.3" y="318.2" font-family='"Liberation Serif", serif' font-size="9" font-weight="normal" fill="#222" text-anchor="start" stroke="#222" stroke-width="0.22" >CNW2</text>
<text x="101.5" y="299.3" font-family='"Liberation Serif", serif' font-size="9" font-weight="normal" fill="#222" text-anchor="start" stroke="#222" stroke-width="0.22" >N-(C<tspan font-size="5.5" dy="2.2">3</tspan><tspan dy="-2.2" dx="0.6">)</tspan></text>
<text x="128.2" y="314.7" font-family='"Liberation Serif", serif' font-size="9" font-weight="normal" fill="#222" text-anchor="start" stroke="#222" stroke-width="0.22" >C-N-H</text>
<text x="166.6" y="318" font-family='"Liberation Serif", serif' font-size="9.2" font-weight="normal" fill="#222" text-anchor="start" stroke="#222" stroke-width="0.22" >Charging Effect</text>
<text x="82.3" y="363" font-family='"Liberation Serif", serif' font-size="13" font-weight="bold" fill="#111" text-anchor="start" >Binding Energy (eV)</text>
<text transform="translate(19.8,268.4) rotate(-90)" x="0" y="0" font-family='"Liberation Serif", serif' font-size="12.7" font-weight="bold" fill="#111" text-anchor="middle">Intensity (a.u.)</text>
<text x="3.3" y="202.7" font-family='"Liberation Serif", serif' font-size="15.3" font-weight="normal" fill="#222" text-anchor="start" stroke="#222" stroke-width="0.22" >(c)</text>
<path d="M274.3,255.13 L276.8,255.49 L279.3,255.64 L281.8,256.08 L284.3,255.41 L286.8,255.98 L289.3,253.09 L291.8,254.47 L294.3,255.97 L296.8,255 L299.3,255.78 L301.8,253.19 L304.3,254.26 L306.8,253.46 L309.3,254.31 L311.8,254.27 L314.3,252.3 L316.8,252.71 L319.3,252.57 L321.8,254.13 L324.3,252.98 L326.8,250.14 L329.3,250.96 L331.8,247.35 L334.3,246.96 L336.8,242.94 L339.3,239.51 L341.8,238.67 L344.3,232.35 L346.8,227.67 L349.3,225.04 L351.8,219.29 L354.3,212.01 L356.8,209.05 L359.3,203.16 L361.8,199.92 L364.3,195.81 L366.8,196.83 L369.3,196.03 L371.8,198.2 L374.3,200.44 L376.8,202.04 L379.3,206.54 L381.8,210.77 L384.3,215.84 L386.8,220.76 L389.3,226.52 L391.8,232.11 L394.3,234.33 L396.8,240.08 L399.3,242.02 L401.8,244.41 L404.3,247.99 L406.8,248.41 L409.3,249 L411.8,250.36 L414.3,251.67 L416.8,249.99 L419.3,253.2 L421.8,250.37 L424.3,252.83 L426.8,253.23 L429.3,250.64 L431.8,253.14 L434.3,251.81 L436.8,252.5 L439.3,250.68 L441.8,250.8 L444.3,251.23 L446.8,253.71 L449.3,251.28 L451.8,253.07 L454.3,253.62 L456.8,253.65 L459.3,251.74 L461.8,251.77 L464.3,252.31 L466.8,253.11 L469.3,250.96 L471.8,253.01 L474.3,253.16 L476.8,253.35 L479.3,250.72 L481.8,253.62 L484.3,250.88 L486.8,251.67 L489.3,252.53 L491.8,253.51" stroke="#555" stroke-width="0.8" fill="none"/>
<path d="M272.8,253.63h3v3h-3z M275.3,253.99h3v3h-3z M277.8,254.14h3v3h-3z M280.3,254.58h3v3h-3z M282.8,253.91h3v3h-3z M285.3,254.48h3v3h-3z M287.8,251.59h3v3h-3z M290.3,252.97h3v3h-3z M292.8,254.47h3v3h-3z M295.3,253.5h3v3h-3z M297.8,254.28h3v3h-3z M300.3,251.69h3v3h-3z M302.8,252.76h3v3h-3z M305.3,251.96h3v3h-3z M307.8,252.81h3v3h-3z M310.3,252.77h3v3h-3z M312.8,250.8h3v3h-3z M315.3,251.21h3v3h-3z M317.8,251.07h3v3h-3z M320.3,252.63h3v3h-3z M322.8,251.48h3v3h-3z M325.3,248.64h3v3h-3z M327.8,249.46h3v3h-3z M330.3,245.85h3v3h-3z M332.8,245.46h3v3h-3z M335.3,241.44h3v3h-3z M337.8,238.01h3v3h-3z M340.3,237.17h3v3h-3z M342.8,230.85h3v3h-3z M345.3,226.17h3v3h-3z M347.8,223.54h3v3h-3z M350.3,217.79h3v3h-3z M352.8,210.51h3v3h-3z M355.3,207.55h3v3h-3z M357.8,201.66h3v3h-3z M360.3,198.42h3v3h-3z M362.8,194.31h3v3h-3z M365.3,195.33h3v3h-3z M367.8,194.53h3v3h-3z M370.3,196.7h3v3h-3z M372.8,198.94h3v3h-3z M375.3,200.54h3v3h-3z M377.8,205.04h3v3h-3z M380.3,209.27h3v3h-3z M382.8,214.34h3v3h-3z M385.3,219.26h3v3h-3z M387.8,225.02h3v3h-3z M390.3,230.61h3v3h-3z M392.8,232.83h3v3h-3z M395.3,238.58h3v3h-3z M397.8,240.52h3v3h-3z M400.3,242.91h3v3h-3z M402.8,246.49h3v3h-3z M405.3,246.91h3v3h-3z M407.8,247.5h3v3h-3z M410.3,248.86h3v3h-3z M412.8,250.17h3v3h-3z M415.3,248.49h3v3h-3z M417.8,251.7h3v3h-3z M420.3,248.87h3v3h-3z M422.8,251.33h3v3h-3z M425.3,251.73h3v3h-3z M427.8,249.14h3v3h-3z M430.3,251.64h3v3h-3z M432.8,250.31h3v3h-3z M435.3,251h3v3h-3z M437.8,249.18h3v3h-3z M440.3,249.3h3v3h-3z M442.8,249.73h3v3h-3z M445.3,252.21h3v3h-3z M447.8,249.78h3v3h-3z M450.3,251.57h3v3h-3z M452.8,252.12h3v3h-3z M455.3,252.15h3v3h-3z M457.8,250.24h3v3h-3z M460.3,250.27h3v3h-3z M462.8,250.81h3v3h-3z M465.3,251.61h3v3h-3z M467.8,249.46h3v3h-3z M470.3,251.51h3v3h-3z M472.8,251.66h3v3h-3z M475.3,251.85h3v3h-3z M477.8,249.22h3v3h-3z M480.3,252.12h3v3h-3z M482.8,249.38h3v3h-3z M485.3,250.17h3v3h-3z M487.8,251.03h3v3h-3z M490.3,252.01h3v3h-3z" fill="#474747"/>
<path d="M277.08,257.12 L277.93,257.11 L278.78,257.11 L279.62,257.1 L280.47,257.09 L281.31,257.08 L282.16,257.08 L283.01,257.07 L283.85,257.06 L284.7,257.05 L285.54,257.05 L286.39,257.04 L287.24,257.03 L288.08,257.02 L288.93,257.02 L289.77,257.01 L290.62,257 L291.46,256.99 L292.31,256.99 L293.16,256.98 L294,256.97 L294.85,256.96 L295.69,256.95 L296.54,256.94 L297.39,256.93 L298.23,256.92 L299.08,256.92 L299.92,256.91 L300.77,256.89 L301.62,256.86 L302.46,256.84 L303.31,256.82 L304.15,256.8 L305,256.77 L305.85,256.74 L306.69,256.72 L307.54,256.69 L308.38,256.66 L309.23,256.62 L310.08,256.59 L310.92,256.55 L311.77,256.5 L312.61,256.46 L313.46,256.41 L314.31,256.35 L315.15,256.29 L316,256.21 L316.84,256.14 L317.69,256.05 L318.54,255.95 L319.38,255.84 L320.23,255.72 L321.07,255.58 L321.92,255.42 L322.76,255.25 L323.61,255.05 L324.46,254.84 L325.3,254.59 L326.15,254.32 L326.99,254.02 L327.84,253.69 L328.69,253.32 L329.53,252.92 L330.38,252.47 L331.22,251.98 L332.07,251.44 L332.92,250.86 L333.76,250.22 L334.61,249.52 L335.45,248.77 L336.3,247.95 L337.15,247.07 L337.99,246.13 L338.84,245.12 L339.68,244.05 L340.53,242.9 L341.38,241.69 L342.22,240.41 L343.07,239.06 L343.91,237.65 L344.76,236.17 L345.61,234.63 L346.45,233.03 L347.3,231.38 L348.14,229.68 L348.99,227.94 L349.84,226.16 L350.68,224.35 L351.53,222.52 L352.37,220.67 L353.22,218.82 L354.06,216.97 L354.91,215.14 L355.76,213.34 L356.6,211.58 L357.45,209.86 L358.29,208.2 L359.14,206.61 L359.99,205.11 L360.83,203.69 L361.68,202.38 L362.52,201.18 L363.37,200.1 L364.22,199.14 L365.06,198.32 L365.91,197.65 L366.75,197.12 L367.6,196.74 L368.45,196.52 L369.29,196.45 L370.14,196.54 L370.98,196.77 L371.83,197.15 L372.68,197.67 L373.52,198.33 L374.37,199.12 L375.21,200.04 L376.06,201.08 L376.91,202.24 L377.75,203.5 L378.6,204.85 L379.44,206.29 L380.29,207.8 L381.14,209.38 L381.98,211.01 L382.83,212.69 L383.67,214.4 L384.52,216.14 L385.36,217.9 L386.21,219.65 L387.06,221.41 L387.9,223.16 L388.75,224.88 L389.59,226.58 L390.44,228.24 L391.29,229.87 L392.13,231.45 L392.98,232.98 L393.82,234.45 L394.67,235.87 L395.52,237.23 L396.36,238.53 L397.21,239.76 L398.05,240.92 L398.9,242.02 L399.75,243.06 L400.59,244.03 L401.44,244.94 L402.28,245.78 L403.13,246.57 L403.98,247.29 L404.82,247.96 L405.67,248.58 L406.51,249.14 L407.36,249.65 L408.21,250.12 L409.05,250.54 L409.9,250.92 L410.74,251.27 L411.59,251.58 L412.44,251.85 L413.28,252.1 L414.13,252.31 L414.97,252.5 L415.82,252.67 L416.66,252.82 L417.51,252.95 L418.36,253.05 L419.2,253.15 L420.05,253.23 L420.89,253.32 L421.74,253.4 L422.59,253.46 L423.43,253.52 L424.28,253.57 L425.12,253.62 L425.97,253.65 L426.82,253.69 L427.66,253.71 L428.51,253.74 L429.35,253.76 L430.2,253.78 L431.05,253.79 L431.89,253.8 L432.74,253.81 L433.58,253.82 L434.43,253.83 L435.28,253.83 L436.12,253.84 L436.97,253.84 L437.81,253.85 L438.66,253.85 L439.51,253.85 L440.35,253.85 L441.2,253.85 L442.04,253.85 L442.89,253.85 L443.74,253.85 L444.58,253.85 L445.43,253.85 L446.27,253.85 L447.12,253.85 L447.96,253.85 L448.81,253.85 L449.66,253.85 L450.5,253.85 L451.35,253.85 L452.19,253.85 L453.04,253.85 L453.89,253.85 L454.73,253.84 L455.58,253.84 L456.42,253.84 L457.27,253.84 L458.12,253.84 L458.96,253.84 L459.81,253.84 L460.65,253.84 L461.5,253.83 L462.35,253.83 L463.19,253.83 L463.19,253.88 L462.35,253.88 L461.5,253.89 L460.65,253.89 L459.81,253.89 L458.96,253.89 L458.12,253.9 L457.27,253.9 L456.42,253.9 L455.58,253.9 L454.73,253.91 L453.89,253.91 L453.04,253.91 L452.19,253.91 L451.35,253.91 L450.5,253.92 L449.66,253.92 L448.81,253.92 L447.96,253.92 L447.12,253.93 L446.27,253.93 L445.43,253.93 L444.58,253.93 L443.74,253.94 L442.89,253.94 L442.04,253.94 L441.2,253.94 L440.35,253.94 L439.51,253.95 L438.66,253.95 L437.81,253.95 L436.97,253.95 L436.12,253.96 L435.28,253.96 L434.43,253.96 L433.58,253.96 L432.74,253.97 L431.89,253.97 L431.05,253.97 L430.2,253.97 L429.35,253.97 L428.51,253.98 L427.66,253.98 L426.82,253.98 L425.97,253.98 L425.12,253.99 L424.28,253.99 L423.43,253.99 L422.59,253.99 L421.74,254 L420.89,254 L420.05,254 L419.2,254.02 L418.36,254.05 L417.51,254.07 L416.66,254.1 L415.82,254.12 L414.97,254.14 L414.13,254.17 L413.28,254.19 L412.44,254.22 L411.59,254.24 L410.74,254.26 L409.9,254.29 L409.05,254.31 L408.21,254.34 L407.36,254.36 L406.51,254.39 L405.67,254.41 L404.82,254.43 L403.98,254.46 L403.13,254.48 L402.28,254.51 L401.44,254.53 L400.59,254.55 L399.75,254.58 L398.9,254.6 L398.05,254.63 L397.21,254.65 L396.36,254.68 L395.52,254.7 L394.67,254.72 L393.82,254.75 L392.98,254.77 L392.13,254.8 L391.29,254.82 L390.44,254.84 L389.59,254.87 L388.75,254.89 L387.9,254.92 L387.06,254.94 L386.21,254.97 L385.36,254.99 L384.52,255.01 L383.67,255.04 L382.83,255.06 L381.98,255.09 L381.14,255.11 L380.29,255.13 L379.44,255.16 L378.6,255.18 L377.75,255.21 L376.91,255.23 L376.06,255.26 L375.21,255.28 L374.37,255.3 L373.52,255.33 L372.68,255.35 L371.83,255.38 L370.98,255.4 L370.14,255.42 L369.29,255.45 L368.45,255.47 L367.6,255.5 L366.75,255.52 L365.91,255.55 L365.06,255.57 L364.22,255.59 L363.37,255.62 L362.52,255.64 L361.68,255.67 L360.83,255.69 L359.99,255.71 L359.14,255.74 L358.29,255.76 L357.45,255.79 L356.6,255.81 L355.76,255.84 L354.91,255.86 L354.06,255.88 L353.22,255.91 L352.37,255.93 L351.53,255.96 L350.68,255.98 L349.84,256 L348.99,256.02 L348.14,256.04 L347.3,256.05 L346.45,256.07 L345.61,256.09 L344.76,256.1 L343.91,256.12 L343.07,256.14 L342.22,256.16 L341.38,256.17 L340.53,256.19 L339.68,256.21 L338.84,256.22 L337.99,256.24 L337.15,256.26 L336.3,256.27 L335.45,256.29 L334.61,256.31 L333.76,256.32 L332.92,256.34 L332.07,256.36 L331.22,256.38 L330.38,256.39 L329.53,256.41 L328.69,256.43 L327.84,256.44 L326.99,256.46 L326.15,256.48 L325.3,256.49 L324.46,256.51 L323.61,256.53 L322.76,256.54 L321.92,256.56 L321.07,256.58 L320.23,256.6 L319.38,256.61 L318.54,256.63 L317.69,256.65 L316.84,256.66 L316,256.68 L315.15,256.7 L314.31,256.71 L313.46,256.73 L312.61,256.75 L311.77,256.76 L310.92,256.78 L310.08,256.8 L309.23,256.82 L308.38,256.83 L307.54,256.85 L306.69,256.87 L305.85,256.88 L305,256.9 L304.15,256.92 L303.31,256.93 L302.46,256.95 L301.62,256.97 L300.77,256.98 L299.92,257 L299.08,257.01 L298.23,257.01 L297.39,257.02 L296.54,257.03 L295.69,257.03 L294.85,257.04 L294,257.04 L293.16,257.05 L292.31,257.06 L291.46,257.06 L290.62,257.07 L289.77,257.08 L288.93,257.08 L288.08,257.09 L287.24,257.09 L286.39,257.1 L285.54,257.11 L284.7,257.11 L283.85,257.12 L283.01,257.13 L282.16,257.13 L281.31,257.14 L280.47,257.15 L279.62,257.15 L278.78,257.16 L277.93,257.16 L277.08,257.17 Z" fill="#e94346" fill-opacity="0.6" stroke="none"/>
<path d="M273.7,257.2 L274.55,257.19 L275.39,257.18 L276.24,257.18 L277.08,257.17 L277.93,257.16 L278.78,257.16 L279.62,257.15 L280.47,257.15 L281.31,257.14 L282.16,257.13 L283.01,257.13 L283.85,257.12 L284.7,257.11 L285.54,257.11 L286.39,257.1 L287.24,257.09 L288.08,257.09 L288.93,257.08 L289.77,257.08 L290.62,257.07 L291.46,257.06 L292.31,257.06 L293.16,257.05 L294,257.04 L294.85,257.04 L295.69,257.03 L296.54,257.03 L297.39,257.02 L298.23,257.01 L299.08,257.01 L299.92,257 L300.77,256.98 L301.62,256.97 L302.46,256.95 L303.31,256.93 L304.15,256.92 L305,256.9 L305.85,256.88 L306.69,256.87 L307.54,256.85 L308.38,256.83 L309.23,256.82 L310.08,256.8 L310.92,256.78 L311.77,256.76 L312.61,256.75 L313.46,256.73 L314.31,256.71 L315.15,256.7 L316,256.68 L316.84,256.66 L317.69,256.65 L318.54,256.63 L319.38,256.61 L320.23,256.6 L321.07,256.58 L321.92,256.56 L322.76,256.54 L323.61,256.53 L324.46,256.51 L325.3,256.49 L326.15,256.48 L326.99,256.46 L327.84,256.44 L328.69,256.43 L329.53,256.41 L330.38,256.39 L331.22,256.38 L332.07,256.36 L332.92,256.34 L333.76,256.32 L334.61,256.31 L335.45,256.29 L336.3,256.27 L337.15,256.26 L337.99,256.24 L338.84,256.22 L339.68,256.21 L340.53,256.19 L341.38,256.17 L342.22,256.16 L343.07,256.14 L343.91,256.12 L344.76,256.1 L345.61,256.09 L346.45,256.07 L347.3,256.05 L348.14,256.04 L348.99,256.02 L349.84,256 L350.68,255.98 L351.53,255.96 L352.37,255.93 L353.22,255.91 L354.06,255.88 L354.91,255.86 L355.76,255.84 L356.6,255.81 L357.45,255.79 L358.29,255.76 L359.14,255.74 L359.99,255.71 L360.83,255.69 L361.68,255.67 L362.52,255.64 L363.37,255.62 L364.22,255.59 L365.06,255.57 L365.91,255.55 L366.75,255.52 L367.6,255.5 L368.45,255.47 L369.29,255.45 L370.14,255.42 L370.98,255.4 L371.83,255.38 L372.68,255.35 L373.52,255.33 L374.37,255.3 L375.21,255.28 L376.06,255.26 L376.91,255.23 L377.75,255.21 L378.6,255.18 L379.44,255.16 L380.29,255.13 L381.14,255.11 L381.98,255.09 L382.83,255.06 L383.67,255.04 L384.52,255.01 L385.36,254.99 L386.21,254.97 L387.06,254.94 L387.9,254.92 L388.75,254.89 L389.59,254.87 L390.44,254.84 L391.29,254.82 L392.13,254.8 L392.98,254.77 L393.82,254.75 L394.67,254.72 L395.52,254.7 L396.36,254.68 L397.21,254.65 L398.05,254.63 L398.9,254.6 L399.75,254.58 L400.59,254.55 L401.44,254.53 L402.28,254.51 L403.13,254.48 L403.98,254.46 L404.82,254.43 L405.67,254.41 L406.51,254.39 L407.36,254.36 L408.21,254.34 L409.05,254.31 L409.9,254.29 L410.74,254.26 L411.59,254.24 L412.44,254.22 L413.28,254.19 L414.13,254.17 L414.97,254.14 L415.82,254.12 L416.66,254.1 L417.51,254.07 L418.36,254.05 L419.2,254.02 L420.05,254 L420.89,254 L421.74,254 L422.59,253.99 L423.43,253.99 L424.28,253.99 L425.12,253.99 L425.97,253.98 L426.82,253.98 L427.66,253.98 L428.51,253.98 L429.35,253.97 L430.2,253.97 L431.05,253.97 L431.89,253.97 L432.74,253.97 L433.58,253.96 L434.43,253.96 L435.28,253.96 L436.12,253.96 L436.97,253.95 L437.81,253.95 L438.66,253.95 L439.51,253.95 L440.35,253.94 L441.2,253.94 L442.04,253.94 L442.89,253.94 L443.74,253.94 L444.58,253.93 L445.43,253.93 L446.27,253.93 L447.12,253.93 L447.96,253.92 L448.81,253.92 L449.66,253.92 L450.5,253.92 L451.35,253.91 L452.19,253.91 L453.04,253.91 L453.89,253.91 L454.73,253.91 L455.58,253.9 L456.42,253.9 L457.27,253.9 L458.12,253.9 L458.96,253.89 L459.81,253.89 L460.65,253.89 L461.5,253.89 L462.35,253.88 L463.19,253.88 L464.04,253.88 L464.88,253.88 L465.73,253.88 L466.58,253.87 L467.42,253.87 L468.27,253.87 L469.11,253.87 L469.96,253.86 L470.81,253.86 L471.65,253.86 L472.5,253.86 L473.34,253.85 L474.19,253.85 L475.04,253.85 L475.88,253.85 L476.73,253.85 L477.57,253.84 L478.42,253.84 L479.26,253.84 L480.11,253.84 L480.96,253.83 L481.8,253.83 L482.65,253.83 L483.49,253.83 L484.34,253.82 L485.19,253.82 L486.03,253.82 L486.88,253.82 L487.72,253.82 L488.57,253.81 L489.42,253.81 L490.26,253.81 L491.11,253.81 L491.95,253.8 L492.8,253.8" stroke="#000080" stroke-width="1.4" fill="none"/>
<path d="M273.7,257.15 L274.55,257.14 L275.39,257.13 L276.24,257.13 L277.08,257.12 L277.93,257.11 L278.78,257.11 L279.62,257.1 L280.47,257.09 L281.31,257.08 L282.16,257.08 L283.01,257.07 L283.85,257.06 L284.7,257.05 L285.54,257.05 L286.39,257.04 L287.24,257.03 L288.08,257.02 L288.93,257.02 L289.77,257.01 L290.62,257 L291.46,256.99 L292.31,256.99 L293.16,256.98 L294,256.97 L294.85,256.96 L295.69,256.95 L296.54,256.94 L297.39,256.93 L298.23,256.92 L299.08,256.92 L299.92,256.91 L300.77,256.89 L301.62,256.86 L302.46,256.84 L303.31,256.82 L304.15,256.8 L305,256.77 L305.85,256.74 L306.69,256.72 L307.54,256.69 L308.38,256.66 L309.23,256.62 L310.08,256.59 L310.92,256.55 L311.77,256.5 L312.61,256.46 L313.46,256.41 L314.31,256.35 L315.15,256.29 L316,256.21 L316.84,256.14 L317.69,256.05 L318.54,255.95 L319.38,255.84 L320.23,255.72 L321.07,255.58 L321.92,255.42 L322.76,255.25 L323.61,255.05 L324.46,254.84 L325.3,254.59 L326.15,254.32 L326.99,254.02 L327.84,253.69 L328.69,253.32 L329.53,252.92 L330.38,252.47 L331.22,251.98 L332.07,251.44 L332.92,250.86 L333.76,250.22 L334.61,249.52 L335.45,248.77 L336.3,247.95 L337.15,247.07 L337.99,246.13 L338.84,245.12 L339.68,244.05 L340.53,242.9 L341.38,241.69 L342.22,240.41 L343.07,239.06 L343.91,237.65 L344.76,236.17 L345.61,234.63 L346.45,233.03 L347.3,231.38 L348.14,229.68 L348.99,227.94 L349.84,226.16 L350.68,224.35 L351.53,222.52 L352.37,220.67 L353.22,218.82 L354.06,216.97 L354.91,215.14 L355.76,213.34 L356.6,211.58 L357.45,209.86 L358.29,208.2 L359.14,206.61 L359.99,205.11 L360.83,203.69 L361.68,202.38 L362.52,201.18 L363.37,200.1 L364.22,199.14 L365.06,198.32 L365.91,197.65 L366.75,197.12 L367.6,196.74 L368.45,196.52 L369.29,196.45 L370.14,196.54 L370.98,196.77 L371.83,197.15 L372.68,197.67 L373.52,198.33 L374.37,199.12 L375.21,200.04 L376.06,201.08 L376.91,202.24 L377.75,203.5 L378.6,204.85 L379.44,206.29 L380.29,207.8 L381.14,209.38 L381.98,211.01 L382.83,212.69 L383.67,214.4 L384.52,216.14 L385.36,217.9 L386.21,219.65 L387.06,221.41 L387.9,223.16 L388.75,224.88 L389.59,226.58 L390.44,228.24 L391.29,229.87 L392.13,231.45 L392.98,232.98 L393.82,234.45 L394.67,235.87 L395.52,237.23 L396.36,238.53 L397.21,239.76 L398.05,240.92 L398.9,242.02 L399.75,243.06 L400.59,244.03 L401.44,244.94 L402.28,245.78 L403.13,246.57 L403.98,247.29 L404.82,247.96 L405.67,248.58 L406.51,249.14 L407.36,249.65 L408.21,250.12 L409.05,250.54 L409.9,250.92 L410.74,251.27 L411.59,251.58 L412.44,251.85 L413.28,252.1 L414.13,252.31 L414.97,252.5 L415.82,252.67 L416.66,252.82 L417.51,252.95 L418.36,253.05 L419.2,253.15 L420.05,253.23 L420.89,253.32 L421.74,253.4 L422.59,253.46 L423.43,253.52 L424.28,253.57 L425.12,253.62 L425.97,253.65 L426.82,253.69 L427.66,253.71 L428.51,253.74 L429.35,253.76 L430.2,253.78 L431.05,253.79 L431.89,253.8 L432.74,253.81 L433.58,253.82 L434.43,253.83 L435.28,253.83 L436.12,253.84 L436.97,253.84 L437.81,253.85 L438.66,253.85 L439.51,253.85 L440.35,253.85 L441.2,253.85 L442.04,253.85 L442.89,253.85 L443.74,253.85 L444.58,253.85 L445.43,253.85 L446.27,253.85 L447.12,253.85 L447.96,253.85 L448.81,253.85 L449.66,253.85 L450.5,253.85 L451.35,253.85 L452.19,253.85 L453.04,253.85 L453.89,253.85 L454.73,253.84 L455.58,253.84 L456.42,253.84 L457.27,253.84 L458.12,253.84 L458.96,253.84 L459.81,253.84 L460.65,253.84 L461.5,253.83 L462.35,253.83 L463.19,253.83 L464.04,253.83 L464.88,253.83 L465.73,253.83 L466.58,253.83 L467.42,253.82 L468.27,253.82 L469.11,253.82 L469.96,253.82 L470.81,253.82 L471.65,253.82 L472.5,253.81 L473.34,253.81 L474.19,253.81 L475.04,253.81 L475.88,253.81 L476.73,253.81 L477.57,253.8 L478.42,253.8 L479.26,253.8 L480.11,253.8 L480.96,253.8 L481.8,253.8 L482.65,253.79 L483.49,253.79 L484.34,253.79 L485.19,253.79 L486.03,253.79 L486.88,253.79 L487.72,253.78 L488.57,253.78 L489.42,253.78 L490.26,253.78 L491.11,253.78 L491.95,253.77 L492.8,253.77" stroke="#f00" stroke-width="2.0" fill="none" stroke-linejoin="round"/>
<path d="M274.3,328.34 L276.8,330.3 L279.3,328.98 L281.8,328.15 L284.3,328.12 L286.8,327.6 L289.3,327.19 L291.8,327.35 L294.3,329.08 L296.8,329.99 L299.3,326.97 L301.8,326.34 L304.3,329.19 L306.8,327.17 L309.3,326.03 L311.8,324.4 L314.3,324.03 L316.8,322.5 L319.3,317.98 L321.8,313.51 L324.3,306.85 L326.8,303.55 L329.3,293.98 L331.8,289.34 L334.3,285.31 L336.8,279.23 L339.3,279.28 L341.8,279.48 L344.3,278.8 L346.8,280.05 L349.3,278.21 L351.8,279.2 L354.3,277.43 L356.8,278.43 L359.3,274.88 L361.8,273.71 L364.3,274.11 L366.8,272.6 L369.3,272.6 L371.8,271.05 L374.3,272.06 L376.8,274.4 L379.3,275.65 L381.8,277.62 L384.3,281.03 L386.8,283.49 L389.3,287.83 L391.8,293.39 L394.3,296.72 L396.8,298.96 L399.3,301.78 L401.8,304.29 L404.3,306.27 L406.8,309.45 L409.3,313.47 L411.8,315.87 L414.3,316.02 L416.8,319.06 L419.3,320.37 L421.8,321.23 L424.3,322.06 L426.8,323.12 L429.3,322.36 L431.8,323.97 L434.3,322.86 L436.8,323.8 L439.3,324.94 L441.8,324.85 L444.3,323.66 L446.8,326 L449.3,325.08 L451.8,324.92 L454.3,323.04 L456.8,324.91 L459.3,323.94 L461.8,325.4 L464.3,324.72 L466.8,325.94 L469.3,325.39 L471.8,325.91 L474.3,324.4 L476.8,325.42 L479.3,325.76 L481.8,326.08 L484.3,324.46 L486.8,326.15 L489.3,326.25 L491.8,325.64" stroke="#555" stroke-width="0.8" fill="none"/>
<path d="M272.8,326.84h3v3h-3z M275.3,328.8h3v3h-3z M277.8,327.48h3v3h-3z M280.3,326.65h3v3h-3z M282.8,326.62h3v3h-3z M285.3,326.1h3v3h-3z M287.8,325.69h3v3h-3z M290.3,325.85h3v3h-3z M292.8,327.58h3v3h-3z M295.3,328.49h3v3h-3z M297.8,325.47h3v3h-3z M300.3,324.84h3v3h-3z M302.8,327.69h3v3h-3z M305.3,325.67h3v3h-3z M307.8,324.53h3v3h-3z M310.3,322.9h3v3h-3z M312.8,322.53h3v3h-3z M315.3,321h3v3h-3z M317.8,316.48h3v3h-3z M320.3,312.01h3v3h-3z M322.8,305.35h3v3h-3z M325.3,302.05h3v3h-3z M327.8,292.48h3v3h-3z M330.3,287.84h3v3h-3z M332.8,283.81h3v3h-3z M335.3,277.73h3v3h-3z M337.8,277.78h3v3h-3z M340.3,277.98h3v3h-3z M342.8,277.3h3v3h-3z M345.3,278.55h3v3h-3z M347.8,276.71h3v3h-3z M350.3,277.7h3v3h-3z M352.8,275.93h3v3h-3z M355.3,276.93h3v3h-3z M357.8,273.38h3v3h-3z M360.3,272.21h3v3h-3z M362.8,272.61h3v3h-3z M365.3,271.1h3v3h-3z M367.8,271.1h3v3h-3z M370.3,269.55h3v3h-3z M372.8,270.56h3v3h-3z M375.3,272.9h3v3h-3z M377.8,274.15h3v3h-3z M380.3,276.12h3v3h-3z M382.8,279.53h3v3h-3z M385.3,281.99h3v3h-3z M387.8,286.33h3v3h-3z M390.3,291.89h3v3h-3z M392.8,295.22h3v3h-3z M395.3,297.46h3v3h-3z M397.8,300.28h3v3h-3z M400.3,302.79h3v3h-3z M402.8,304.77h3v3h-3z M405.3,307.95h3v3h-3z M407.8,311.97h3v3h-3z M410.3,314.37h3v3h-3z M412.8,314.52h3v3h-3z M415.3,317.56h3v3h-3z M417.8,318.87h3v3h-3z M420.3,319.73h3v3h-3z M422.8,320.56h3v3h-3z M425.3,321.62h3v3h-3z M427.8,320.86h3v3h-3z M430.3,322.47h3v3h-3z M432.8,321.36h3v3h-3z M435.3,322.3h3v3h-3z M437.8,323.44h3v3h-3z M440.3,323.35h3v3h-3z M442.8,322.16h3v3h-3z M445.3,324.5h3v3h-3z M447.8,323.58h3v3h-3z M450.3,323.42h3v3h-3z M452.8,321.54h3v3h-3z M455.3,323.41h3v3h-3z M457.8,322.44h3v3h-3z M460.3,323.9h3v3h-3z M462.8,323.22h3v3h-3z M465.3,324.44h3v3h-3z M467.8,323.89h3v3h-3z M470.3,324.41h3v3h-3z M472.8,322.9h3v3h-3z M475.3,323.92h3v3h-3z M477.8,324.26h3v3h-3z M480.3,324.58h3v3h-3z M482.8,322.96h3v3h-3z M485.3,324.65h3v3h-3z M487.8,324.75h3v3h-3z M490.3,324.14h3v3h-3z" fill="#474747"/>
<path d="M273.7,330.7 L274.55,330.7 L275.39,330.69 L276.24,330.68 L277.08,330.67 L277.93,330.66 L278.78,330.65 L279.62,330.64 L280.47,330.62 L281.31,330.61 L282.16,330.6 L283.01,330.59 L283.85,330.57 L284.7,330.56 L285.54,330.54 L286.39,330.52 L287.24,330.5 L288.08,330.49 L288.93,330.46 L289.77,330.44 L290.62,330.42 L291.46,330.39 L292.31,330.36 L293.16,330.33 L294,330.3 L294.85,330.26 L295.69,330.22 L296.54,330.18 L297.39,330.13 L298.23,330.08 L299.08,330.03 L299.92,329.97 L300.77,329.89 L301.62,329.81 L302.46,329.72 L303.31,329.63 L304.15,329.53 L305,329.42 L305.85,329.3 L306.69,329.17 L307.54,329.04 L308.38,328.89 L309.23,328.73 L310.08,328.55 L310.92,328.37 L311.77,328.16 L312.61,327.95 L313.46,327.71 L314.31,327.46 L315.15,327.2 L316,326.91 L316.84,326.6 L317.69,326.27 L318.54,325.92 L319.38,325.54 L320.23,325.14 L321.07,324.72 L321.92,324.27 L322.76,323.79 L323.61,323.28 L324.46,322.74 L325.3,322.17 L326.15,321.58 L326.99,320.95 L327.84,320.28 L328.69,319.59 L329.53,318.86 L330.38,318.09 L331.22,317.29 L332.07,316.46 L332.92,315.59 L333.76,314.69 L334.61,313.76 L335.45,312.79 L336.3,311.79 L337.15,310.76 L337.99,309.69 L338.84,308.6 L339.68,307.48 L340.53,306.33 L341.38,305.15 L342.22,303.95 L343.07,302.73 L343.91,301.5 L344.76,300.24 L345.61,298.97 L346.45,297.69 L347.3,296.41 L348.14,295.12 L348.99,293.82 L349.84,292.53 L350.68,291.25 L351.53,289.97 L352.37,288.71 L353.22,287.47 L354.06,286.24 L354.91,285.05 L355.76,283.88 L356.6,282.75 L357.45,281.65 L358.29,280.6 L359.14,279.59 L359.99,278.63 L360.83,277.73 L361.68,276.88 L362.52,276.09 L363.37,275.37 L364.22,274.72 L365.06,274.13 L365.91,273.62 L366.75,273.19 L367.6,272.83 L368.45,272.55 L369.29,272.35 L370.14,272.24 L370.98,272.2 L371.83,272.25 L372.68,272.37 L373.52,272.57 L374.37,272.85 L375.21,273.2 L376.06,273.63 L376.91,274.13 L377.75,274.7 L378.6,275.34 L379.44,276.04 L380.29,276.81 L381.14,277.63 L381.98,278.51 L382.83,279.43 L383.67,280.41 L384.52,281.43 L385.36,282.49 L386.21,283.58 L387.06,284.71 L387.9,285.86 L388.75,287.04 L389.59,288.24 L390.44,289.46 L391.29,290.69 L392.13,291.93 L392.98,293.17 L393.82,294.42 L394.67,295.66 L395.52,296.91 L396.36,298.14 L397.21,299.36 L398.05,300.57 L398.9,301.77 L399.75,302.95 L400.59,304.1 L401.44,305.24 L402.28,306.35 L403.13,307.44 L403.98,308.49 L404.82,309.52 L405.67,310.52 L406.51,311.49 L407.36,312.43 L408.21,313.34 L409.05,314.21 L409.9,315.05 L410.74,315.86 L411.59,316.63 L412.44,317.37 L413.28,318.08 L414.13,318.75 L414.97,319.4 L415.82,320.01 L416.66,320.59 L417.51,321.14 L418.36,321.66 L419.2,322.15 L420.05,322.61 L420.89,323.06 L421.74,323.48 L422.59,323.87 L423.43,324.24 L424.28,324.59 L425.12,324.91 L425.97,325.21 L426.82,325.5 L427.66,325.76 L428.51,326 L429.35,326.23 L430.2,326.44 L431.05,326.64 L431.89,326.82 L432.74,326.99 L433.58,327.14 L434.43,327.28 L435.28,327.42 L436.12,327.54 L436.97,327.65 L437.81,327.75 L438.66,327.84 L439.51,327.93 L440.35,328 L441.2,328.08 L442.04,328.14 L442.89,328.2 L443.74,328.26 L444.58,328.3 L445.43,328.35 L446.27,328.39 L447.12,328.43 L447.96,328.46 L448.81,328.49 L449.66,328.52 L450.5,328.55 L451.35,328.57 L452.19,328.59 L453.04,328.61 L453.89,328.63 L454.73,328.64 L455.58,328.66 L456.42,328.67 L457.27,328.68 L458.12,328.69 L458.96,328.7 L459.81,328.71 L460.65,328.72 L461.5,328.73 L462.35,328.73 L463.19,328.74 L464.04,328.74 L464.88,328.75 L465.73,328.75 L466.58,328.76 L467.42,328.76 L468.27,328.77 L469.11,328.77 L469.96,328.77 L470.81,328.78 L471.65,328.78 L472.5,328.78 L473.34,328.78 L474.19,328.79 L475.04,328.79 L475.88,328.79 L476.73,328.79 L477.57,328.79 L478.42,328.8 L479.26,328.8 L480.11,328.8 L480.96,328.8 L481.8,328.8 L482.65,328.8 L483.49,328.8 L484.34,328.8 L485.19,328.8 L486.03,328.8 L486.88,328.81 L487.72,328.81 L488.57,328.81 L489.42,328.81 L490.26,328.81 L491.11,328.81 L491.95,328.81 L492.8,328.81 L492.8,329 L491.95,329 L491.11,329.01 L490.26,329.01 L489.42,329.01 L488.57,329.01 L487.72,329.02 L486.88,329.02 L486.03,329.02 L485.19,329.02 L484.34,329.02 L483.49,329.03 L482.65,329.03 L481.8,329.03 L480.96,329.03 L480.11,329.04 L479.26,329.04 L478.42,329.04 L477.57,329.04 L476.73,329.05 L475.88,329.05 L475.04,329.05 L474.19,329.05 L473.34,329.05 L472.5,329.06 L471.65,329.06 L470.81,329.06 L469.96,329.06 L469.11,329.07 L468.27,329.07 L467.42,329.07 L466.58,329.07 L465.73,329.08 L464.88,329.08 L464.04,329.08 L463.19,329.08 L462.35,329.08 L461.5,329.09 L460.65,329.09 L459.81,329.09 L458.96,329.09 L458.12,329.1 L457.27,329.1 L456.42,329.1 L455.58,329.1 L454.73,329.11 L453.89,329.11 L453.04,329.11 L452.19,329.11 L451.35,329.11 L450.5,329.12 L449.66,329.12 L448.81,329.12 L447.96,329.12 L447.12,329.13 L446.27,329.13 L445.43,329.13 L444.58,329.13 L443.74,329.14 L442.89,329.14 L442.04,329.14 L441.2,329.14 L440.35,329.14 L439.51,329.15 L438.66,329.15 L437.81,329.15 L436.97,329.15 L436.12,329.16 L435.28,329.16 L434.43,329.16 L433.58,329.16 L432.74,329.17 L431.89,329.17 L431.05,329.17 L430.2,329.17 L429.35,329.17 L428.51,329.18 L427.66,329.18 L426.82,329.18 L425.97,329.18 L425.12,329.19 L424.28,329.19 L423.43,329.19 L422.59,329.19 L421.74,329.2 L420.89,329.2 L420.05,329.2 L419.2,329.21 L418.36,329.22 L417.51,329.24 L416.66,329.25 L415.82,329.26 L414.97,329.27 L414.13,329.28 L413.28,329.3 L412.44,329.31 L411.59,329.32 L410.74,329.33 L409.9,329.34 L409.05,329.36 L408.21,329.37 L407.36,329.38 L406.51,329.39 L405.67,329.4 L404.82,329.42 L403.98,329.43 L403.13,329.44 L402.28,329.45 L401.44,329.47 L400.59,329.48 L399.75,329.49 L398.9,329.5 L398.05,329.51 L397.21,329.53 L396.36,329.54 L395.52,329.55 L394.67,329.56 L393.82,329.57 L392.98,329.59 L392.13,329.6 L391.29,329.61 L390.44,329.62 L389.59,329.63 L388.75,329.65 L387.9,329.66 L387.06,329.67 L386.21,329.68 L385.36,329.69 L384.52,329.71 L383.67,329.72 L382.83,329.73 L381.98,329.74 L381.14,329.76 L380.29,329.77 L379.44,329.78 L378.6,329.79 L377.75,329.8 L376.91,329.82 L376.06,329.83 L375.21,329.84 L374.37,329.85 L373.52,329.86 L372.68,329.88 L371.83,329.89 L370.98,329.9 L370.14,329.91 L369.29,329.92 L368.45,329.94 L367.6,329.95 L366.75,329.96 L365.91,329.97 L365.06,329.98 L364.22,330 L363.37,330.01 L362.52,330.02 L361.68,330.03 L360.83,330.05 L359.99,330.06 L359.14,330.07 L358.29,330.08 L357.45,330.09 L356.6,330.11 L355.76,330.12 L354.91,330.13 L354.06,330.14 L353.22,330.15 L352.37,330.17 L351.53,330.18 L350.68,330.19 L349.84,330.2 L348.99,330.21 L348.14,330.23 L347.3,330.24 L346.45,330.25 L345.61,330.26 L344.76,330.27 L343.91,330.29 L343.07,330.3 L342.22,330.31 L341.38,330.32 L340.53,330.33 L339.68,330.34 L338.84,330.36 L337.99,330.37 L337.15,330.38 L336.3,330.39 L335.45,330.4 L334.61,330.42 L333.76,330.43 L332.92,330.44 L332.07,330.45 L331.22,330.46 L330.38,330.47 L329.53,330.49 L328.69,330.5 L327.84,330.51 L326.99,330.52 L326.15,330.53 L325.3,330.55 L324.46,330.56 L323.61,330.57 L322.76,330.58 L321.92,330.59 L321.07,330.6 L320.23,330.62 L319.38,330.63 L318.54,330.64 L317.69,330.65 L316.84,330.66 L316,330.68 L315.15,330.69 L314.31,330.7 L313.46,330.71 L312.61,330.72 L311.77,330.74 L310.92,330.75 L310.08,330.76 L309.23,330.77 L308.38,330.78 L307.54,330.79 L306.69,330.81 L305.85,330.82 L305,330.83 L304.15,330.84 L303.31,330.85 L302.46,330.87 L301.62,330.88 L300.77,330.89 L299.92,330.9 L299.08,330.9 L298.23,330.91 L297.39,330.91 L296.54,330.91 L295.69,330.92 L294.85,330.92 L294,330.92 L293.16,330.93 L292.31,330.93 L291.46,330.93 L290.62,330.93 L289.77,330.94 L288.93,330.94 L288.08,330.94 L287.24,330.95 L286.39,330.95 L285.54,330.95 L284.7,330.96 L283.85,330.96 L283.01,330.96 L282.16,330.97 L281.31,330.97 L280.47,330.97 L279.62,330.98 L278.78,330.98 L277.93,330.98 L277.08,330.99 L276.24,330.99 L275.39,330.99 L274.55,330.99 L273.7,331 Z" fill="#e94346" fill-opacity="0.6" stroke="none"/>
<path d="M304.15,330.79 L305,330.76 L305.85,330.72 L306.69,330.67 L307.54,330.61 L308.38,330.54 L309.23,330.46 L310.08,330.35 L310.92,330.22 L311.77,330.06 L312.61,329.86 L313.46,329.62 L314.31,329.33 L315.15,328.99 L316,328.58 L316.84,328.1 L317.69,327.55 L318.54,326.9 L319.38,326.17 L320.23,325.34 L321.07,324.41 L321.92,323.38 L322.76,322.25 L323.61,321.02 L324.46,319.71 L325.3,318.31 L326.15,316.85 L326.99,315.35 L327.84,313.82 L328.69,312.28 L329.53,310.76 L330.38,309.29 L331.22,307.9 L332.07,306.61 L332.92,305.45 L333.76,304.45 L334.61,303.62 L335.45,303 L336.3,302.58 L337.15,302.39 L337.99,302.42 L338.84,302.68 L339.68,303.16 L340.53,303.84 L341.38,304.72 L342.22,305.76 L343.07,306.95 L343.91,308.26 L344.76,309.66 L345.61,311.13 L346.45,312.64 L347.3,314.15 L348.14,315.65 L348.99,317.12 L349.84,318.53 L350.68,319.87 L351.53,321.13 L352.37,322.29 L353.22,323.36 L354.06,324.33 L354.91,325.19 L355.76,325.96 L356.6,326.63 L357.45,327.21 L358.29,327.71 L359.14,328.14 L359.99,328.5 L360.83,328.79 L361.68,329.04 L362.52,329.23 L363.37,329.39 L364.22,329.52 L365.06,329.62 L365.91,329.69 L366.75,329.75 L367.6,329.79 L368.45,329.82 L369.29,329.84 L370.14,329.85 L370.14,329.91 L369.29,329.92 L368.45,329.94 L367.6,329.95 L366.75,329.96 L365.91,329.97 L365.06,329.98 L364.22,330 L363.37,330.01 L362.52,330.02 L361.68,330.03 L360.83,330.05 L359.99,330.06 L359.14,330.07 L358.29,330.08 L357.45,330.09 L356.6,330.11 L355.76,330.12 L354.91,330.13 L354.06,330.14 L353.22,330.15 L352.37,330.17 L351.53,330.18 L350.68,330.19 L349.84,330.2 L348.99,330.21 L348.14,330.23 L347.3,330.24 L346.45,330.25 L345.61,330.26 L344.76,330.27 L343.91,330.29 L343.07,330.3 L342.22,330.31 L341.38,330.32 L340.53,330.33 L339.68,330.34 L338.84,330.36 L337.99,330.37 L337.15,330.38 L336.3,330.39 L335.45,330.4 L334.61,330.42 L333.76,330.43 L332.92,330.44 L332.07,330.45 L331.22,330.46 L330.38,330.47 L329.53,330.49 L328.69,330.5 L327.84,330.51 L326.99,330.52 L326.15,330.53 L325.3,330.55 L324.46,330.56 L323.61,330.57 L322.76,330.58 L321.92,330.59 L321.07,330.6 L320.23,330.62 L319.38,330.63 L318.54,330.64 L317.69,330.65 L316.84,330.66 L316,330.68 L315.15,330.69 L314.31,330.7 L313.46,330.71 L312.61,330.72 L311.77,330.74 L310.92,330.75 L310.08,330.76 L309.23,330.77 L308.38,330.78 L307.54,330.79 L306.69,330.81 L305.85,330.82 L305,330.83 L304.15,330.84 Z" fill="#910808" fill-opacity="0.92" stroke="none"/>
<path d="M273.7,331 L274.55,330.99 L275.39,330.99 L276.24,330.99 L277.08,330.99 L277.93,330.98 L278.78,330.98 L279.62,330.98 L280.47,330.97 L281.31,330.97 L282.16,330.97 L283.01,330.96 L283.85,330.96 L284.7,330.96 L285.54,330.95 L286.39,330.95 L287.24,330.95 L288.08,330.94 L288.93,330.94 L289.77,330.94 L290.62,330.93 L291.46,330.93 L292.31,330.93 L293.16,330.93 L294,330.92 L294.85,330.92 L295.69,330.92 L296.54,330.91 L297.39,330.91 L298.23,330.91 L299.08,330.9 L299.92,330.9 L300.77,330.89 L301.62,330.88 L302.46,330.87 L303.31,330.85 L304.15,330.84 L305,330.83 L305.85,330.82 L306.69,330.81 L307.54,330.79 L308.38,330.78 L309.23,330.77 L310.08,330.76 L310.92,330.75 L311.77,330.74 L312.61,330.72 L313.46,330.71 L314.31,330.7 L315.15,330.69 L316,330.68 L316.84,330.66 L317.69,330.65 L318.54,330.64 L319.38,330.63 L320.23,330.62 L321.07,330.6 L321.92,330.59 L322.76,330.58 L323.61,330.57 L324.46,330.56 L325.3,330.55 L326.15,330.53 L326.99,330.52 L327.84,330.51 L328.69,330.5 L329.53,330.49 L330.38,330.47 L331.22,330.46 L332.07,330.45 L332.92,330.44 L333.76,330.43 L334.61,330.42 L335.45,330.4 L336.3,330.39 L337.15,330.38 L337.99,330.37 L338.84,330.36 L339.68,330.34 L340.53,330.33 L341.38,330.32 L342.22,330.31 L343.07,330.3 L343.91,330.29 L344.76,330.27 L345.61,330.26 L346.45,330.25 L347.3,330.24 L348.14,330.23 L348.99,330.21 L349.84,330.2 L350.68,330.19 L351.53,330.18 L352.37,330.17 L353.22,330.15 L354.06,330.14 L354.91,330.13 L355.76,330.12 L356.6,330.11 L357.45,330.09 L358.29,330.08 L359.14,330.07 L359.99,330.06 L360.83,330.05 L361.68,330.03 L362.52,330.02 L363.37,330.01 L364.22,330 L365.06,329.98 L365.91,329.97 L366.75,329.96 L367.6,329.95 L368.45,329.94 L369.29,329.92 L370.14,329.91 L370.98,329.9 L371.83,329.89 L372.68,329.88 L373.52,329.86 L374.37,329.85 L375.21,329.84 L376.06,329.83 L376.91,329.82 L377.75,329.8 L378.6,329.79 L379.44,329.78 L380.29,329.77 L381.14,329.76 L381.98,329.74 L382.83,329.73 L383.67,329.72 L384.52,329.71 L385.36,329.69 L386.21,329.68 L387.06,329.67 L387.9,329.66 L388.75,329.65 L389.59,329.63 L390.44,329.62 L391.29,329.61 L392.13,329.6 L392.98,329.59 L393.82,329.57 L394.67,329.56 L395.52,329.55 L396.36,329.54 L397.21,329.53 L398.05,329.51 L398.9,329.5 L399.75,329.49 L400.59,329.48 L401.44,329.47 L402.28,329.45 L403.13,329.44 L403.98,329.43 L404.82,329.42 L405.67,329.4 L406.51,329.39 L407.36,329.38 L408.21,329.37 L409.05,329.36 L409.9,329.34 L410.74,329.33 L411.59,329.32 L412.44,329.31 L413.28,329.3 L414.13,329.28 L414.97,329.27 L415.82,329.26 L416.66,329.25 L417.51,329.24 L418.36,329.22 L419.2,329.21 L420.05,329.2 L420.89,329.2 L421.74,329.2 L422.59,329.19 L423.43,329.19 L424.28,329.19 L425.12,329.19 L425.97,329.18 L426.82,329.18 L427.66,329.18 L428.51,329.18 L429.35,329.17 L430.2,329.17 L431.05,329.17 L431.89,329.17 L432.74,329.17 L433.58,329.16 L434.43,329.16 L435.28,329.16 L436.12,329.16 L436.97,329.15 L437.81,329.15 L438.66,329.15 L439.51,329.15 L440.35,329.14 L441.2,329.14 L442.04,329.14 L442.89,329.14 L443.74,329.14 L444.58,329.13 L445.43,329.13 L446.27,329.13 L447.12,329.13 L447.96,329.12 L448.81,329.12 L449.66,329.12 L450.5,329.12 L451.35,329.11 L452.19,329.11 L453.04,329.11 L453.89,329.11 L454.73,329.11 L455.58,329.1 L456.42,329.1 L457.27,329.1 L458.12,329.1 L458.96,329.09 L459.81,329.09 L460.65,329.09 L461.5,329.09 L462.35,329.08 L463.19,329.08 L464.04,329.08 L464.88,329.08 L465.73,329.08 L466.58,329.07 L467.42,329.07 L468.27,329.07 L469.11,329.07 L469.96,329.06 L470.81,329.06 L471.65,329.06 L472.5,329.06 L473.34,329.05 L474.19,329.05 L475.04,329.05 L475.88,329.05 L476.73,329.05 L477.57,329.04 L478.42,329.04 L479.26,329.04 L480.11,329.04 L480.96,329.03 L481.8,329.03 L482.65,329.03 L483.49,329.03 L484.34,329.02 L485.19,329.02 L486.03,329.02 L486.88,329.02 L487.72,329.02 L488.57,329.01 L489.42,329.01 L490.26,329.01 L491.11,329.01 L491.95,329 L492.8,329" stroke="#000080" stroke-width="1.4" fill="none"/>
<path d="M273.7,330.7 L274.55,330.7 L275.39,330.69 L276.24,330.68 L277.08,330.67 L277.93,330.66 L278.78,330.65 L279.62,330.64 L280.47,330.62 L281.31,330.61 L282.16,330.6 L283.01,330.59 L283.85,330.57 L284.7,330.56 L285.54,330.54 L286.39,330.52 L287.24,330.5 L288.08,330.49 L288.93,330.46 L289.77,330.44 L290.62,330.42 L291.46,330.39 L292.31,330.36 L293.16,330.33 L294,330.3 L294.85,330.26 L295.69,330.22 L296.54,330.18 L297.39,330.13 L298.23,330.08 L299.08,330.02 L299.92,329.96 L300.77,329.88 L301.62,329.79 L302.46,329.7 L303.31,329.59 L304.15,329.48 L305,329.35 L305.85,329.2 L306.69,329.04 L307.54,328.86 L308.38,328.65 L309.23,328.41 L310.08,328.14 L310.92,327.84 L311.77,327.48 L312.61,327.08 L313.46,326.62 L314.31,326.1 L315.15,325.5 L316,324.81 L316.84,324.04 L317.69,323.16 L318.54,322.18 L319.38,321.09 L320.23,319.87 L321.07,318.52 L321.92,317.05 L322.76,315.46 L323.61,313.73 L324.46,311.89 L325.3,309.94 L326.15,307.9 L326.99,305.77 L327.84,303.59 L328.69,301.36 L329.53,299.13 L330.38,296.91 L331.22,294.73 L332.07,292.62 L332.92,290.61 L333.76,288.71 L334.61,286.97 L335.45,285.38 L336.3,283.98 L337.15,282.77 L337.99,281.75 L338.84,280.92 L339.68,280.29 L340.53,279.84 L341.38,279.55 L342.22,279.4 L343.07,279.39 L343.91,279.47 L344.76,279.63 L345.61,279.84 L346.45,280.08 L347.3,280.32 L348.14,280.54 L348.99,280.73 L349.84,280.86 L350.68,280.93 L351.53,280.92 L352.37,280.84 L353.22,280.67 L354.06,280.43 L354.91,280.11 L355.76,279.72 L356.6,279.27 L357.45,278.77 L358.29,278.23 L359.14,277.66 L359.99,277.07 L360.83,276.47 L361.68,275.88 L362.52,275.31 L363.37,274.76 L364.22,274.24 L365.06,273.77 L365.91,273.34 L366.75,272.98 L367.6,272.67 L368.45,272.43 L369.29,272.27 L370.14,272.17 L370.98,272.15 L371.83,272.21 L372.68,272.35 L373.52,272.55 L374.37,272.84 L375.21,273.2 L376.06,273.63 L376.91,274.13 L377.75,274.7 L378.6,275.34 L379.44,276.04 L380.29,276.81 L381.14,277.63 L381.98,278.51 L382.83,279.43 L383.67,280.41 L384.52,281.43 L385.36,282.49 L386.21,283.58 L387.06,284.71 L387.9,285.86 L388.75,287.04 L389.59,288.24 L390.44,289.46 L391.29,290.69 L392.13,291.93 L392.98,293.17 L393.82,294.42 L394.67,295.66 L395.52,296.91 L396.36,298.14 L397.21,299.36 L398.05,300.57 L398.9,301.77 L399.75,302.95 L400.59,304.1 L401.44,305.24 L402.28,306.35 L403.13,307.44 L403.98,308.49 L404.82,309.52 L405.67,310.52 L406.51,311.49 L407.36,312.43 L408.21,313.34 L409.05,314.21 L409.9,315.05 L410.74,315.86 L411.59,316.63 L412.44,317.37 L413.28,318.08 L414.13,318.75 L414.97,319.4 L415.82,320.01 L416.66,320.59 L417.51,321.14 L418.36,321.66 L419.2,322.15 L420.05,322.61 L420.89,323.06 L421.74,323.48 L422.59,323.87 L423.43,324.24 L424.28,324.59 L425.12,324.91 L425.97,325.21 L426.82,325.5 L427.66,325.76 L428.51,326 L429.35,326.23 L430.2,326.44 L431.05,326.64 L431.89,326.82 L432.74,326.99 L433.58,327.14 L434.43,327.28 L435.28,327.42 L436.12,327.54 L436.97,327.65 L437.81,327.75 L438.66,327.84 L439.51,327.93 L440.35,328 L441.2,328.08 L442.04,328.14 L442.89,328.2 L443.74,328.26 L444.58,328.3 L445.43,328.35 L446.27,328.39 L447.12,328.43 L447.96,328.46 L448.81,328.49 L449.66,328.52 L450.5,328.55 L451.35,328.57 L452.19,328.59 L453.04,328.61 L453.89,328.63 L454.73,328.64 L455.58,328.66 L456.42,328.67 L457.27,328.68 L458.12,328.69 L458.96,328.7 L459.81,328.71 L460.65,328.72 L461.5,328.73 L462.35,328.73 L463.19,328.74 L464.04,328.74 L464.88,328.75 L465.73,328.75 L466.58,328.76 L467.42,328.76 L468.27,328.77 L469.11,328.77 L469.96,328.77 L470.81,328.78 L471.65,328.78 L472.5,328.78 L473.34,328.78 L474.19,328.79 L475.04,328.79 L475.88,328.79 L476.73,328.79 L477.57,328.79 L478.42,328.8 L479.26,328.8 L480.11,328.8 L480.96,328.8 L481.8,328.8 L482.65,328.8 L483.49,328.8 L484.34,328.8 L485.19,328.8 L486.03,328.8 L486.88,328.81 L487.72,328.81 L488.57,328.81 L489.42,328.81 L490.26,328.81 L491.11,328.81 L491.95,328.81 L492.8,328.81" stroke="#0000f0" stroke-width="2.2" fill="none" stroke-linejoin="round"/>
<rect x="273.1" y="187.5" width="220.3" height="153" fill="none" stroke="#333" stroke-width="1.15"/>
<path d="M273.1,340.5 L273.1,343.1 M291.46,340.5 L291.46,341.8 M309.82,340.5 L309.82,343.1 M328.18,340.5 L328.18,341.8 M346.53,340.5 L346.53,343.1 M364.89,340.5 L364.89,341.8 M383.25,340.5 L383.25,343.1 M401.61,340.5 L401.61,341.8 M419.97,340.5 L419.97,343.1 M438.32,340.5 L438.32,341.8 M456.68,340.5 L456.68,343.1 M475.04,340.5 L475.04,341.8 M493.4,340.5 L493.4,343.1" stroke="#333" stroke-width="0.9" fill="none"/>
<text x="273.1" y="349.6" font-family='"Liberation Sans", sans-serif' font-size="6.5" font-weight="normal" fill="#4a4a4a" text-anchor="middle" stroke="#4a4a4a" stroke-width="0.12" >526</text>
<text x="309.82" y="349.6" font-family='"Liberation Sans", sans-serif' font-size="6.5" font-weight="normal" fill="#4a4a4a" text-anchor="middle" stroke="#4a4a4a" stroke-width="0.12" >528</text>
<text x="346.53" y="349.6" font-family='"Liberation Sans", sans-serif' font-size="6.5" font-weight="normal" fill="#4a4a4a" text-anchor="middle" stroke="#4a4a4a" stroke-width="0.12" >530</text>
<text x="383.25" y="349.6" font-family='"Liberation Sans", sans-serif' font-size="6.5" font-weight="normal" fill="#4a4a4a" text-anchor="middle" stroke="#4a4a4a" stroke-width="0.12" >532</text>
<text x="419.97" y="349.6" font-family='"Liberation Sans", sans-serif' font-size="6.5" font-weight="normal" fill="#4a4a4a" text-anchor="middle" stroke="#4a4a4a" stroke-width="0.12" >534</text>
<text x="456.68" y="349.6" font-family='"Liberation Sans", sans-serif' font-size="6.5" font-weight="normal" fill="#4a4a4a" text-anchor="middle" stroke="#4a4a4a" stroke-width="0.12" >536</text>
<text x="493.4" y="349.6" font-family='"Liberation Sans", sans-serif' font-size="6.5" font-weight="normal" fill="#4a4a4a" text-anchor="middle" stroke="#4a4a4a" stroke-width="0.12" >538</text>
<text x="277.8" y="199.3" font-family='"Liberation Serif", serif' font-size="9" font-weight="normal" fill="#222" text-anchor="start" stroke="#222" stroke-width="0.22" >O 1s</text>
<text x="281.5" y="238.5" font-family='"Liberation Serif", serif' font-size="9" font-weight="normal" fill="#222" text-anchor="start" stroke="#222" stroke-width="0.22" >PCN</text>
<text x="277.8" y="313.4" font-family='"Liberation Serif", serif' font-size="9" font-weight="normal" fill="#222" text-anchor="start" stroke="#222" stroke-width="0.22" >CNW2</text>
<text x="311.2" y="280" font-family='"Liberation Serif", serif' font-size="9" font-weight="normal" fill="#222" text-anchor="start" stroke="#222" stroke-width="0.22" >O<tspan font-size="6.2" dy="2.3">latt</tspan></text>
<text x="394.6" y="279" font-family='"Liberation Serif", serif' font-size="9" font-weight="normal" fill="#222" text-anchor="start" stroke="#222" stroke-width="0.22" >O<tspan font-size="6.2" dy="2.3">ad</tspan></text>
<text x="319.2" y="363.6" font-family='"Liberation Serif", serif' font-size="13" font-weight="bold" fill="#111" text-anchor="start" >Binding Energy (eV)</text>
<text transform="translate(266.5,264.65) rotate(-90)" x="0" y="0" font-family='"Liberation Serif", serif' font-size="12.7" font-weight="bold" fill="#111" text-anchor="middle">Intensity (a.u.)</text>
<text x="250.3" y="203.9" font-family='"Liberation Serif", serif' font-size="15.3" font-weight="normal" fill="#222" text-anchor="start" stroke="#222" stroke-width="0.22" >(d)</text>
<path d="M26.85,437.07h2.5v2.5h-2.5z M28.55,437.05h2.5v2.5h-2.5z M30.25,437.03h2.5v2.5h-2.5z M31.95,437.01h2.5v2.5h-2.5z M33.65,436.99h2.5v2.5h-2.5z M35.35,436.96h2.5v2.5h-2.5z M37.05,436.94h2.5v2.5h-2.5z M38.75,436.91h2.5v2.5h-2.5z M40.45,436.88h2.5v2.5h-2.5z M42.15,436.85h2.5v2.5h-2.5z M43.85,436.82h2.5v2.5h-2.5z M45.55,436.78h2.5v2.5h-2.5z M47.25,436.74h2.5v2.5h-2.5z M48.95,436.7h2.5v2.5h-2.5z M50.65,436.65h2.5v2.5h-2.5z M52.35,436.6h2.5v2.5h-2.5z M54.05,436.54h2.5v2.5h-2.5z M55.75,436.47h2.5v2.5h-2.5z M57.45,436.39h2.5v2.5h-2.5z M59.15,436.28h2.5v2.5h-2.5z M60.85,436.15h2.5v2.5h-2.5z M62.55,435.99h2.5v2.5h-2.5z M64.25,435.79h2.5v2.5h-2.5z M65.95,435.49h2.5v2.5h-2.5z M67.65,435.03h2.5v2.5h-2.5z M69.35,434.26h2.5v2.5h-2.5z M71.05,432.95h2.5v2.5h-2.5z M72.75,430.81h2.5v2.5h-2.5z M74.45,427.44h2.5v2.5h-2.5z M76.15,422.5h2.5v2.5h-2.5z M77.85,415.77h2.5v2.5h-2.5z M79.55,407.35h2.5v2.5h-2.5z M81.25,397.94h2.5v2.5h-2.5z M82.95,388.69h2.5v2.5h-2.5z M84.65,381.17h2.5v2.5h-2.5z M86.35,377.07h2.5v2.5h-2.5z M88.05,377.49h2.5v2.5h-2.5z M89.75,382.25h2.5v2.5h-2.5z M91.45,390.06h2.5v2.5h-2.5z M93.15,399.2h2.5v2.5h-2.5z M94.85,408.18h2.5v2.5h-2.5z M96.55,415.95h2.5v2.5h-2.5z M98.25,421.99h2.5v2.5h-2.5z M99.95,426.2h2.5v2.5h-2.5z M101.65,428.76h2.5v2.5h-2.5z M103.35,429.95h2.5v2.5h-2.5z M105.05,430.01h2.5v2.5h-2.5z M106.75,429.04h2.5v2.5h-2.5z M108.45,427.12h2.5v2.5h-2.5z M110.15,424.2h2.5v2.5h-2.5z M111.85,420.21h2.5v2.5h-2.5z M113.55,415.25h2.5v2.5h-2.5z M115.25,409.55h2.5v2.5h-2.5z M116.95,403.59h2.5v2.5h-2.5z M118.65,397.95h2.5v2.5h-2.5z M120.35,393.35h2.5v2.5h-2.5z M122.05,390.39h2.5v2.5h-2.5z M123.75,389.51h2.5v2.5h-2.5z M125.45,390.82h2.5v2.5h-2.5z M127.15,394.13h2.5v2.5h-2.5z M128.85,398.94h2.5v2.5h-2.5z M130.55,404.59h2.5v2.5h-2.5z M132.25,410.39h2.5v2.5h-2.5z M133.95,415.75h2.5v2.5h-2.5z M135.65,420.28h2.5v2.5h-2.5z M137.35,423.79h2.5v2.5h-2.5z M139.05,426.29h2.5v2.5h-2.5z M140.75,427.92h2.5v2.5h-2.5z M142.45,428.86h2.5v2.5h-2.5z M144.15,429.33h2.5v2.5h-2.5z M145.85,429.54h2.5v2.5h-2.5z M147.55,429.62h2.5v2.5h-2.5z M149.25,429.69h2.5v2.5h-2.5z M150.95,429.8h2.5v2.5h-2.5z M152.65,429.94h2.5v2.5h-2.5z M154.35,430.11h2.5v2.5h-2.5z M156.05,430.27h2.5v2.5h-2.5z M157.75,430.4h2.5v2.5h-2.5z M159.45,430.47h2.5v2.5h-2.5z M161.15,430.44h2.5v2.5h-2.5z M162.85,430.31h2.5v2.5h-2.5z M164.55,430.08h2.5v2.5h-2.5z M166.25,429.75h2.5v2.5h-2.5z M167.95,429.36h2.5v2.5h-2.5z M169.65,428.94h2.5v2.5h-2.5z M171.35,428.51h2.5v2.5h-2.5z M173.05,428.12h2.5v2.5h-2.5z M174.75,427.79h2.5v2.5h-2.5z M176.45,427.56h2.5v2.5h-2.5z M178.15,427.45h2.5v2.5h-2.5z M179.85,427.46h2.5v2.5h-2.5z M181.55,427.59h2.5v2.5h-2.5z M183.25,427.84h2.5v2.5h-2.5z M184.95,428.17h2.5v2.5h-2.5z M186.65,428.58h2.5v2.5h-2.5z M188.35,429.04h2.5v2.5h-2.5z M190.05,429.51h2.5v2.5h-2.5z M191.75,429.96h2.5v2.5h-2.5z M193.45,430.39h2.5v2.5h-2.5z M195.15,430.78h2.5v2.5h-2.5z M196.85,431.11h2.5v2.5h-2.5z M198.55,431.39h2.5v2.5h-2.5z M200.25,431.62h2.5v2.5h-2.5z M201.95,431.8h2.5v2.5h-2.5z M203.65,431.93h2.5v2.5h-2.5z M205.35,432.03h2.5v2.5h-2.5z M207.05,432.1h2.5v2.5h-2.5z M208.75,432.14h2.5v2.5h-2.5z M210.45,432.17h2.5v2.5h-2.5z M212.15,432.18h2.5v2.5h-2.5z M213.85,432.19h2.5v2.5h-2.5z M215.55,432.19h2.5v2.5h-2.5z M217.25,432.18h2.5v2.5h-2.5z M218.95,432.18h2.5v2.5h-2.5z M220.65,432.17h2.5v2.5h-2.5z M222.35,432.16h2.5v2.5h-2.5z M224.05,432.15h2.5v2.5h-2.5z M225.75,432.14h2.5v2.5h-2.5z M227.45,432.13h2.5v2.5h-2.5z M229.15,432.12h2.5v2.5h-2.5z M230.85,432.11h2.5v2.5h-2.5z M232.55,432.1h2.5v2.5h-2.5z M234.25,432.09h2.5v2.5h-2.5z M235.95,432.08h2.5v2.5h-2.5z M237.65,432.07h2.5v2.5h-2.5z M239.35,432.06h2.5v2.5h-2.5z M241.05,432.05h2.5v2.5h-2.5z M242.75,432.04h2.5v2.5h-2.5z M244.45,432.03h2.5v2.5h-2.5z" fill="#3c3c3c"/>
<path d="M28.1,439.04 L28.95,439.03 L29.79,439.02 L30.64,439.01 L31.49,439 L32.33,438.99 L33.18,438.98 L34.03,438.97 L34.87,438.95 L35.72,438.94 L36.57,438.93 L37.41,438.92 L38.26,438.91 L39.11,438.89 L39.95,438.88 L40.8,438.87 L41.65,438.85 L42.49,438.84 L43.34,438.82 L44.19,438.81 L45.03,438.79 L45.88,438.78 L46.73,438.76 L47.57,438.74 L48.42,438.72 L49.27,438.7 L50.11,438.68 L50.96,438.66 L51.81,438.64 L52.65,438.62 L53.5,438.59 L54.35,438.56 L55.19,438.54 L56.04,438.51 L56.89,438.48 L57.74,438.44 L58.58,438.41 L59.43,438.37 L60.28,438.33 L61.12,438.27 L61.97,438.21 L62.82,438.15 L63.66,438.08 L64.51,438 L65.36,437.92 L66.2,437.82 L67.05,437.7 L67.9,437.56 L68.74,437.39 L69.59,437.18 L70.44,436.9 L71.28,436.54 L72.13,436.08 L72.98,435.48 L73.82,434.7 L74.67,433.7 L75.52,432.44 L76.36,430.85 L77.21,428.91 L78.06,426.56 L78.9,423.78 L79.75,420.56 L80.6,416.86 L81.44,412.75 L82.29,408.3 L83.14,403.63 L83.98,398.86 L84.83,394.16 L85.68,389.71 L86.52,385.74 L87.37,382.46 L88.22,380.09 L89.06,378.77 L89.91,378.61 L90.76,379.63 L91.6,381.72 L92.45,384.74 L93.3,388.49 L94.14,392.74 L94.99,397.28 L95.84,401.92 L96.68,406.48 L97.53,410.83 L98.38,414.86 L99.22,418.5 L100.07,421.71 L100.92,424.47 L101.76,426.79 L102.61,428.71 L103.46,430.26 L104.3,431.48 L105.15,432.43 L106,433.16 L106.84,433.7 L107.69,434.1 L108.54,434.38 L109.38,434.58 L110.23,434.73 L111.08,434.87 L111.93,434.97 L112.77,435.04 L113.62,435.1 L114.47,435.15 L115.31,435.18 L116.16,435.21 L117.01,435.23 L117.85,435.25 L118.7,435.27 L119.55,435.28 L120.39,435.28 L121.24,435.29 L122.09,435.29 L122.93,435.29 L123.78,435.29 L124.63,435.29 L125.47,435.28 L126.32,435.28 L127.17,435.27 L128.01,435.26 L128.86,435.25 L129.71,435.24 L130.55,435.23 L131.4,435.22 L132.25,435.21 L133.09,435.2 L133.94,435.18 L134.79,435.17 L135.63,435.15 L136.48,435.14 L137.33,435.12 L138.17,435.1 L139.02,435.09 L139.87,435.07 L140.71,435.05 L141.56,435.03 L142.41,435.01 L143.25,435 L144.1,434.98 L144.95,434.96 L145.79,434.94 L146.64,434.92 L147.49,434.9 L148.33,434.88 L149.18,434.86 L150.03,434.84 L150.87,434.83 L151.72,434.82 L152.57,434.81 L153.41,434.81 L154.26,434.8 L155.11,434.79 L155.95,434.78 L156.8,434.77 L157.65,434.76 L158.49,434.75 L159.34,434.75 L160.19,434.74 L161.03,434.73 L161.88,434.72 L162.73,434.71 L163.57,434.7 L164.42,434.69 L165.27,434.68 L166.12,434.67 L166.96,434.66 L167.81,434.65 L168.66,434.64 L169.5,434.63 L170.35,434.62 L171.2,434.61 L172.04,434.6 L172.89,434.59 L173.74,434.58 L174.58,434.57 L175.43,434.56 L176.28,434.55 L177.12,434.54 L177.97,434.53 L178.82,434.52 L179.66,434.51 L180.51,434.5 L181.36,434.49 L182.2,434.48 L183.05,434.47 L183.9,434.46 L184.74,434.45 L185.59,434.44 L186.44,434.43 L187.28,434.41 L188.13,434.4 L188.98,434.39 L189.82,434.38 L190.67,434.37 L191.52,434.36 L192.36,434.35 L193.21,434.34 L194.06,434.33 L194.9,434.32 L195.75,434.31 L196.6,434.29 L197.44,434.28 L198.29,434.27 L199.14,434.26 L199.14,434.31 L198.29,434.32 L197.44,434.34 L196.6,434.35 L195.75,434.36 L194.9,434.37 L194.06,434.38 L193.21,434.4 L192.36,434.41 L191.52,434.42 L190.67,434.43 L189.82,434.44 L188.98,434.45 L188.13,434.47 L187.28,434.48 L186.44,434.49 L185.59,434.5 L184.74,434.51 L183.9,434.53 L183.05,434.54 L182.2,434.55 L181.36,434.56 L180.51,434.57 L179.66,434.58 L178.82,434.6 L177.97,434.61 L177.12,434.62 L176.28,434.63 L175.43,434.64 L174.58,434.66 L173.74,434.67 L172.89,434.68 L172.04,434.69 L171.2,434.7 L170.35,434.72 L169.5,434.73 L168.66,434.74 L167.81,434.75 L166.96,434.76 L166.12,434.77 L165.27,434.79 L164.42,434.8 L163.57,434.81 L162.73,434.82 L161.88,434.83 L161.03,434.85 L160.19,434.86 L159.34,434.87 L158.49,434.88 L157.65,434.89 L156.8,434.9 L155.95,434.92 L155.11,434.93 L154.26,434.94 L153.41,434.95 L152.57,434.96 L151.72,434.98 L150.87,434.99 L150.03,435 L149.18,435.02 L148.33,435.05 L147.49,435.08 L146.64,435.1 L145.79,435.13 L144.95,435.15 L144.1,435.18 L143.25,435.2 L142.41,435.23 L141.56,435.25 L140.71,435.28 L139.87,435.3 L139.02,435.33 L138.17,435.35 L137.33,435.38 L136.48,435.41 L135.63,435.43 L134.79,435.46 L133.94,435.48 L133.09,435.51 L132.25,435.53 L131.4,435.56 L130.55,435.58 L129.71,435.61 L128.86,435.63 L128.01,435.66 L127.17,435.69 L126.32,435.71 L125.47,435.74 L124.63,435.76 L123.78,435.79 L122.93,435.81 L122.09,435.84 L121.24,435.86 L120.39,435.89 L119.55,435.91 L118.7,435.94 L117.85,435.96 L117.01,435.99 L116.16,436.02 L115.31,436.04 L114.47,436.07 L113.62,436.09 L112.77,436.12 L111.93,436.14 L111.08,436.17 L110.23,436.19 L109.38,436.25 L108.54,436.32 L107.69,436.38 L106.84,436.45 L106,436.52 L105.15,436.59 L104.3,436.66 L103.46,436.72 L102.61,436.79 L101.76,436.86 L100.92,436.93 L100.07,436.99 L99.22,437.06 L98.38,437.13 L97.53,437.2 L96.68,437.27 L95.84,437.33 L94.99,437.4 L94.14,437.47 L93.3,437.54 L92.45,437.6 L91.6,437.67 L90.76,437.74 L89.91,437.81 L89.06,437.87 L88.22,437.94 L87.37,438.01 L86.52,438.08 L85.68,438.15 L84.83,438.21 L83.98,438.28 L83.14,438.35 L82.29,438.42 L81.44,438.48 L80.6,438.55 L79.75,438.61 L78.9,438.62 L78.06,438.64 L77.21,438.66 L76.36,438.67 L75.52,438.69 L74.67,438.71 L73.82,438.72 L72.98,438.74 L72.13,438.76 L71.28,438.77 L70.44,438.79 L69.59,438.81 L68.74,438.83 L67.9,438.84 L67.05,438.86 L66.2,438.88 L65.36,438.89 L64.51,438.91 L63.66,438.93 L62.82,438.94 L61.97,438.96 L61.12,438.98 L60.28,438.99 L59.43,439 L58.58,439.01 L57.74,439.01 L56.89,439.02 L56.04,439.02 L55.19,439.03 L54.35,439.03 L53.5,439.04 L52.65,439.05 L51.81,439.05 L50.96,439.06 L50.11,439.06 L49.27,439.07 L48.42,439.07 L47.57,439.08 L46.73,439.08 L45.88,439.09 L45.03,439.09 L44.19,439.1 L43.34,439.1 L42.49,439.11 L41.65,439.11 L40.8,439.12 L39.95,439.12 L39.11,439.13 L38.26,439.13 L37.41,439.14 L36.57,439.14 L35.72,439.15 L34.87,439.15 L34.03,439.16 L33.18,439.17 L32.33,439.17 L31.49,439.18 L30.64,439.18 L29.79,439.19 L28.95,439.19 L28.1,439.2 Z" fill="#258f8f" fill-opacity="0.6" stroke="none"/>
<path d="M99.22,436.99 L100.07,436.89 L100.92,436.77 L101.76,436.63 L102.61,436.47 L103.46,436.26 L104.3,436.01 L105.15,435.7 L106,435.31 L106.84,434.83 L107.69,434.23 L108.54,433.49 L109.38,432.59 L110.23,431.52 L111.08,430.27 L111.93,428.8 L112.77,427.09 L113.62,425.12 L114.47,422.92 L115.31,420.47 L116.16,417.82 L117.01,414.99 L117.85,412.04 L118.7,409.02 L119.55,406.02 L120.39,403.1 L121.24,400.36 L122.09,397.88 L122.93,395.75 L123.78,394.03 L124.63,392.8 L125.47,392.09 L126.32,391.93 L127.17,392.33 L128.01,393.26 L128.86,394.7 L129.71,396.59 L130.55,398.86 L131.4,401.43 L132.25,404.23 L133.09,407.15 L133.94,410.12 L134.79,413.06 L135.63,415.9 L136.48,418.6 L137.33,421.09 L138.17,423.37 L139.02,425.4 L139.87,427.18 L140.71,428.72 L141.56,430.02 L142.41,431.11 L143.25,432 L144.1,432.72 L144.95,433.29 L145.79,433.73 L146.64,434.07 L147.49,434.32 L148.33,434.51 L149.18,434.64 L150.03,434.73 L150.87,434.8 L151.72,434.85 L152.57,434.88 L153.41,434.89 L153.41,434.95 L152.57,434.96 L151.72,434.98 L150.87,434.99 L150.03,435 L149.18,435.02 L148.33,435.05 L147.49,435.08 L146.64,435.1 L145.79,435.13 L144.95,435.15 L144.1,435.18 L143.25,435.2 L142.41,435.23 L141.56,435.25 L140.71,435.28 L139.87,435.3 L139.02,435.33 L138.17,435.35 L137.33,435.38 L136.48,435.41 L135.63,435.43 L134.79,435.46 L133.94,435.48 L133.09,435.51 L132.25,435.53 L131.4,435.56 L130.55,435.58 L129.71,435.61 L128.86,435.63 L128.01,435.66 L127.17,435.69 L126.32,435.71 L125.47,435.74 L124.63,435.76 L123.78,435.79 L122.93,435.81 L122.09,435.84 L121.24,435.86 L120.39,435.89 L119.55,435.91 L118.7,435.94 L117.85,435.96 L117.01,435.99 L116.16,436.02 L115.31,436.04 L114.47,436.07 L113.62,436.09 L112.77,436.12 L111.93,436.14 L111.08,436.17 L110.23,436.19 L109.38,436.25 L108.54,436.32 L107.69,436.38 L106.84,436.45 L106,436.52 L105.15,436.59 L104.3,436.66 L103.46,436.72 L102.61,436.79 L101.76,436.86 L100.92,436.93 L100.07,436.99 L99.22,437.06 Z" fill="#3cf33c" fill-opacity="0.6" stroke="none"/>
<path d="M149.18,434.97 L150.03,434.93 L150.87,434.9 L151.72,434.86 L152.57,434.82 L153.41,434.78 L154.26,434.73 L155.11,434.67 L155.95,434.6 L156.8,434.53 L157.65,434.44 L158.49,434.34 L159.34,434.24 L160.19,434.12 L161.03,433.98 L161.88,433.83 L162.73,433.67 L163.57,433.5 L164.42,433.31 L165.27,433.1 L166.12,432.89 L166.96,432.66 L167.81,432.42 L168.66,432.17 L169.5,431.92 L170.35,431.67 L171.2,431.41 L172.04,431.16 L172.89,430.91 L173.74,430.67 L174.58,430.44 L175.43,430.23 L176.28,430.04 L177.12,429.88 L177.97,429.74 L178.82,429.62 L179.66,429.54 L180.51,429.48 L181.36,429.46 L182.2,429.47 L183.05,429.51 L183.9,429.58 L184.74,429.69 L185.59,429.81 L186.44,429.97 L187.28,430.14 L188.13,430.33 L188.98,430.54 L189.82,430.76 L190.67,430.98 L191.52,431.21 L192.36,431.45 L193.21,431.68 L194.06,431.91 L194.9,432.13 L195.75,432.34 L196.6,432.54 L197.44,432.72 L198.29,432.9 L199.14,433.06 L199.98,433.21 L200.83,433.35 L201.68,433.47 L202.52,433.58 L203.37,433.68 L204.22,433.77 L205.06,433.84 L205.91,433.91 L206.76,433.96 L207.6,434.01 L208.45,434.05 L209.3,434.08 L210.14,434.11 L210.99,434.13 L211.84,434.14 L212.68,434.15 L213.53,434.16 L213.53,434.22 L212.68,434.22 L211.84,434.23 L210.99,434.23 L210.14,434.24 L209.3,434.24 L208.45,434.25 L207.6,434.25 L206.76,434.26 L205.91,434.26 L205.06,434.27 L204.22,434.27 L203.37,434.28 L202.52,434.28 L201.68,434.29 L200.83,434.29 L199.98,434.3 L199.14,434.31 L198.29,434.32 L197.44,434.34 L196.6,434.35 L195.75,434.36 L194.9,434.37 L194.06,434.38 L193.21,434.4 L192.36,434.41 L191.52,434.42 L190.67,434.43 L189.82,434.44 L188.98,434.45 L188.13,434.47 L187.28,434.48 L186.44,434.49 L185.59,434.5 L184.74,434.51 L183.9,434.53 L183.05,434.54 L182.2,434.55 L181.36,434.56 L180.51,434.57 L179.66,434.58 L178.82,434.6 L177.97,434.61 L177.12,434.62 L176.28,434.63 L175.43,434.64 L174.58,434.66 L173.74,434.67 L172.89,434.68 L172.04,434.69 L171.2,434.7 L170.35,434.72 L169.5,434.73 L168.66,434.74 L167.81,434.75 L166.96,434.76 L166.12,434.77 L165.27,434.79 L164.42,434.8 L163.57,434.81 L162.73,434.82 L161.88,434.83 L161.03,434.85 L160.19,434.86 L159.34,434.87 L158.49,434.88 L157.65,434.89 L156.8,434.9 L155.95,434.92 L155.11,434.93 L154.26,434.94 L153.41,434.95 L152.57,434.96 L151.72,434.98 L150.87,434.99 L150.03,435 L149.18,435.02 Z" fill="#7b0000" fill-opacity="0.6" stroke="none"/>
<path d="M28.1,439.2 L28.95,439.19 L29.79,439.19 L30.64,439.18 L31.49,439.18 L32.33,439.17 L33.18,439.17 L34.03,439.16 L34.87,439.15 L35.72,439.15 L36.57,439.14 L37.41,439.14 L38.26,439.13 L39.11,439.13 L39.95,439.12 L40.8,439.12 L41.65,439.11 L42.49,439.11 L43.34,439.1 L44.19,439.1 L45.03,439.09 L45.88,439.09 L46.73,439.08 L47.57,439.08 L48.42,439.07 L49.27,439.07 L50.11,439.06 L50.96,439.06 L51.81,439.05 L52.65,439.05 L53.5,439.04 L54.35,439.03 L55.19,439.03 L56.04,439.02 L56.89,439.02 L57.74,439.01 L58.58,439.01 L59.43,439 L60.28,438.99 L61.12,438.98 L61.97,438.96 L62.82,438.94 L63.66,438.93 L64.51,438.91 L65.36,438.89 L66.2,438.88 L67.05,438.86 L67.9,438.84 L68.74,438.83 L69.59,438.81 L70.44,438.79 L71.28,438.77 L72.13,438.76 L72.98,438.74 L73.82,438.72 L74.67,438.71 L75.52,438.69 L76.36,438.67 L77.21,438.66 L78.06,438.64 L78.9,438.62 L79.75,438.61 L80.6,438.55 L81.44,438.48 L82.29,438.42 L83.14,438.35 L83.98,438.28 L84.83,438.21 L85.68,438.15 L86.52,438.08 L87.37,438.01 L88.22,437.94 L89.06,437.87 L89.91,437.81 L90.76,437.74 L91.6,437.67 L92.45,437.6 L93.3,437.54 L94.14,437.47 L94.99,437.4 L95.84,437.33 L96.68,437.27 L97.53,437.2 L98.38,437.13 L99.22,437.06 L100.07,436.99 L100.92,436.93 L101.76,436.86 L102.61,436.79 L103.46,436.72 L104.3,436.66 L105.15,436.59 L106,436.52 L106.84,436.45 L107.69,436.38 L108.54,436.32 L109.38,436.25 L110.23,436.19 L111.08,436.17 L111.93,436.14 L112.77,436.12 L113.62,436.09 L114.47,436.07 L115.31,436.04 L116.16,436.02 L117.01,435.99 L117.85,435.96 L118.7,435.94 L119.55,435.91 L120.39,435.89 L121.24,435.86 L122.09,435.84 L122.93,435.81 L123.78,435.79 L124.63,435.76 L125.47,435.74 L126.32,435.71 L127.17,435.69 L128.01,435.66 L128.86,435.63 L129.71,435.61 L130.55,435.58 L131.4,435.56 L132.25,435.53 L133.09,435.51 L133.94,435.48 L134.79,435.46 L135.63,435.43 L136.48,435.41 L137.33,435.38 L138.17,435.35 L139.02,435.33 L139.87,435.3 L140.71,435.28 L141.56,435.25 L142.41,435.23 L143.25,435.2 L144.1,435.18 L144.95,435.15 L145.79,435.13 L146.64,435.1 L147.49,435.08 L148.33,435.05 L149.18,435.02 L150.03,435 L150.87,434.99 L151.72,434.98 L152.57,434.96 L153.41,434.95 L154.26,434.94 L155.11,434.93 L155.95,434.92 L156.8,434.9 L157.65,434.89 L158.49,434.88 L159.34,434.87 L160.19,434.86 L161.03,434.85 L161.88,434.83 L162.73,434.82 L163.57,434.81 L164.42,434.8 L165.27,434.79 L166.12,434.77 L166.96,434.76 L167.81,434.75 L168.66,434.74 L169.5,434.73 L170.35,434.72 L171.2,434.7 L172.04,434.69 L172.89,434.68 L173.74,434.67 L174.58,434.66 L175.43,434.64 L176.28,434.63 L177.12,434.62 L177.97,434.61 L178.82,434.6 L179.66,434.58 L180.51,434.57 L181.36,434.56 L182.2,434.55 L183.05,434.54 L183.9,434.53 L184.74,434.51 L185.59,434.5 L186.44,434.49 L187.28,434.48 L188.13,434.47 L188.98,434.45 L189.82,434.44 L190.67,434.43 L191.52,434.42 L192.36,434.41 L193.21,434.4 L194.06,434.38 L194.9,434.37 L195.75,434.36 L196.6,434.35 L197.44,434.34 L198.29,434.32 L199.14,434.31 L199.98,434.3 L200.83,434.29 L201.68,434.29 L202.52,434.28 L203.37,434.28 L204.22,434.27 L205.06,434.27 L205.91,434.26 L206.76,434.26 L207.6,434.25 L208.45,434.25 L209.3,434.24 L210.14,434.24 L210.99,434.23 L211.84,434.23 L212.68,434.22 L213.53,434.22 L214.38,434.21 L215.22,434.2 L216.07,434.2 L216.92,434.19 L217.76,434.19 L218.61,434.18 L219.46,434.18 L220.31,434.17 L221.15,434.17 L222,434.16 L222.85,434.16 L223.69,434.15 L224.54,434.15 L225.39,434.14 L226.23,434.14 L227.08,434.13 L227.93,434.13 L228.77,434.12 L229.62,434.11 L230.47,434.11 L231.31,434.1 L232.16,434.1 L233.01,434.09 L233.85,434.09 L234.7,434.08 L235.55,434.08 L236.39,434.07 L237.24,434.07 L238.09,434.06 L238.93,434.06 L239.78,434.05 L240.63,434.05 L241.47,434.04 L242.32,434.04 L243.17,434.03 L244.01,434.02 L244.86,434.02 L245.71,434.01 L246.55,434.01 L247.4,434" stroke="#000080" stroke-width="1.4" fill="none"/>
<path d="M28.1,439.04 L28.95,439.03 L29.79,439.02 L30.64,439.01 L31.49,439 L32.33,438.99 L33.18,438.98 L34.03,438.97 L34.87,438.95 L35.72,438.94 L36.57,438.93 L37.41,438.92 L38.26,438.91 L39.11,438.89 L39.95,438.88 L40.8,438.87 L41.65,438.85 L42.49,438.84 L43.34,438.82 L44.19,438.81 L45.03,438.79 L45.88,438.78 L46.73,438.76 L47.57,438.74 L48.42,438.72 L49.27,438.7 L50.11,438.68 L50.96,438.66 L51.81,438.64 L52.65,438.62 L53.5,438.59 L54.35,438.56 L55.19,438.54 L56.04,438.51 L56.89,438.48 L57.74,438.44 L58.58,438.41 L59.43,438.37 L60.28,438.33 L61.12,438.27 L61.97,438.21 L62.82,438.15 L63.66,438.08 L64.51,438 L65.36,437.92 L66.2,437.82 L67.05,437.7 L67.9,437.56 L68.74,437.39 L69.59,437.18 L70.44,436.9 L71.28,436.54 L72.13,436.08 L72.98,435.48 L73.82,434.7 L74.67,433.7 L75.52,432.44 L76.36,430.85 L77.21,428.91 L78.06,426.56 L78.9,423.78 L79.75,420.56 L80.6,416.86 L81.44,412.75 L82.29,408.3 L83.14,403.63 L83.98,398.86 L84.83,394.16 L85.68,389.71 L86.52,385.74 L87.37,382.46 L88.22,380.09 L89.06,378.77 L89.91,378.61 L90.76,379.63 L91.6,381.72 L92.45,384.74 L93.3,388.48 L94.14,392.73 L94.99,397.27 L95.84,401.9 L96.68,406.46 L97.53,410.8 L98.38,414.81 L99.22,418.43 L100.07,421.6 L100.92,424.31 L101.76,426.57 L102.61,428.39 L103.46,429.8 L104.3,430.84 L105.15,431.55 L106,431.95 L106.84,432.08 L107.69,431.94 L108.54,431.56 L109.38,430.93 L110.23,430.06 L111.08,428.97 L111.93,427.63 L112.77,426.01 L113.62,424.14 L114.47,422 L115.31,419.62 L116.16,417.02 L117.01,414.24 L117.85,411.32 L118.7,408.35 L119.55,405.38 L120.39,402.49 L121.24,399.78 L122.09,397.33 L122.93,395.22 L123.78,393.52 L124.63,392.3 L125.47,391.6 L126.32,391.45 L127.17,391.85 L128.01,392.79 L128.86,394.22 L129.71,396.1 L130.55,398.35 L131.4,400.89 L132.25,403.64 L133.09,406.52 L133.94,409.42 L134.79,412.29 L135.63,415.05 L136.48,417.64 L137.33,420.02 L138.17,422.17 L139.02,424.06 L139.87,425.69 L140.71,427.07 L141.56,428.2 L142.41,429.12 L143.25,429.84 L144.1,430.38 L144.95,430.79 L145.79,431.08 L146.64,431.27 L147.49,431.4 L148.33,431.48 L149.18,431.53 L150.03,431.56 L150.87,431.6 L151.72,431.64 L152.57,431.68 L153.41,431.74 L154.26,431.8 L155.11,431.88 L155.95,431.96 L156.8,432.05 L157.65,432.13 L158.49,432.21 L159.34,432.29 L160.19,432.35 L161.03,432.39 L161.88,432.42 L162.73,432.42 L163.57,432.4 L164.42,432.35 L165.27,432.28 L166.12,432.18 L166.96,432.05 L167.81,431.9 L168.66,431.74 L169.5,431.55 L170.35,431.35 L171.2,431.14 L172.04,430.93 L172.89,430.71 L173.74,430.5 L174.58,430.3 L175.43,430.11 L176.28,429.93 L177.12,429.77 L177.97,429.64 L178.82,429.53 L179.66,429.45 L180.51,429.4 L181.36,429.38 L182.2,429.4 L183.05,429.44 L183.9,429.52 L184.74,429.62 L185.59,429.75 L186.44,429.9 L187.28,430.08 L188.13,430.27 L188.98,430.48 L189.82,430.7 L190.67,430.92 L191.52,431.16 L192.36,431.39 L193.21,431.62 L194.06,431.85 L194.9,432.07 L195.75,432.28 L196.6,432.48 L197.44,432.67 L198.29,432.85 L199.14,433.01 L199.98,433.16 L200.83,433.3 L201.68,433.42 L202.52,433.54 L203.37,433.64 L204.22,433.72 L205.06,433.8 L205.91,433.86 L206.76,433.92 L207.6,433.97 L208.45,434.01 L209.3,434.04 L210.14,434.06 L210.99,434.08 L211.84,434.1 L212.68,434.11 L213.53,434.12 L214.38,434.13 L215.22,434.13 L216.07,434.14 L216.92,434.14 L217.76,434.14 L218.61,434.14 L219.46,434.13 L220.31,434.13 L221.15,434.13 L222,434.12 L222.85,434.12 L223.69,434.12 L224.54,434.11 L225.39,434.11 L226.23,434.1 L227.08,434.1 L227.93,434.09 L228.77,434.09 L229.62,434.08 L230.47,434.08 L231.31,434.07 L232.16,434.07 L233.01,434.06 L233.85,434.06 L234.7,434.05 L235.55,434.05 L236.39,434.04 L237.24,434.04 L238.09,434.03 L238.93,434.03 L239.78,434.02 L240.63,434.02 L241.47,434.01 L242.32,434.01 L243.17,434 L244.01,434 L244.86,433.99 L245.71,433.99 L246.55,433.98 L247.4,433.98" stroke="#f00" stroke-width="2.0" fill="none" stroke-linejoin="round"/>
<path d="M26.6,508.99h3v3h-3z M28.3,508.98h3v3h-3z M30,508.96h3v3h-3z M31.7,508.94h3v3h-3z M33.4,508.93h3v3h-3z M35.1,508.91h3v3h-3z M36.8,508.89h3v3h-3z M38.5,508.87h3v3h-3z M40.2,508.84h3v3h-3z M41.9,508.79h3v3h-3z M43.6,508.72h3v3h-3z M45.3,508.59h3v3h-3z M47,508.38h3v3h-3z M48.7,508.03h3v3h-3z M50.4,507.48h3v3h-3z M52.1,506.67h3v3h-3z M53.8,505.55h3v3h-3z M55.5,504.05h3v3h-3z M57.2,502.18h3v3h-3z M58.9,499.98h3v3h-3z M60.6,497.58h3v3h-3z M62.3,495.15h3v3h-3z M64,492.94h3v3h-3z M65.7,491.19h3v3h-3z M67.4,490.12h3v3h-3z M69.1,489.87h3v3h-3z M70.8,490.46h3v3h-3z M72.5,491.81h3v3h-3z M74.2,493.74h3v3h-3z M75.9,496.02h3v3h-3z M77.6,498.39h3v3h-3z M79.3,500.64h3v3h-3z M81,502.6h3v3h-3z M82.7,504.17h3v3h-3z M84.4,505.32h3v3h-3z M86.1,506.04h3v3h-3z M87.8,506.37h3v3h-3z M89.5,506.34h3v3h-3z M91.2,505.96h3v3h-3z M92.9,505.26h3v3h-3z M94.6,504.26h3v3h-3z M96.3,503h3v3h-3z M98,501.53h3v3h-3z M99.7,499.93h3v3h-3z M101.4,498.34h3v3h-3z M103.1,496.9h3v3h-3z M104.8,495.73h3v3h-3z M106.5,494.97h3v3h-3z M108.2,494.68h3v3h-3z M109.9,494.89h3v3h-3z M111.6,495.52h3v3h-3z M113.3,496.47h3v3h-3z M115,497.56h3v3h-3z M116.7,498.61h3v3h-3z M118.4,499.42h3v3h-3z M120.1,499.81h3v3h-3z M121.8,499.64h3v3h-3z M123.5,498.79h3v3h-3z M125.2,497.19h3v3h-3z M126.9,494.8h3v3h-3z M128.6,491.62h3v3h-3z M130.3,487.68h3v3h-3z M132,483.11h3v3h-3z M133.7,478.07h3v3h-3z M135.4,472.76h3v3h-3z M137.1,467.44h3v3h-3z M138.8,462.41h3v3h-3z M140.5,457.97h3v3h-3z M142.2,454.4h3v3h-3z M143.9,451.94h3v3h-3z M145.6,450.75h3v3h-3z M147.3,450.91h3v3h-3z M149,452.37h3v3h-3z M150.7,455.02h3v3h-3z M152.4,458.6h3v3h-3z M154.1,462.83h3v3h-3z M155.8,467.36h3v3h-3z M157.5,471.84h3v3h-3z M159.2,475.94h3v3h-3z M160.9,479.35h3v3h-3z M162.6,481.87h3v3h-3z M164.3,483.32h3v3h-3z M166,483.65h3v3h-3z M167.7,482.87h3v3h-3z M169.4,481.1h3v3h-3z M171.1,478.5h3v3h-3z M172.8,475.35h3v3h-3z M174.5,471.93h3v3h-3z M176.2,468.58h3v3h-3z M177.9,465.63h3v3h-3z M179.6,463.37h3v3h-3z M181.3,462.03h3v3h-3z M183,461.75h3v3h-3z M184.7,462.58h3v3h-3z M186.4,464.47h3v3h-3z M188.1,467.29h3v3h-3z M189.8,470.81h3v3h-3z M191.5,474.79h3v3h-3z M193.2,478.97h3v3h-3z M194.9,483.12h3v3h-3z M196.6,487.02h3v3h-3z M198.3,490.55h3v3h-3z M200,493.62h3v3h-3z M201.7,496.17h3v3h-3z M203.4,498.22h3v3h-3z M205.1,499.8h3v3h-3z M206.8,500.98h3v3h-3z M208.5,501.82h3v3h-3z M210.2,502.4h3v3h-3z M211.9,502.78h3v3h-3z M213.6,503.01h3v3h-3z M215.3,503.14h3v3h-3z M217,503.2h3v3h-3z M218.7,503.22h3v3h-3z M220.4,503.2h3v3h-3z M222.1,503.17h3v3h-3z M223.8,503.13h3v3h-3z M225.5,503.08h3v3h-3z M227.2,503.02h3v3h-3z M228.9,502.97h3v3h-3z M230.6,502.91h3v3h-3z M232.3,502.86h3v3h-3z M234,502.8h3v3h-3z M235.7,502.74h3v3h-3z M237.4,502.69h3v3h-3z M239.1,502.63h3v3h-3z M240.8,502.57h3v3h-3z M242.5,502.52h3v3h-3z M244.2,502.46h3v3h-3z" fill="#303030"/>
<path d="M44.19,510.99 L45.03,510.95 L45.88,510.9 L46.73,510.84 L47.57,510.77 L48.42,510.67 L49.27,510.54 L50.11,510.37 L50.96,510.16 L51.81,509.9 L52.65,509.58 L53.5,509.2 L54.35,508.74 L55.19,508.2 L56.04,507.57 L56.89,506.84 L57.74,506.02 L58.58,505.11 L59.43,504.11 L60.28,503.03 L61.12,501.88 L61.97,500.69 L62.82,499.47 L63.66,498.25 L64.51,497.06 L65.36,495.93 L66.2,494.89 L67.05,493.98 L67.9,493.22 L68.74,492.63 L69.59,492.23 L70.44,492.05 L71.28,492.07 L72.13,492.31 L72.98,492.75 L73.82,493.37 L74.67,494.17 L75.52,495.1 L76.36,496.15 L77.21,497.27 L78.06,498.44 L78.9,499.64 L79.75,500.82 L80.6,501.97 L81.44,503.06 L82.29,504.09 L83.14,505.02 L83.98,505.87 L84.83,506.62 L85.68,507.28 L86.52,507.85 L87.37,508.33 L88.22,508.73 L89.06,509.06 L89.91,509.32 L90.76,509.53 L91.6,509.7 L92.45,509.83 L93.3,509.92 L94.14,509.99 L94.99,510.04 L95.84,510.07 L96.68,510.08 L97.53,510.09 L97.53,510.15 L96.68,510.17 L95.84,510.18 L94.99,510.2 L94.14,510.22 L93.3,510.23 L92.45,510.25 L91.6,510.26 L90.76,510.28 L89.91,510.29 L89.06,510.31 L88.22,510.32 L87.37,510.34 L86.52,510.35 L85.68,510.37 L84.83,510.38 L83.98,510.4 L83.14,510.41 L82.29,510.43 L81.44,510.44 L80.6,510.46 L79.75,510.47 L78.9,510.49 L78.06,510.5 L77.21,510.52 L76.36,510.53 L75.52,510.55 L74.67,510.56 L73.82,510.58 L72.98,510.59 L72.13,510.61 L71.28,510.62 L70.44,510.64 L69.59,510.65 L68.74,510.67 L67.9,510.68 L67.05,510.7 L66.2,510.71 L65.36,510.73 L64.51,510.74 L63.66,510.76 L62.82,510.77 L61.97,510.79 L61.12,510.8 L60.28,510.82 L59.43,510.83 L58.58,510.85 L57.74,510.86 L56.89,510.88 L56.04,510.89 L55.19,510.91 L54.35,510.92 L53.5,510.94 L52.65,510.95 L51.81,510.97 L50.96,510.98 L50.11,511 L49.27,511.01 L48.42,511.01 L47.57,511.02 L46.73,511.03 L45.88,511.04 L45.03,511.04 L44.19,511.05 Z" fill="#619dcb" fill-opacity="0.6" stroke="none"/>
<path d="M82.29,510.37 L83.14,510.33 L83.98,510.29 L84.83,510.24 L85.68,510.17 L86.52,510.09 L87.37,509.99 L88.22,509.87 L89.06,509.73 L89.91,509.55 L90.76,509.34 L91.6,509.09 L92.45,508.79 L93.3,508.44 L94.14,508.04 L94.99,507.59 L95.84,507.07 L96.68,506.49 L97.53,505.86 L98.38,505.18 L99.22,504.45 L100.07,503.68 L100.92,502.89 L101.76,502.09 L102.61,501.29 L103.46,500.51 L104.3,499.76 L105.15,499.08 L106,498.46 L106.84,497.94 L107.69,497.52 L108.54,497.22 L109.38,497.05 L110.23,497 L111.08,497.08 L111.93,497.3 L112.77,497.63 L113.62,498.07 L114.47,498.61 L115.31,499.23 L116.16,499.92 L117.01,500.65 L117.85,501.41 L118.7,502.18 L119.55,502.95 L120.39,503.69 L121.24,504.4 L122.09,505.08 L122.93,505.7 L123.78,506.26 L124.63,506.77 L125.47,507.23 L126.32,507.62 L127.17,507.96 L128.01,508.25 L128.86,508.49 L129.71,508.68 L130.55,508.83 L131.4,508.94 L132.25,509.02 L133.09,509.07 L133.94,509.11 L134.79,509.13 L135.63,509.13 L136.48,509.13 L137.33,509.12 L137.33,509.18 L136.48,509.22 L135.63,509.26 L134.79,509.29 L133.94,509.33 L133.09,509.37 L132.25,509.4 L131.4,509.44 L130.55,509.48 L129.71,509.51 L128.86,509.52 L128.01,509.54 L127.17,509.56 L126.32,509.57 L125.47,509.59 L124.63,509.61 L123.78,509.62 L122.93,509.64 L122.09,509.66 L121.24,509.68 L120.39,509.69 L119.55,509.71 L118.7,509.73 L117.85,509.74 L117.01,509.76 L116.16,509.78 L115.31,509.79 L114.47,509.81 L113.62,509.83 L112.77,509.84 L111.93,509.86 L111.08,509.88 L110.23,509.9 L109.38,509.91 L108.54,509.93 L107.69,509.95 L106.84,509.96 L106,509.98 L105.15,510 L104.3,510.01 L103.46,510.03 L102.61,510.05 L101.76,510.06 L100.92,510.08 L100.07,510.1 L99.22,510.12 L98.38,510.13 L97.53,510.15 L96.68,510.17 L95.84,510.18 L94.99,510.2 L94.14,510.22 L93.3,510.23 L92.45,510.25 L91.6,510.26 L90.76,510.28 L89.91,510.29 L89.06,510.31 L88.22,510.32 L87.37,510.34 L86.52,510.35 L85.68,510.37 L84.83,510.38 L83.98,510.4 L83.14,510.41 L82.29,510.43 Z" fill="#13ed0b" fill-opacity="0.85" stroke="none"/>
<path d="M147.49,508.68 L148.33,508.62 L149.18,508.55 L150.03,508.48 L150.87,508.39 L151.72,508.3 L152.57,508.18 L153.41,508.05 L154.26,507.89 L155.11,507.7 L155.95,507.48 L156.8,507.21 L157.65,506.9 L158.49,506.54 L159.34,506.11 L160.19,505.6 L161.03,505.02 L161.88,504.34 L162.73,503.56 L163.57,502.68 L164.42,501.68 L165.27,500.57 L166.12,499.32 L166.96,497.95 L167.81,496.45 L168.66,494.82 L169.5,493.07 L170.35,491.21 L171.2,489.25 L172.04,487.2 L172.89,485.08 L173.74,482.92 L174.58,480.74 L175.43,478.57 L176.28,476.44 L177.12,474.38 L177.97,472.43 L178.82,470.62 L179.66,468.97 L180.51,467.53 L181.36,466.31 L182.2,465.34 L183.05,464.63 L183.9,464.21 L184.74,464.07 L185.59,464.22 L186.44,464.65 L187.28,465.37 L188.13,466.34 L188.98,467.55 L189.82,468.98 L190.67,470.6 L191.52,472.38 L192.36,474.29 L193.21,476.29 L194.06,478.35 L194.9,480.44 L195.75,482.54 L196.6,484.6 L197.44,486.61 L198.29,488.55 L199.14,490.4 L199.98,492.14 L200.83,493.78 L201.68,495.29 L202.52,496.68 L203.37,497.94 L204.22,499.06 L205.06,500.07 L205.91,500.96 L206.76,501.73 L207.6,502.4 L208.45,502.98 L209.3,503.47 L210.14,503.88 L210.99,504.22 L211.84,504.51 L212.68,504.73 L213.53,504.92 L214.38,505.06 L215.22,505.18 L216.07,505.26 L216.92,505.32 L217.76,505.37 L218.61,505.4 L219.46,505.41 L220.31,505.42 L221.15,505.42 L222,505.41 L222,505.47 L221.15,505.49 L220.31,505.52 L219.46,505.55 L218.61,505.58 L217.76,505.61 L216.92,505.64 L216.07,505.66 L215.22,505.69 L214.38,505.72 L213.53,505.75 L212.68,505.78 L211.84,505.81 L210.99,505.83 L210.14,505.86 L209.3,505.89 L208.45,505.92 L207.6,505.95 L206.76,505.97 L205.91,506 L205.06,506.03 L204.22,506.06 L203.37,506.09 L202.52,506.12 L201.68,506.14 L200.83,506.17 L199.98,506.2 L199.14,506.24 L198.29,506.29 L197.44,506.33 L196.6,506.37 L195.75,506.41 L194.9,506.45 L194.06,506.5 L193.21,506.54 L192.36,506.58 L191.52,506.62 L190.67,506.67 L189.82,506.71 L188.98,506.75 L188.13,506.79 L187.28,506.84 L186.44,506.88 L185.59,506.92 L184.74,506.96 L183.9,507.01 L183.05,507.05 L182.2,507.09 L181.36,507.13 L180.51,507.17 L179.66,507.22 L178.82,507.26 L177.97,507.3 L177.12,507.34 L176.28,507.39 L175.43,507.43 L174.58,507.47 L173.74,507.51 L172.89,507.56 L172.04,507.6 L171.2,507.64 L170.35,507.68 L169.5,507.72 L168.66,507.77 L167.81,507.81 L166.96,507.85 L166.12,507.89 L165.27,507.94 L164.42,507.98 L163.57,508.02 L162.73,508.06 L161.88,508.11 L161.03,508.15 L160.19,508.19 L159.34,508.23 L158.49,508.27 L157.65,508.3 L156.8,508.34 L155.95,508.38 L155.11,508.41 L154.26,508.45 L153.41,508.49 L152.57,508.52 L151.72,508.56 L150.87,508.6 L150.03,508.63 L149.18,508.67 L148.33,508.71 L147.49,508.74 Z" fill="#962b2b" fill-opacity="0.6" stroke="none"/>
<path d="M107.69,509.9 L108.54,509.86 L109.38,509.82 L110.23,509.78 L111.08,509.72 L111.93,509.66 L112.77,509.58 L113.62,509.49 L114.47,509.37 L115.31,509.24 L116.16,509.07 L117.01,508.88 L117.85,508.64 L118.7,508.35 L119.55,508.02 L120.39,507.62 L121.24,507.14 L122.09,506.59 L122.93,505.95 L123.78,505.2 L124.63,504.35 L125.47,503.38 L126.32,502.27 L127.17,501.03 L128.01,499.64 L128.86,498.11 L129.71,496.42 L130.55,494.57 L131.4,492.56 L132.25,490.4 L133.09,488.12 L133.94,485.71 L134.79,483.19 L135.63,480.6 L136.48,477.94 L137.33,475.25 L138.17,472.57 L139.02,469.92 L139.87,467.34 L140.71,464.87 L141.56,462.55 L142.41,460.4 L143.25,458.47 L144.1,456.79 L144.95,455.38 L145.79,454.27 L146.64,453.49 L147.49,453.03 L148.33,452.92 L149.18,453.15 L150.03,453.71 L150.87,454.61 L151.72,455.81 L152.57,457.3 L153.41,459.05 L154.26,461.03 L155.11,463.2 L155.95,465.54 L156.8,468 L157.65,470.55 L158.49,473.15 L159.34,475.77 L160.19,478.36 L161.03,480.91 L161.88,483.39 L162.73,485.77 L163.57,488.03 L164.42,490.17 L165.27,492.16 L166.12,494.01 L166.96,495.71 L167.81,497.25 L168.66,498.65 L169.5,499.89 L170.35,501 L171.2,501.97 L172.04,502.82 L172.89,503.55 L173.74,504.18 L174.58,504.71 L175.43,505.16 L176.28,505.53 L177.12,505.84 L177.97,506.08 L178.82,506.28 L179.66,506.44 L180.51,506.56 L181.36,506.65 L182.2,506.71 L183.05,506.75 L183.9,506.78 L184.74,506.79 L185.59,506.79 L186.44,506.78 L187.28,506.76 L188.13,506.74 L188.13,506.79 L187.28,506.84 L186.44,506.88 L185.59,506.92 L184.74,506.96 L183.9,507.01 L183.05,507.05 L182.2,507.09 L181.36,507.13 L180.51,507.17 L179.66,507.22 L178.82,507.26 L177.97,507.3 L177.12,507.34 L176.28,507.39 L175.43,507.43 L174.58,507.47 L173.74,507.51 L172.89,507.56 L172.04,507.6 L171.2,507.64 L170.35,507.68 L169.5,507.72 L168.66,507.77 L167.81,507.81 L166.96,507.85 L166.12,507.89 L165.27,507.94 L164.42,507.98 L163.57,508.02 L162.73,508.06 L161.88,508.11 L161.03,508.15 L160.19,508.19 L159.34,508.23 L158.49,508.27 L157.65,508.3 L156.8,508.34 L155.95,508.38 L155.11,508.41 L154.26,508.45 L153.41,508.49 L152.57,508.52 L151.72,508.56 L150.87,508.6 L150.03,508.63 L149.18,508.67 L148.33,508.71 L147.49,508.74 L146.64,508.78 L145.79,508.82 L144.95,508.85 L144.1,508.89 L143.25,508.93 L142.41,508.96 L141.56,509 L140.71,509.04 L139.87,509.07 L139.02,509.11 L138.17,509.15 L137.33,509.18 L136.48,509.22 L135.63,509.26 L134.79,509.29 L133.94,509.33 L133.09,509.37 L132.25,509.4 L131.4,509.44 L130.55,509.48 L129.71,509.51 L128.86,509.52 L128.01,509.54 L127.17,509.56 L126.32,509.57 L125.47,509.59 L124.63,509.61 L123.78,509.62 L122.93,509.64 L122.09,509.66 L121.24,509.68 L120.39,509.69 L119.55,509.71 L118.7,509.73 L117.85,509.74 L117.01,509.76 L116.16,509.78 L115.31,509.79 L114.47,509.81 L113.62,509.83 L112.77,509.84 L111.93,509.86 L111.08,509.88 L110.23,509.9 L109.38,509.91 L108.54,509.93 L107.69,509.95 Z" fill="#962bff" fill-opacity="0.6" stroke="none"/>
<path d="M28.1,511.19 L28.95,511.19 L29.79,511.18 L30.64,511.17 L31.49,511.16 L32.33,511.16 L33.18,511.15 L34.03,511.14 L34.87,511.13 L35.72,511.13 L36.57,511.12 L37.41,511.11 L38.26,511.1 L39.11,511.1 L39.95,511.09 L40.8,511.08 L41.65,511.07 L42.49,511.07 L43.34,511.06 L44.19,511.05 L45.03,511.04 L45.88,511.04 L46.73,511.03 L47.57,511.02 L48.42,511.01 L49.27,511.01 L50.11,511 L50.96,510.98 L51.81,510.97 L52.65,510.95 L53.5,510.94 L54.35,510.92 L55.19,510.91 L56.04,510.89 L56.89,510.88 L57.74,510.86 L58.58,510.85 L59.43,510.83 L60.28,510.82 L61.12,510.8 L61.97,510.79 L62.82,510.77 L63.66,510.76 L64.51,510.74 L65.36,510.73 L66.2,510.71 L67.05,510.7 L67.9,510.68 L68.74,510.67 L69.59,510.65 L70.44,510.64 L71.28,510.62 L72.13,510.61 L72.98,510.59 L73.82,510.58 L74.67,510.56 L75.52,510.55 L76.36,510.53 L77.21,510.52 L78.06,510.5 L78.9,510.49 L79.75,510.47 L80.6,510.46 L81.44,510.44 L82.29,510.43 L83.14,510.41 L83.98,510.4 L84.83,510.38 L85.68,510.37 L86.52,510.35 L87.37,510.34 L88.22,510.32 L89.06,510.31 L89.91,510.29 L90.76,510.28 L91.6,510.26 L92.45,510.25 L93.3,510.23 L94.14,510.22 L94.99,510.2 L95.84,510.18 L96.68,510.17 L97.53,510.15 L98.38,510.13 L99.22,510.12 L100.07,510.1 L100.92,510.08 L101.76,510.06 L102.61,510.05 L103.46,510.03 L104.3,510.01 L105.15,510 L106,509.98 L106.84,509.96 L107.69,509.95 L108.54,509.93 L109.38,509.91 L110.23,509.9 L111.08,509.88 L111.93,509.86 L112.77,509.84 L113.62,509.83 L114.47,509.81 L115.31,509.79 L116.16,509.78 L117.01,509.76 L117.85,509.74 L118.7,509.73 L119.55,509.71 L120.39,509.69 L121.24,509.68 L122.09,509.66 L122.93,509.64 L123.78,509.62 L124.63,509.61 L125.47,509.59 L126.32,509.57 L127.17,509.56 L128.01,509.54 L128.86,509.52 L129.71,509.51 L130.55,509.48 L131.4,509.44 L132.25,509.4 L133.09,509.37 L133.94,509.33 L134.79,509.29 L135.63,509.26 L136.48,509.22 L137.33,509.18 L138.17,509.15 L139.02,509.11 L139.87,509.07 L140.71,509.04 L141.56,509 L142.41,508.96 L143.25,508.93 L144.1,508.89 L144.95,508.85 L145.79,508.82 L146.64,508.78 L147.49,508.74 L148.33,508.71 L149.18,508.67 L150.03,508.63 L150.87,508.6 L151.72,508.56 L152.57,508.52 L153.41,508.49 L154.26,508.45 L155.11,508.41 L155.95,508.38 L156.8,508.34 L157.65,508.3 L158.49,508.27 L159.34,508.23 L160.19,508.19 L161.03,508.15 L161.88,508.11 L162.73,508.06 L163.57,508.02 L164.42,507.98 L165.27,507.94 L166.12,507.89 L166.96,507.85 L167.81,507.81 L168.66,507.77 L169.5,507.72 L170.35,507.68 L171.2,507.64 L172.04,507.6 L172.89,507.56 L173.74,507.51 L174.58,507.47 L175.43,507.43 L176.28,507.39 L177.12,507.34 L177.97,507.3 L178.82,507.26 L179.66,507.22 L180.51,507.17 L181.36,507.13 L182.2,507.09 L183.05,507.05 L183.9,507.01 L184.74,506.96 L185.59,506.92 L186.44,506.88 L187.28,506.84 L188.13,506.79 L188.98,506.75 L189.82,506.71 L190.67,506.67 L191.52,506.62 L192.36,506.58 L193.21,506.54 L194.06,506.5 L194.9,506.45 L195.75,506.41 L196.6,506.37 L197.44,506.33 L198.29,506.29 L199.14,506.24 L199.98,506.2 L200.83,506.17 L201.68,506.14 L202.52,506.12 L203.37,506.09 L204.22,506.06 L205.06,506.03 L205.91,506 L206.76,505.97 L207.6,505.95 L208.45,505.92 L209.3,505.89 L210.14,505.86 L210.99,505.83 L211.84,505.81 L212.68,505.78 L213.53,505.75 L214.38,505.72 L215.22,505.69 L216.07,505.66 L216.92,505.64 L217.76,505.61 L218.61,505.58 L219.46,505.55 L220.31,505.52 L221.15,505.49 L222,505.47 L222.85,505.44 L223.69,505.41 L224.54,505.38 L225.39,505.35 L226.23,505.33 L227.08,505.3 L227.93,505.27 L228.77,505.24 L229.62,505.21 L230.47,505.18 L231.31,505.16 L232.16,505.13 L233.01,505.1 L233.85,505.07 L234.7,505.04 L235.55,505.02 L236.39,504.99 L237.24,504.96 L238.09,504.93 L238.93,504.9 L239.78,504.87 L240.63,504.85 L241.47,504.82 L242.32,504.79 L243.17,504.76 L244.01,504.73 L244.86,504.7 L245.71,504.68 L246.55,504.65 L247.4,504.62" stroke="#000080" stroke-width="1.4" fill="none"/>
<path d="M28.1,511.19 L28.95,511.19 L29.79,511.18 L30.64,511.17 L31.49,511.16 L32.33,511.16 L33.18,511.15 L34.03,511.14 L34.87,511.13 L35.72,511.13 L36.57,511.12 L37.41,511.11 L38.26,511.1 L39.11,511.09 L39.95,511.08 L40.8,511.07 L41.65,511.05 L42.49,511.03 L43.34,511.01 L44.19,510.99 L45.03,510.95 L45.88,510.9 L46.73,510.84 L47.57,510.77 L48.42,510.67 L49.27,510.54 L50.11,510.37 L50.96,510.16 L51.81,509.9 L52.65,509.58 L53.5,509.2 L54.35,508.74 L55.19,508.2 L56.04,507.57 L56.89,506.84 L57.74,506.02 L58.58,505.11 L59.43,504.11 L60.28,503.03 L61.12,501.88 L61.97,500.69 L62.82,499.47 L63.66,498.25 L64.51,497.06 L65.36,495.93 L66.2,494.89 L67.05,493.98 L67.9,493.22 L68.74,492.63 L69.59,492.23 L70.44,492.05 L71.28,492.07 L72.13,492.31 L72.98,492.75 L73.82,493.37 L74.67,494.17 L75.52,495.1 L76.36,496.14 L77.21,497.26 L78.06,498.44 L78.9,499.62 L79.75,500.8 L80.6,501.94 L81.44,503.02 L82.29,504.03 L83.14,504.95 L83.98,505.76 L84.83,506.48 L85.68,507.09 L86.52,507.59 L87.37,507.99 L88.22,508.28 L89.06,508.48 L89.91,508.58 L90.76,508.6 L91.6,508.53 L92.45,508.37 L93.3,508.13 L94.14,507.82 L94.99,507.42 L95.84,506.95 L96.68,506.41 L97.53,505.8 L98.38,505.14 L99.22,504.42 L100.07,503.66 L100.92,502.88 L101.76,502.07 L102.61,501.27 L103.46,500.49 L104.3,499.75 L105.15,499.05 L106,498.44 L106.84,497.9 L107.69,497.47 L108.54,497.15 L109.38,496.96 L110.23,496.88 L111.08,496.93 L111.93,497.09 L112.77,497.36 L113.62,497.73 L114.47,498.17 L115.31,498.68 L116.16,499.21 L117.01,499.76 L117.85,500.3 L118.7,500.81 L119.55,501.25 L120.39,501.61 L121.24,501.87 L122.09,502.01 L122.93,502 L123.78,501.84 L124.63,501.52 L125.47,501.01 L126.32,500.32 L127.17,499.43 L128.01,498.35 L128.86,497.07 L129.71,495.6 L130.55,493.92 L131.4,492.06 L132.25,490.02 L133.09,487.82 L133.94,485.48 L134.79,483.03 L135.63,480.47 L136.48,477.85 L137.33,475.19 L138.17,472.52 L139.02,469.89 L139.87,467.32 L140.71,464.85 L141.56,462.53 L142.41,460.38 L143.25,458.45 L144.1,456.76 L144.95,455.35 L145.79,454.24 L146.64,453.44 L147.49,452.97 L148.33,452.83 L149.18,453.03 L150.03,453.56 L150.87,454.4 L151.72,455.55 L152.57,456.96 L153.41,458.61 L154.26,460.47 L155.11,462.49 L155.95,464.64 L156.8,466.88 L157.65,469.15 L158.49,471.42 L159.34,473.65 L160.19,475.78 L161.03,477.78 L161.88,479.62 L162.73,481.26 L163.57,482.69 L164.42,483.87 L165.27,484.79 L166.12,485.44 L166.96,485.81 L167.81,485.89 L168.66,485.7 L169.5,485.24 L170.35,484.53 L171.2,483.58 L172.04,482.42 L172.89,481.07 L173.74,479.58 L174.58,477.98 L175.43,476.3 L176.28,474.58 L177.12,472.87 L177.97,471.21 L178.82,469.64 L179.66,468.19 L180.51,466.91 L181.36,465.82 L182.2,464.95 L183.05,464.33 L183.9,463.98 L184.74,463.89 L185.59,464.08 L186.44,464.55 L187.28,465.29 L188.13,466.28 L188.98,467.51 L189.82,468.95 L190.67,470.58 L191.52,472.37 L192.36,474.28 L193.21,476.28 L194.06,478.35 L194.9,480.44 L195.75,482.53 L196.6,484.6 L197.44,486.61 L198.29,488.55 L199.14,490.4 L199.98,492.14 L200.83,493.78 L201.68,495.29 L202.52,496.68 L203.37,497.94 L204.22,499.06 L205.06,500.07 L205.91,500.96 L206.76,501.73 L207.6,502.4 L208.45,502.98 L209.3,503.47 L210.14,503.88 L210.99,504.22 L211.84,504.51 L212.68,504.73 L213.53,504.92 L214.38,505.06 L215.22,505.18 L216.07,505.26 L216.92,505.32 L217.76,505.37 L218.61,505.4 L219.46,505.41 L220.31,505.42 L221.15,505.42 L222,505.41 L222.85,505.39 L223.69,505.38 L224.54,505.36 L225.39,505.34 L226.23,505.31 L227.08,505.29 L227.93,505.26 L228.77,505.24 L229.62,505.21 L230.47,505.18 L231.31,505.15 L232.16,505.13 L233.01,505.1 L233.85,505.07 L234.7,505.04 L235.55,505.01 L236.39,504.99 L237.24,504.96 L238.09,504.93 L238.93,504.9 L239.78,504.87 L240.63,504.85 L241.47,504.82 L242.32,504.79 L243.17,504.76 L244.01,504.73 L244.86,504.7 L245.71,504.68 L246.55,504.65 L247.4,504.62" stroke="#0000f0" stroke-width="2.2" fill="none" stroke-linejoin="round"/>
<rect x="27.5" y="368.6" width="220.5" height="153.7" fill="none" stroke="#333" stroke-width="1.15"/>
<path d="M27.5,522.3 L27.5,523.6 M44.46,522.3 L44.46,524.9 M61.42,522.3 L61.42,523.6 M78.38,522.3 L78.38,524.9 M95.35,522.3 L95.35,523.6 M112.31,522.3 L112.31,524.9 M129.27,522.3 L129.27,523.6 M146.23,522.3 L146.23,524.9 M163.19,522.3 L163.19,523.6 M180.15,522.3 L180.15,524.9 M197.12,522.3 L197.12,523.6 M214.08,522.3 L214.08,524.9 M231.04,522.3 L231.04,523.6 M248,522.3 L248,524.9" stroke="#333" stroke-width="0.9" fill="none"/>
<text x="44.46" y="531.6" font-family='"Liberation Sans", sans-serif' font-size="6.5" font-weight="normal" fill="#4a4a4a" text-anchor="middle" stroke="#4a4a4a" stroke-width="0.12" >30</text>
<text x="78.38" y="531.6" font-family='"Liberation Sans", sans-serif' font-size="6.5" font-weight="normal" fill="#4a4a4a" text-anchor="middle" stroke="#4a4a4a" stroke-width="0.12" >32</text>
<text x="112.31" y="531.6" font-family='"Liberation Sans", sans-serif' font-size="6.5" font-weight="normal" fill="#4a4a4a" text-anchor="middle" stroke="#4a4a4a" stroke-width="0.12" >34</text>
<text x="146.23" y="531.6" font-family='"Liberation Sans", sans-serif' font-size="6.5" font-weight="normal" fill="#4a4a4a" text-anchor="middle" stroke="#4a4a4a" stroke-width="0.12" >36</text>
<text x="180.15" y="531.6" font-family='"Liberation Sans", sans-serif' font-size="6.5" font-weight="normal" fill="#4a4a4a" text-anchor="middle" stroke="#4a4a4a" stroke-width="0.12" >38</text>
<text x="214.08" y="531.6" font-family='"Liberation Sans", sans-serif' font-size="6.5" font-weight="normal" fill="#4a4a4a" text-anchor="middle" stroke="#4a4a4a" stroke-width="0.12" >40</text>
<text x="248" y="531.6" font-family='"Liberation Sans", sans-serif' font-size="6.5" font-weight="normal" fill="#4a4a4a" text-anchor="middle" stroke="#4a4a4a" stroke-width="0.12" >42</text>
<text x="31.3" y="380.2" font-family='"Liberation Serif", serif' font-size="9" font-weight="normal" fill="#222" text-anchor="start" stroke="#222" stroke-width="0.22" >W 4f</text>
<text x="33.5" y="427.8" font-family='"Liberation Serif", serif' font-size="9" font-weight="normal" fill="#222" text-anchor="start" stroke="#222" stroke-width="0.22" >WSe<tspan font-size="6" dy="2">2</tspan></text>
<text x="32" y="496" font-family='"Liberation Serif", serif' font-size="9" font-weight="normal" fill="#222" text-anchor="start" stroke="#222" stroke-width="0.22" >CNW2</text>
<text x="62.3" y="483" font-family='"Liberation Serif", serif' font-size="8" font-weight="normal" fill="#222" text-anchor="start" stroke="#222" stroke-width="0.12" >W 4f<tspan font-size="5.5" dy="2">7/2</tspan></text>
<text x="96.3" y="488.7" font-family='"Liberation Serif", serif' font-size="8" font-weight="normal" fill="#222" text-anchor="start" stroke="#222" stroke-width="0.12" >W 4f<tspan font-size="5.5" dy="2">5/2</tspan></text>
<text x="161.6" y="450.8" font-family='"Liberation Serif", serif' font-size="8.5" font-weight="normal" fill="#222" text-anchor="start" stroke="#222" stroke-width="0.12" >W-O</text>
<path d="M165.5,453.5 L161.2,461.2 M171.6,452.6 L177.2,462.4" stroke="#222" stroke-width="0.6" fill="none"/>
<path d="M160.5,462.6 L160.5,459.6 L162.3,460.6 Z M177.8,463.4 L176.3,461.2 L178.1,460.6 Z" fill="#222"/>
<text x="78.4" y="544.2" font-family='"Liberation Serif", serif' font-size="13" font-weight="bold" fill="#111" text-anchor="start" >Binding Energy (eV)</text>
<text transform="translate(21.2,449.75) rotate(-90)" x="0" y="0" font-family='"Liberation Serif", serif' font-size="12.7" font-weight="bold" fill="#111" text-anchor="middle">Intensity (a.u.)</text>
<text x="3.3" y="386.4" font-family='"Liberation Serif", serif' font-size="15.3" font-weight="normal" fill="#222" text-anchor="start" stroke="#222" stroke-width="0.22" >(e)</text>
<path d="M271.95,429.44h2.3v2.3h-2.3z M273.65,429.43h2.3v2.3h-2.3z M275.35,429.41h2.3v2.3h-2.3z M277.05,429.39h2.3v2.3h-2.3z M278.75,429.37h2.3v2.3h-2.3z M280.45,429.36h2.3v2.3h-2.3z M282.15,429.34h2.3v2.3h-2.3z M283.85,429.32h2.3v2.3h-2.3z M285.55,429.3h2.3v2.3h-2.3z M287.25,429.29h2.3v2.3h-2.3z M288.95,429.27h2.3v2.3h-2.3z M290.65,429.25h2.3v2.3h-2.3z M292.35,429.23h2.3v2.3h-2.3z M294.05,429.22h2.3v2.3h-2.3z M295.75,429.2h2.3v2.3h-2.3z M297.45,429.18h2.3v2.3h-2.3z M299.15,429.16h2.3v2.3h-2.3z M300.85,429.15h2.3v2.3h-2.3z M302.55,429.13h2.3v2.3h-2.3z M304.25,429.11h2.3v2.3h-2.3z M305.95,429.09h2.3v2.3h-2.3z M307.65,429.08h2.3v2.3h-2.3z M309.35,429.06h2.3v2.3h-2.3z M311.05,429.04h2.3v2.3h-2.3z M312.75,429.02h2.3v2.3h-2.3z M314.45,429.01h2.3v2.3h-2.3z M316.15,428.99h2.3v2.3h-2.3z M317.85,428.97h2.3v2.3h-2.3z M319.55,428.95h2.3v2.3h-2.3z M321.25,428.94h2.3v2.3h-2.3z M322.95,428.92h2.3v2.3h-2.3z M324.65,428.9h2.3v2.3h-2.3z M326.35,428.87h2.3v2.3h-2.3z M328.05,428.84h2.3v2.3h-2.3z M329.75,428.8h2.3v2.3h-2.3z M331.45,428.74h2.3v2.3h-2.3z M333.15,428.63h2.3v2.3h-2.3z M334.85,428.39h2.3v2.3h-2.3z M336.55,427.97h2.3v2.3h-2.3z M338.25,427.25h2.3v2.3h-2.3z M339.95,426.18h2.3v2.3h-2.3z M341.65,424.67h2.3v2.3h-2.3z M343.35,422.47h2.3v2.3h-2.3z M345.05,419.52h2.3v2.3h-2.3z M346.75,415.82h2.3v2.3h-2.3z M348.45,411.52h2.3v2.3h-2.3z M350.15,406.85h2.3v2.3h-2.3z M351.85,402.18h2.3v2.3h-2.3z M353.55,398h2.3v2.3h-2.3z M355.25,394.67h2.3v2.3h-2.3z M356.95,392.45h2.3v2.3h-2.3z M358.65,391.38h2.3v2.3h-2.3z M360.35,391.27h2.3v2.3h-2.3z M362.05,391.76h2.3v2.3h-2.3z M363.75,392.4h2.3v2.3h-2.3z M365.45,392.75h2.3v2.3h-2.3z M367.15,392.47h2.3v2.3h-2.3z M368.85,391.32h2.3v2.3h-2.3z M370.55,389.33h2.3v2.3h-2.3z M372.25,386.64h2.3v2.3h-2.3z M373.95,383.55h2.3v2.3h-2.3z M375.65,380.41h2.3v2.3h-2.3z M377.35,377.59h2.3v2.3h-2.3z M379.05,375.4h2.3v2.3h-2.3z M380.75,374.04h2.3v2.3h-2.3z M382.45,373.73h2.3v2.3h-2.3z M384.15,374.58h2.3v2.3h-2.3z M385.85,376.63h2.3v2.3h-2.3z M387.55,379.75h2.3v2.3h-2.3z M389.25,383.78h2.3v2.3h-2.3z M390.95,388.49h2.3v2.3h-2.3z M392.65,393.64h2.3v2.3h-2.3z M394.35,398.96h2.3v2.3h-2.3z M396.05,403.96h2.3v2.3h-2.3z M397.75,408.26h2.3v2.3h-2.3z M399.45,412.16h2.3v2.3h-2.3z M401.15,415.57h2.3v2.3h-2.3z M402.85,418.42h2.3v2.3h-2.3z M404.55,420.76h2.3v2.3h-2.3z M406.25,423.26h2.3v2.3h-2.3z M407.95,425.27h2.3v2.3h-2.3z M409.65,426.85h2.3v2.3h-2.3z M411.35,428h2.3v2.3h-2.3z M413.05,428.86h2.3v2.3h-2.3z M414.75,429.49h2.3v2.3h-2.3z M416.45,429.94h2.3v2.3h-2.3z M418.15,430.26h2.3v2.3h-2.3z M419.85,430.53h2.3v2.3h-2.3z M421.55,430.87h2.3v2.3h-2.3z M423.25,431.16h2.3v2.3h-2.3z M424.95,431.42h2.3v2.3h-2.3z M426.65,431.66h2.3v2.3h-2.3z M428.35,431.89h2.3v2.3h-2.3z M430.05,432.11h2.3v2.3h-2.3z M431.75,432.31h2.3v2.3h-2.3z M433.45,432.52h2.3v2.3h-2.3z M435.15,432.72h2.3v2.3h-2.3z M436.85,432.92h2.3v2.3h-2.3z M438.55,433.12h2.3v2.3h-2.3z M440.25,433.27h2.3v2.3h-2.3z M441.95,433.35h2.3v2.3h-2.3z M443.65,433.44h2.3v2.3h-2.3z M445.35,433.52h2.3v2.3h-2.3z M447.05,433.61h2.3v2.3h-2.3z M448.75,433.7h2.3v2.3h-2.3z M450.45,433.78h2.3v2.3h-2.3z M452.15,433.87h2.3v2.3h-2.3z M453.85,433.96h2.3v2.3h-2.3z M455.55,434.04h2.3v2.3h-2.3z M457.25,434.13h2.3v2.3h-2.3z M458.95,434.22h2.3v2.3h-2.3z M460.65,434.3h2.3v2.3h-2.3z M462.35,434.39h2.3v2.3h-2.3z M464.05,434.48h2.3v2.3h-2.3z M465.75,434.56h2.3v2.3h-2.3z M467.45,434.65h2.3v2.3h-2.3z M469.15,434.73h2.3v2.3h-2.3z M470.85,434.8h2.3v2.3h-2.3z M472.55,434.87h2.3v2.3h-2.3z M474.25,434.94h2.3v2.3h-2.3z M475.95,435h2.3v2.3h-2.3z M477.65,435.07h2.3v2.3h-2.3z M479.35,435.14h2.3v2.3h-2.3z M481.05,435.2h2.3v2.3h-2.3z M482.75,435.27h2.3v2.3h-2.3z M484.45,435.34h2.3v2.3h-2.3z M486.15,435.4h2.3v2.3h-2.3z M487.85,435.47h2.3v2.3h-2.3z M489.55,435.54h2.3v2.3h-2.3z" fill="#3e3e3e"/>
<path d="M338.27,432.11 L339.11,432.11 L339.96,432.11 L340.81,432.1 L341.65,432.09 L342.5,432.06 L343.35,432.03 L344.19,431.99 L345.04,431.93 L345.88,431.85 L346.73,431.75 L347.58,431.63 L348.42,431.48 L349.27,431.3 L350.12,431.08 L350.96,430.84 L351.81,430.55 L352.66,430.2 L353.5,429.79 L354.35,429.31 L355.19,428.75 L356.04,428.09 L356.89,427.35 L357.73,426.5 L358.58,425.54 L359.43,424.46 L360.27,423.26 L361.12,421.92 L361.96,420.46 L362.81,418.87 L363.66,417.14 L364.5,415.28 L365.35,413.31 L366.2,411.24 L367.04,409.05 L367.89,406.78 L368.74,404.42 L369.58,402 L370.43,399.55 L371.27,397.07 L372.12,394.61 L372.97,392.17 L373.81,389.81 L374.66,387.54 L375.51,385.38 L376.35,383.39 L377.2,381.57 L378.05,379.95 L378.89,378.56 L379.74,377.43 L380.58,376.56 L381.43,375.97 L382.28,375.68 L383.12,375.68 L383.97,375.99 L384.82,376.62 L385.66,377.54 L386.51,378.76 L387.35,380.24 L388.2,381.97 L389.05,383.93 L389.89,386.08 L390.74,388.4 L391.59,390.85 L392.43,393.41 L393.28,396.05 L394.13,398.72 L394.97,401.41 L395.82,404.06 L396.66,406.68 L397.51,409.23 L398.36,411.7 L399.2,414.07 L400.05,416.32 L400.9,418.45 L401.74,420.45 L402.59,422.31 L403.44,424.03 L404.28,425.61 L405.13,427.05 L405.97,428.36 L406.82,429.54 L407.67,430.59 L408.51,431.54 L409.36,432.37 L410.21,433.1 L411.05,433.72 L411.9,434.25 L412.74,434.71 L413.59,435.11 L414.44,435.44 L415.28,435.73 L416.13,435.98 L416.98,436.18 L417.82,436.36 L418.67,436.51 L419.52,436.63 L420.36,436.74 L421.21,436.83 L422.05,436.9 L422.9,436.97 L423.75,437.02 L424.59,437.07 L425.44,437.11 L426.29,437.15 L426.29,437.21 L425.44,437.19 L424.59,437.16 L423.75,437.14 L422.9,437.12 L422.05,437.1 L421.21,437.08 L420.36,437.06 L419.52,437.04 L418.67,437.02 L417.82,437 L416.98,436.97 L416.13,436.95 L415.28,436.93 L414.44,436.91 L413.59,436.89 L412.74,436.87 L411.9,436.85 L411.05,436.83 L410.21,436.81 L409.36,436.76 L408.51,436.7 L407.67,436.64 L406.82,436.59 L405.97,436.53 L405.13,436.48 L404.28,436.42 L403.44,436.36 L402.59,436.31 L401.74,436.25 L400.9,436.19 L400.05,436.14 L399.2,436.08 L398.36,436.02 L397.51,435.97 L396.66,435.91 L395.82,435.85 L394.97,435.8 L394.13,435.72 L393.28,435.65 L392.43,435.58 L391.59,435.5 L390.74,435.43 L389.89,435.36 L389.05,435.28 L388.2,435.21 L387.35,435.14 L386.51,435.06 L385.66,434.99 L384.82,434.92 L383.97,434.84 L383.12,434.77 L382.28,434.7 L381.43,434.62 L380.58,434.55 L379.74,434.48 L378.89,434.4 L378.05,434.33 L377.2,434.26 L376.35,434.18 L375.51,434.11 L374.66,434.04 L373.81,433.96 L372.97,433.89 L372.12,433.82 L371.27,433.74 L370.43,433.67 L369.58,433.6 L368.74,433.52 L367.89,433.45 L367.04,433.38 L366.2,433.3 L365.35,433.23 L364.5,433.17 L363.66,433.13 L362.81,433.08 L361.96,433.04 L361.12,432.99 L360.27,432.95 L359.43,432.9 L358.58,432.86 L357.73,432.81 L356.89,432.77 L356.04,432.72 L355.19,432.68 L354.35,432.63 L353.5,432.59 L352.66,432.54 L351.81,432.5 L350.96,432.45 L350.12,432.41 L349.27,432.39 L348.42,432.37 L347.58,432.35 L346.73,432.33 L345.88,432.32 L345.04,432.3 L344.19,432.28 L343.35,432.27 L342.5,432.25 L341.65,432.23 L340.81,432.22 L339.96,432.2 L339.11,432.18 L338.27,432.17 Z" fill="#ff7f00" fill-opacity="0.6" stroke="none"/>
<path d="M330.65,431.95 L331.5,431.93 L332.34,431.91 L333.19,431.86 L334.04,431.8 L334.88,431.7 L335.73,431.56 L336.57,431.38 L337.42,431.13 L338.27,430.81 L339.11,430.4 L339.96,429.88 L340.81,429.25 L341.65,428.47 L342.5,427.54 L343.35,426.44 L344.19,425.17 L345.04,423.72 L345.88,422.1 L346.73,420.31 L347.58,418.38 L348.42,416.34 L349.27,414.22 L350.12,412.06 L350.96,409.96 L351.81,407.93 L352.66,406.04 L353.5,404.36 L354.35,402.93 L355.19,401.81 L356.04,401.03 L356.89,400.64 L357.73,400.64 L358.58,401.04 L359.43,401.83 L360.27,402.97 L361.12,404.43 L361.96,406.15 L362.81,408.09 L363.66,410.19 L364.5,412.37 L365.35,414.6 L366.2,416.82 L367.04,418.98 L367.89,421.03 L368.74,422.94 L369.58,424.69 L370.43,426.26 L371.27,427.66 L372.12,428.88 L372.97,429.94 L373.81,430.84 L374.66,431.59 L375.51,432.23 L376.35,432.75 L377.2,433.18 L378.05,433.53 L378.89,433.81 L379.74,434.05 L380.58,434.24 L381.43,434.41 L382.28,434.55 L383.12,434.67 L383.97,434.77 L383.97,434.84 L383.12,434.77 L382.28,434.7 L381.43,434.62 L380.58,434.55 L379.74,434.48 L378.89,434.4 L378.05,434.33 L377.2,434.26 L376.35,434.18 L375.51,434.11 L374.66,434.04 L373.81,433.96 L372.97,433.89 L372.12,433.82 L371.27,433.74 L370.43,433.67 L369.58,433.6 L368.74,433.52 L367.89,433.45 L367.04,433.38 L366.2,433.3 L365.35,433.23 L364.5,433.17 L363.66,433.13 L362.81,433.08 L361.96,433.04 L361.12,432.99 L360.27,432.95 L359.43,432.9 L358.58,432.86 L357.73,432.81 L356.89,432.77 L356.04,432.72 L355.19,432.68 L354.35,432.63 L353.5,432.59 L352.66,432.54 L351.81,432.5 L350.96,432.45 L350.12,432.41 L349.27,432.39 L348.42,432.37 L347.58,432.35 L346.73,432.33 L345.88,432.32 L345.04,432.3 L344.19,432.28 L343.35,432.27 L342.5,432.25 L341.65,432.23 L340.81,432.22 L339.96,432.2 L339.11,432.18 L338.27,432.17 L337.42,432.15 L336.57,432.13 L335.73,432.11 L334.88,432.1 L334.04,432.08 L333.19,432.06 L332.34,432.05 L331.5,432.03 L330.65,432.01 Z" fill="#ff00ff" fill-opacity="0.6" stroke="none"/>
<path d="M273.1,432 L273.95,432 L274.79,432 L275.64,432 L276.49,432 L277.33,432 L278.18,432 L279.02,432 L279.87,432 L280.72,432 L281.56,432 L282.41,432 L283.26,432 L284.1,432 L284.95,432 L285.79,432 L286.64,432 L287.49,432 L288.33,432 L289.18,432 L290.03,432 L290.87,432 L291.72,432 L292.57,432 L293.41,432 L294.26,432 L295.1,432 L295.95,432 L296.8,432 L297.64,432 L298.49,432 L299.34,432 L300.18,432 L301.03,432 L301.88,432 L302.72,432 L303.57,432 L304.41,432 L305.26,432 L306.11,432 L306.95,432 L307.8,432 L308.65,432 L309.49,432 L310.34,432 L311.18,432 L312.03,432 L312.88,432 L313.72,432 L314.57,432 L315.42,432 L316.26,432 L317.11,432 L317.96,432 L318.8,432 L319.65,432 L320.49,432 L321.34,432 L322.19,432 L323.03,432 L323.88,432 L324.73,432 L325.57,432 L326.42,432 L327.27,432 L328.11,432 L328.96,432 L329.8,432 L330.65,432.01 L331.5,432.03 L332.34,432.05 L333.19,432.06 L334.04,432.08 L334.88,432.1 L335.73,432.11 L336.57,432.13 L337.42,432.15 L338.27,432.17 L339.11,432.18 L339.96,432.2 L340.81,432.22 L341.65,432.23 L342.5,432.25 L343.35,432.27 L344.19,432.28 L345.04,432.3 L345.88,432.32 L346.73,432.33 L347.58,432.35 L348.42,432.37 L349.27,432.39 L350.12,432.41 L350.96,432.45 L351.81,432.5 L352.66,432.54 L353.5,432.59 L354.35,432.63 L355.19,432.68 L356.04,432.72 L356.89,432.77 L357.73,432.81 L358.58,432.86 L359.43,432.9 L360.27,432.95 L361.12,432.99 L361.96,433.04 L362.81,433.08 L363.66,433.13 L364.5,433.17 L365.35,433.23 L366.2,433.3 L367.04,433.38 L367.89,433.45 L368.74,433.52 L369.58,433.6 L370.43,433.67 L371.27,433.74 L372.12,433.82 L372.97,433.89 L373.81,433.96 L374.66,434.04 L375.51,434.11 L376.35,434.18 L377.2,434.26 L378.05,434.33 L378.89,434.4 L379.74,434.48 L380.58,434.55 L381.43,434.62 L382.28,434.7 L383.12,434.77 L383.97,434.84 L384.82,434.92 L385.66,434.99 L386.51,435.06 L387.35,435.14 L388.2,435.21 L389.05,435.28 L389.89,435.36 L390.74,435.43 L391.59,435.5 L392.43,435.58 L393.28,435.65 L394.13,435.72 L394.97,435.8 L395.82,435.85 L396.66,435.91 L397.51,435.97 L398.36,436.02 L399.2,436.08 L400.05,436.14 L400.9,436.19 L401.74,436.25 L402.59,436.31 L403.44,436.36 L404.28,436.42 L405.13,436.48 L405.97,436.53 L406.82,436.59 L407.67,436.64 L408.51,436.7 L409.36,436.76 L410.21,436.81 L411.05,436.83 L411.9,436.85 L412.74,436.87 L413.59,436.89 L414.44,436.91 L415.28,436.93 L416.13,436.95 L416.98,436.97 L417.82,437 L418.67,437.02 L419.52,437.04 L420.36,437.06 L421.21,437.08 L422.05,437.1 L422.9,437.12 L423.75,437.14 L424.59,437.16 L425.44,437.19 L426.29,437.21 L427.13,437.23 L427.98,437.25 L428.83,437.27 L429.67,437.29 L430.52,437.31 L431.36,437.32 L432.21,437.34 L433.06,437.35 L433.9,437.37 L434.75,437.38 L435.6,437.4 L436.44,437.41 L437.29,437.43 L438.13,437.44 L438.98,437.46 L439.83,437.47 L440.67,437.49 L441.52,437.5 L442.37,437.52 L443.21,437.53 L444.06,437.55 L444.91,437.56 L445.75,437.58 L446.6,437.59 L447.44,437.61 L448.29,437.62 L449.14,437.63 L449.98,437.65 L450.83,437.66 L451.68,437.68 L452.52,437.69 L453.37,437.71 L454.22,437.72 L455.06,437.74 L455.91,437.75 L456.75,437.77 L457.6,437.78 L458.45,437.8 L459.29,437.81 L460.14,437.83 L460.99,437.84 L461.83,437.86 L462.68,437.87 L463.52,437.89 L464.37,437.9 L465.22,437.92 L466.06,437.93 L466.91,437.95 L467.76,437.96 L468.6,437.98 L469.45,437.99 L470.3,438 L471.14,438.02 L471.99,438.03 L472.83,438.05 L473.68,438.06 L474.53,438.08 L475.37,438.09 L476.22,438.11 L477.07,438.12 L477.91,438.14 L478.76,438.15 L479.61,438.17 L480.45,438.18 L481.3,438.2 L482.14,438.21 L482.99,438.23 L483.84,438.24 L484.68,438.26 L485.53,438.27 L486.38,438.29 L487.22,438.3 L488.07,438.32 L488.91,438.33 L489.76,438.35 L490.61,438.36 L491.45,438.37 L492.3,438.39" stroke="#000080" stroke-width="1.4" fill="none"/>
<path d="M273.1,432 L273.95,432 L274.79,432 L275.64,432 L276.49,432 L277.33,432 L278.18,432 L279.02,432 L279.87,432 L280.72,432 L281.56,432 L282.41,432 L283.26,432 L284.1,432 L284.95,432 L285.79,432 L286.64,432 L287.49,432 L288.33,432 L289.18,432 L290.03,432 L290.87,432 L291.72,432 L292.57,432 L293.41,432 L294.26,432 L295.1,432 L295.95,432 L296.8,432 L297.64,432 L298.49,432 L299.34,432 L300.18,432 L301.03,432 L301.88,432 L302.72,432 L303.57,432 L304.41,432 L305.26,432 L306.11,432 L306.95,432 L307.8,432 L308.65,432 L309.49,432 L310.34,432 L311.18,432 L312.03,432 L312.88,432 L313.72,432 L314.57,432 L315.42,432 L316.26,432 L317.11,432 L317.96,432 L318.8,432 L319.65,432 L320.49,432 L321.34,432 L322.19,432 L323.03,432 L323.88,432 L324.73,432 L325.57,431.99 L326.42,431.99 L327.27,431.99 L328.11,431.98 L328.96,431.97 L329.8,431.95 L330.65,431.94 L331.5,431.93 L332.34,431.9 L333.19,431.85 L334.04,431.78 L334.88,431.68 L335.73,431.54 L336.57,431.35 L337.42,431.09 L338.27,430.76 L339.11,430.33 L339.96,429.8 L340.81,429.13 L341.65,428.32 L342.5,427.35 L343.35,426.21 L344.19,424.87 L345.04,423.35 L345.88,421.63 L346.73,419.73 L347.58,417.66 L348.42,415.45 L349.27,413.13 L350.12,410.73 L350.96,408.35 L351.81,405.98 L352.66,403.7 L353.5,401.56 L354.35,399.6 L355.19,397.87 L356.04,396.41 L356.89,395.22 L357.73,394.33 L358.58,393.72 L359.43,393.38 L360.27,393.27 L361.12,393.36 L361.96,393.58 L362.81,393.88 L363.66,394.2 L364.5,394.48 L365.35,394.68 L366.2,394.76 L367.04,394.66 L367.89,394.35 L368.74,393.83 L369.58,393.09 L370.43,392.14 L371.27,390.99 L372.12,389.67 L372.97,388.22 L373.81,386.68 L374.66,385.09 L375.51,383.5 L376.35,381.95 L377.2,380.48 L378.05,379.15 L378.89,377.97 L379.74,377 L380.58,376.25 L381.43,375.76 L382.28,375.53 L383.12,375.58 L383.97,375.92 L384.82,376.57 L385.66,377.51 L386.51,378.73 L387.35,380.23 L388.2,381.96 L389.05,383.92 L389.89,386.08 L390.74,388.4 L391.59,390.85 L392.43,393.41 L393.28,396.05 L394.13,398.72 L394.97,401.41 L395.82,404.06 L396.66,406.68 L397.51,409.23 L398.36,411.7 L399.2,414.07 L400.05,416.32 L400.9,418.45 L401.74,420.45 L402.59,422.31 L403.44,424.03 L404.28,425.61 L405.13,427.05 L405.97,428.36 L406.82,429.54 L407.67,430.59 L408.51,431.54 L409.36,432.37 L410.21,433.1 L411.05,433.72 L411.9,434.25 L412.74,434.71 L413.59,435.11 L414.44,435.44 L415.28,435.73 L416.13,435.98 L416.98,436.18 L417.82,436.36 L418.67,436.51 L419.52,436.63 L420.36,436.74 L421.21,436.83 L422.05,436.9 L422.9,436.97 L423.75,437.02 L424.59,437.07 L425.44,437.11 L426.29,437.15 L427.13,437.19 L427.98,437.22 L428.83,437.25 L429.67,437.27 L430.52,437.3 L431.36,437.31 L432.21,437.33 L433.06,437.35 L433.9,437.36 L434.75,437.38 L435.6,437.4 L436.44,437.41 L437.29,437.43 L438.13,437.44 L438.98,437.46 L439.83,437.47 L440.67,437.49 L441.52,437.5 L442.37,437.52 L443.21,437.53 L444.06,437.55 L444.91,437.56 L445.75,437.58 L446.6,437.59 L447.44,437.61 L448.29,437.62 L449.14,437.63 L449.98,437.65 L450.83,437.66 L451.68,437.68 L452.52,437.69 L453.37,437.71 L454.22,437.72 L455.06,437.74 L455.91,437.75 L456.75,437.77 L457.6,437.78 L458.45,437.8 L459.29,437.81 L460.14,437.83 L460.99,437.84 L461.83,437.86 L462.68,437.87 L463.52,437.89 L464.37,437.9 L465.22,437.92 L466.06,437.93 L466.91,437.95 L467.76,437.96 L468.6,437.98 L469.45,437.99 L470.3,438 L471.14,438.02 L471.99,438.03 L472.83,438.05 L473.68,438.06 L474.53,438.08 L475.37,438.09 L476.22,438.11 L477.07,438.12 L477.91,438.14 L478.76,438.15 L479.61,438.17 L480.45,438.18 L481.3,438.2 L482.14,438.21 L482.99,438.23 L483.84,438.24 L484.68,438.26 L485.53,438.27 L486.38,438.29 L487.22,438.3 L488.07,438.32 L488.91,438.33 L489.76,438.35 L490.61,438.36 L491.45,438.37 L492.3,438.39" stroke="#f00" stroke-width="2.0" fill="none" stroke-linejoin="round"/>
<path d="M276.2,516.6 L278.6,502.2 L281,507 L285.2,508.2 L287.6,507 L292.4,511.2 L296,503.4 L300.8,496.2 L304.4,504 L309.2,495 L312.8,504 L314.6,495.6 L316.4,499.2 L320,496.8 L323,490.2 L324.8,495 L327.8,495 L330.8,488.4 L335.4,490 L337.2,485.8 L340.8,479.8 L343.5,474.5 L346.8,470.2 L348.6,464.8 L351,460.4 L354.6,454 L358.2,454.6 L361.5,455 L364.8,460.6 L366.6,452.2 L369,460 L372,452.8 L374.4,453.4 L377.8,462 L380.2,466.8 L382.4,459.2 L386.6,471.8 L389.4,481 L391,481.2 L395.8,485.4 L400,481.2 L401.8,484.8 L406,493.2 L409,490.8 L410.9,485.6 L413.3,489.6 L416.1,495.8 L418.5,494 L420.2,492.6 L422.2,487.2 L425.3,495.1 L428.7,498.6 L431,496.5 L433,493.5 L435.5,499.4 L439,500.3 L441.5,501.1 L444,506.2 L446.6,502.8 L449.1,499.4 L452.5,500.3 L456,496.9 L459.3,497.7 L462.7,502.8 L466.1,503.7 L468.7,499.4 L470.9,506.6 L472.9,495.2 L476.3,499.4 L478.9,499.8 L481.4,506.6 L484,503.7 L486.5,506.6 L488.6,500.3 L490.8,490" stroke="#8a8a8a" stroke-width="0.6" fill="none"/>
<path d="M274.7,515.1h3v3h-3z M277.1,500.7h3v3h-3z M279.5,505.5h3v3h-3z M283.7,506.7h3v3h-3z M286.1,505.5h3v3h-3z M290.9,509.7h3v3h-3z M294.5,501.9h3v3h-3z M299.3,494.7h3v3h-3z M302.9,502.5h3v3h-3z M307.7,493.5h3v3h-3z M311.3,502.5h3v3h-3z M313.1,494.1h3v3h-3z M314.9,497.7h3v3h-3z M318.5,495.3h3v3h-3z M321.5,488.7h3v3h-3z M323.3,493.5h3v3h-3z M326.3,493.5h3v3h-3z M329.3,486.9h3v3h-3z M333.9,488.5h3v3h-3z M335.7,484.3h3v3h-3z M339.3,478.3h3v3h-3z M342,473h3v3h-3z M345.3,468.7h3v3h-3z M347.1,463.3h3v3h-3z M349.5,458.9h3v3h-3z M353.1,452.5h3v3h-3z M356.7,453.1h3v3h-3z M360,453.5h3v3h-3z M363.3,459.1h3v3h-3z M365.1,450.7h3v3h-3z M367.5,458.5h3v3h-3z M370.5,451.3h3v3h-3z M372.9,451.9h3v3h-3z M376.3,460.5h3v3h-3z M378.7,465.3h3v3h-3z M380.9,457.7h3v3h-3z M385.1,470.3h3v3h-3z M387.9,479.5h3v3h-3z M389.5,479.7h3v3h-3z M394.3,483.9h3v3h-3z M398.5,479.7h3v3h-3z M400.3,483.3h3v3h-3z M404.5,491.7h3v3h-3z M407.5,489.3h3v3h-3z M409.4,484.1h3v3h-3z M411.8,488.1h3v3h-3z M414.6,494.3h3v3h-3z M417,492.5h3v3h-3z M418.7,491.1h3v3h-3z M420.7,485.7h3v3h-3z M423.8,493.6h3v3h-3z M427.2,497.1h3v3h-3z M429.5,495h3v3h-3z M431.5,492h3v3h-3z M434,497.9h3v3h-3z M437.5,498.8h3v3h-3z M440,499.6h3v3h-3z M442.5,504.7h3v3h-3z M445.1,501.3h3v3h-3z M447.6,497.9h3v3h-3z M451,498.8h3v3h-3z M454.5,495.4h3v3h-3z M457.8,496.2h3v3h-3z M461.2,501.3h3v3h-3z M464.6,502.2h3v3h-3z M467.2,497.9h3v3h-3z M469.4,505.1h3v3h-3z M471.4,493.7h3v3h-3z M474.8,497.9h3v3h-3z M477.4,498.3h3v3h-3z M479.9,505.1h3v3h-3z M482.5,502.2h3v3h-3z M485,505.1h3v3h-3z M487.1,498.8h3v3h-3z M489.3,488.5h3v3h-3z" fill="#474747"/>
<path d="M273.1,515.7 L273.95,515.67 L274.79,515.63 L275.64,515.59 L276.49,515.55 L277.33,515.51 L278.18,515.47 L279.02,515.43 L279.87,515.38 L280.72,515.33 L281.56,515.28 L282.41,515.23 L283.26,515.17 L284.1,515.11 L284.95,515.05 L285.79,514.98 L286.64,514.91 L287.49,514.84 L288.33,514.76 L289.18,514.67 L290.03,514.58 L290.87,514.49 L291.72,514.38 L292.57,514.27 L293.41,514.16 L294.26,514.03 L295.1,513.9 L295.95,513.76 L296.8,513.61 L297.64,513.45 L298.49,513.28 L299.34,513.09 L300.18,512.89 L301.03,512.67 L301.88,512.44 L302.72,512.19 L303.57,511.92 L304.41,511.64 L305.26,511.35 L306.11,511.04 L306.95,510.71 L307.8,510.36 L308.65,509.99 L309.49,509.6 L310.34,509.19 L311.18,508.76 L312.03,508.31 L312.88,507.84 L313.72,507.34 L314.57,506.82 L315.42,506.27 L316.26,505.7 L317.11,505.11 L317.96,504.48 L318.8,503.83 L319.65,503.16 L320.49,502.45 L321.34,501.72 L322.19,500.97 L323.03,500.18 L323.88,499.37 L324.73,498.53 L325.57,497.67 L326.42,496.77 L327.27,495.85 L328.11,494.91 L328.96,493.94 L329.8,492.95 L330.65,491.91 L331.5,490.85 L332.34,489.76 L333.19,488.66 L334.04,487.53 L334.88,486.39 L335.73,485.24 L336.57,484.07 L337.42,482.89 L338.27,481.7 L339.11,480.51 L339.96,479.31 L340.81,478.11 L341.65,476.9 L342.5,475.7 L343.35,474.51 L344.19,473.32 L345.04,472.14 L345.88,470.97 L346.73,469.82 L347.58,468.69 L348.42,467.58 L349.27,466.49 L350.12,465.43 L350.96,464.39 L351.81,463.39 L352.66,462.43 L353.5,461.5 L354.35,460.61 L355.19,459.76 L356.04,458.95 L356.89,458.2 L357.73,457.49 L358.58,456.83 L359.43,456.22 L360.27,455.67 L361.12,455.16 L361.96,454.71 L362.81,454.32 L363.66,453.99 L364.5,453.72 L365.35,453.51 L366.2,453.36 L367.04,453.27 L367.89,453.25 L368.74,453.3 L369.58,453.42 L370.43,453.61 L371.27,453.87 L372.12,454.2 L372.97,454.59 L373.81,455.05 L374.66,455.57 L375.51,456.15 L376.35,456.79 L377.2,457.49 L378.05,458.23 L378.89,459.03 L379.74,459.87 L380.58,460.76 L381.43,461.69 L382.28,462.65 L383.12,463.65 L383.97,464.68 L384.82,465.74 L385.66,466.82 L386.51,467.91 L387.35,469.03 L388.2,470.16 L389.05,471.3 L389.89,472.44 L390.74,473.6 L391.59,474.75 L392.43,475.9 L393.28,477.05 L394.13,478.19 L394.97,479.31 L395.82,480.43 L396.66,481.53 L397.51,482.6 L398.36,483.66 L399.2,484.7 L400.05,485.72 L400.9,486.7 L401.74,487.67 L402.59,488.6 L403.44,489.51 L404.28,490.38 L405.13,491.23 L405.97,492.05 L406.82,492.83 L407.67,493.58 L408.51,494.3 L409.36,494.99 L410.21,495.65 L411.05,496.28 L411.9,496.87 L412.74,497.43 L413.59,497.97 L414.44,498.47 L415.28,498.95 L416.13,499.39 L416.98,499.81 L417.82,500.2 L418.67,500.57 L419.52,500.91 L420.36,501.24 L421.21,501.57 L422.05,501.88 L422.9,502.17 L423.75,502.44 L424.59,502.69 L425.44,502.92 L426.29,503.14 L427.13,503.33 L427.98,503.51 L428.83,503.67 L429.67,503.82 L430.52,503.96 L431.36,504.08 L432.21,504.2 L433.06,504.3 L433.9,504.39 L434.75,504.47 L435.6,504.54 L436.44,504.6 L437.29,504.66 L438.13,504.7 L438.98,504.75 L439.83,504.78 L440.67,504.81 L441.52,504.83 L442.37,504.85 L443.21,504.87 L444.06,504.88 L444.91,504.88 L445.75,504.89 L446.6,504.89 L447.44,504.88 L448.29,504.88 L449.14,504.87 L449.98,504.86 L450.83,504.87 L451.68,504.89 L452.52,504.9 L453.37,504.91 L454.22,504.91 L455.06,504.92 L455.91,504.93 L456.75,504.93 L456.75,504.98 L455.91,504.99 L455.06,504.99 L454.22,504.99 L453.37,504.99 L452.52,504.99 L451.68,505 L450.83,505 L449.98,505 L449.14,505.03 L448.29,505.06 L447.44,505.09 L446.6,505.11 L445.75,505.14 L444.91,505.17 L444.06,505.2 L443.21,505.23 L442.37,505.25 L441.52,505.28 L440.67,505.31 L439.83,505.34 L438.98,505.37 L438.13,505.4 L437.29,505.42 L436.44,505.45 L435.6,505.48 L434.75,505.51 L433.9,505.54 L433.06,505.56 L432.21,505.59 L431.36,505.62 L430.52,505.65 L429.67,505.68 L428.83,505.71 L427.98,505.73 L427.13,505.76 L426.29,505.79 L425.44,505.82 L424.59,505.85 L423.75,505.88 L422.9,505.9 L422.05,505.93 L421.21,505.96 L420.36,505.99 L419.52,506.04 L418.67,506.11 L417.82,506.18 L416.98,506.25 L416.13,506.32 L415.28,506.39 L414.44,506.46 L413.59,506.53 L412.74,506.6 L411.9,506.68 L411.05,506.75 L410.21,506.82 L409.36,506.89 L408.51,506.96 L407.67,507.03 L406.82,507.1 L405.97,507.17 L405.13,507.24 L404.28,507.31 L403.44,507.38 L402.59,507.45 L401.74,507.52 L400.9,507.59 L400.05,507.66 L399.2,507.73 L398.36,507.8 L397.51,507.87 L396.66,507.94 L395.82,508.02 L394.97,508.09 L394.13,508.16 L393.28,508.23 L392.43,508.3 L391.59,508.37 L390.74,508.44 L389.89,508.51 L389.05,508.59 L388.2,508.66 L387.35,508.74 L386.51,508.81 L385.66,508.89 L384.82,508.97 L383.97,509.04 L383.12,509.12 L382.28,509.2 L381.43,509.27 L380.58,509.35 L379.74,509.42 L378.89,509.5 L378.05,509.58 L377.2,509.65 L376.35,509.73 L375.51,509.8 L374.66,509.88 L373.81,509.96 L372.97,510.03 L372.12,510.11 L371.27,510.19 L370.43,510.26 L369.58,510.34 L368.74,510.41 L367.89,510.49 L367.04,510.57 L366.2,510.64 L365.35,510.72 L364.5,510.79 L363.66,510.87 L362.81,510.95 L361.96,511.02 L361.12,511.1 L360.27,511.18 L359.43,511.25 L358.58,511.31 L357.73,511.38 L356.89,511.45 L356.04,511.52 L355.19,511.58 L354.35,511.65 L353.5,511.72 L352.66,511.79 L351.81,511.86 L350.96,511.92 L350.12,511.99 L349.27,512.06 L348.42,512.13 L347.58,512.19 L346.73,512.26 L345.88,512.33 L345.04,512.4 L344.19,512.46 L343.35,512.53 L342.5,512.6 L341.65,512.67 L340.81,512.74 L339.96,512.8 L339.11,512.87 L338.27,512.94 L337.42,513.01 L336.57,513.07 L335.73,513.14 L334.88,513.21 L334.04,513.28 L333.19,513.34 L332.34,513.41 L331.5,513.48 L330.65,513.55 L329.8,513.61 L328.96,513.65 L328.11,513.69 L327.27,513.73 L326.42,513.77 L325.57,513.81 L324.73,513.85 L323.88,513.89 L323.03,513.93 L322.19,513.96 L321.34,514 L320.49,514.04 L319.65,514.08 L318.8,514.12 L317.96,514.16 L317.11,514.2 L316.26,514.24 L315.42,514.28 L314.57,514.32 L313.72,514.36 L312.88,514.4 L312.03,514.44 L311.18,514.48 L310.34,514.52 L309.49,514.56 L308.65,514.6 L307.8,514.64 L306.95,514.68 L306.11,514.72 L305.26,514.75 L304.41,514.79 L303.57,514.83 L302.72,514.87 L301.88,514.91 L301.03,514.95 L300.18,514.99 L299.34,515.02 L298.49,515.04 L297.64,515.07 L296.8,515.09 L295.95,515.12 L295.1,515.14 L294.26,515.17 L293.41,515.19 L292.57,515.22 L291.72,515.24 L290.87,515.27 L290.03,515.29 L289.18,515.31 L288.33,515.34 L287.49,515.36 L286.64,515.39 L285.79,515.41 L284.95,515.44 L284.1,515.46 L283.26,515.49 L282.41,515.51 L281.56,515.54 L280.72,515.56 L279.87,515.59 L279.02,515.61 L278.18,515.63 L277.33,515.66 L276.49,515.68 L275.64,515.71 L274.79,515.73 L273.95,515.76 L273.1,515.78 Z" fill="#ff9832" fill-opacity="0.6" stroke="none"/>
<path d="M273.1,513.47 L273.95,513.25 L274.79,513.01 L275.64,512.76 L276.49,512.5 L277.33,512.23 L278.18,511.94 L279.02,511.64 L279.87,511.34 L280.72,511.02 L281.56,510.69 L282.41,510.35 L283.26,510.01 L284.1,509.65 L284.95,509.29 L285.79,508.93 L286.64,508.56 L287.49,508.18 L288.33,507.81 L289.18,507.43 L290.03,507.06 L290.87,506.68 L291.72,506.32 L292.57,505.95 L293.41,505.6 L294.26,505.25 L295.1,504.92 L295.95,504.6 L296.8,504.29 L297.64,504 L298.49,503.72 L299.34,503.47 L300.18,503.23 L301.03,503 L301.88,502.79 L302.72,502.61 L303.57,502.45 L304.41,502.32 L305.26,502.21 L306.11,502.13 L306.95,502.08 L307.8,502.05 L308.65,502.05 L309.49,502.07 L310.34,502.12 L311.18,502.2 L312.03,502.3 L312.88,502.43 L313.72,502.57 L314.57,502.74 L315.42,502.93 L316.26,503.14 L317.11,503.37 L317.96,503.61 L318.8,503.87 L319.65,504.13 L320.49,504.41 L321.34,504.7 L322.19,505 L323.03,505.31 L323.88,505.61 L324.73,505.92 L325.57,506.24 L326.42,506.55 L327.27,506.86 L328.11,507.16 L328.96,507.47 L329.8,507.76 L330.65,508.03 L331.5,508.29 L332.34,508.53 L333.19,508.77 L334.04,509 L334.88,509.21 L335.73,509.42 L336.57,509.61 L337.42,509.79 L338.27,509.96 L339.11,510.12 L339.96,510.27 L340.81,510.41 L341.65,510.53 L342.5,510.64 L343.35,510.74 L344.19,510.83 L345.04,510.91 L345.88,510.98 L346.73,511.04 L347.58,511.09 L348.42,511.13 L349.27,511.16 L350.12,511.18 L350.96,511.2 L351.81,511.21 L352.66,511.21 L353.5,511.2 L354.35,511.19 L355.19,511.18 L356.04,511.16 L356.89,511.13 L357.73,511.1 L358.58,511.07 L359.43,511.03 L360.27,510.98 L361.12,510.93 L361.96,510.88 L362.81,510.82 L363.66,510.76 L364.5,510.7 L365.35,510.64 L366.2,510.57 L367.04,510.5 L367.89,510.44 L367.89,510.49 L367.04,510.57 L366.2,510.64 L365.35,510.72 L364.5,510.79 L363.66,510.87 L362.81,510.95 L361.96,511.02 L361.12,511.1 L360.27,511.18 L359.43,511.25 L358.58,511.31 L357.73,511.38 L356.89,511.45 L356.04,511.52 L355.19,511.58 L354.35,511.65 L353.5,511.72 L352.66,511.79 L351.81,511.86 L350.96,511.92 L350.12,511.99 L349.27,512.06 L348.42,512.13 L347.58,512.19 L346.73,512.26 L345.88,512.33 L345.04,512.4 L344.19,512.46 L343.35,512.53 L342.5,512.6 L341.65,512.67 L340.81,512.74 L339.96,512.8 L339.11,512.87 L338.27,512.94 L337.42,513.01 L336.57,513.07 L335.73,513.14 L334.88,513.21 L334.04,513.28 L333.19,513.34 L332.34,513.41 L331.5,513.48 L330.65,513.55 L329.8,513.61 L328.96,513.65 L328.11,513.69 L327.27,513.73 L326.42,513.77 L325.57,513.81 L324.73,513.85 L323.88,513.89 L323.03,513.93 L322.19,513.96 L321.34,514 L320.49,514.04 L319.65,514.08 L318.8,514.12 L317.96,514.16 L317.11,514.2 L316.26,514.24 L315.42,514.28 L314.57,514.32 L313.72,514.36 L312.88,514.4 L312.03,514.44 L311.18,514.48 L310.34,514.52 L309.49,514.56 L308.65,514.6 L307.8,514.64 L306.95,514.68 L306.11,514.72 L305.26,514.75 L304.41,514.79 L303.57,514.83 L302.72,514.87 L301.88,514.91 L301.03,514.95 L300.18,514.99 L299.34,515.02 L298.49,515.04 L297.64,515.07 L296.8,515.09 L295.95,515.12 L295.1,515.14 L294.26,515.17 L293.41,515.19 L292.57,515.22 L291.72,515.24 L290.87,515.27 L290.03,515.29 L289.18,515.31 L288.33,515.34 L287.49,515.36 L286.64,515.39 L285.79,515.41 L284.95,515.44 L284.1,515.46 L283.26,515.49 L282.41,515.51 L281.56,515.54 L280.72,515.56 L279.87,515.59 L279.02,515.61 L278.18,515.63 L277.33,515.66 L276.49,515.68 L275.64,515.71 L274.79,515.73 L273.95,515.76 L273.1,515.78 Z" fill="#ff00ff" fill-opacity="0.6" stroke="none"/>
<path d="M273.1,515.78 L273.95,515.76 L274.79,515.73 L275.64,515.71 L276.49,515.68 L277.33,515.66 L278.18,515.63 L279.02,515.61 L279.87,515.59 L280.72,515.56 L281.56,515.54 L282.41,515.51 L283.26,515.49 L284.1,515.46 L284.95,515.44 L285.79,515.41 L286.64,515.39 L287.49,515.36 L288.33,515.34 L289.18,515.31 L290.03,515.29 L290.87,515.27 L291.72,515.24 L292.57,515.22 L293.41,515.19 L294.26,515.17 L295.1,515.14 L295.95,515.12 L296.8,515.09 L297.64,515.07 L298.49,515.04 L299.34,515.02 L300.18,514.99 L301.03,514.95 L301.88,514.91 L302.72,514.87 L303.57,514.83 L304.41,514.79 L305.26,514.75 L306.11,514.72 L306.95,514.68 L307.8,514.64 L308.65,514.6 L309.49,514.56 L310.34,514.52 L311.18,514.48 L312.03,514.44 L312.88,514.4 L313.72,514.36 L314.57,514.32 L315.42,514.28 L316.26,514.24 L317.11,514.2 L317.96,514.16 L318.8,514.12 L319.65,514.08 L320.49,514.04 L321.34,514 L322.19,513.96 L323.03,513.93 L323.88,513.89 L324.73,513.85 L325.57,513.81 L326.42,513.77 L327.27,513.73 L328.11,513.69 L328.96,513.65 L329.8,513.61 L330.65,513.55 L331.5,513.48 L332.34,513.41 L333.19,513.34 L334.04,513.28 L334.88,513.21 L335.73,513.14 L336.57,513.07 L337.42,513.01 L338.27,512.94 L339.11,512.87 L339.96,512.8 L340.81,512.74 L341.65,512.67 L342.5,512.6 L343.35,512.53 L344.19,512.46 L345.04,512.4 L345.88,512.33 L346.73,512.26 L347.58,512.19 L348.42,512.13 L349.27,512.06 L350.12,511.99 L350.96,511.92 L351.81,511.86 L352.66,511.79 L353.5,511.72 L354.35,511.65 L355.19,511.58 L356.04,511.52 L356.89,511.45 L357.73,511.38 L358.58,511.31 L359.43,511.25 L360.27,511.18 L361.12,511.1 L361.96,511.02 L362.81,510.95 L363.66,510.87 L364.5,510.79 L365.35,510.72 L366.2,510.64 L367.04,510.57 L367.89,510.49 L368.74,510.41 L369.58,510.34 L370.43,510.26 L371.27,510.19 L372.12,510.11 L372.97,510.03 L373.81,509.96 L374.66,509.88 L375.51,509.8 L376.35,509.73 L377.2,509.65 L378.05,509.58 L378.89,509.5 L379.74,509.42 L380.58,509.35 L381.43,509.27 L382.28,509.2 L383.12,509.12 L383.97,509.04 L384.82,508.97 L385.66,508.89 L386.51,508.81 L387.35,508.74 L388.2,508.66 L389.05,508.59 L389.89,508.51 L390.74,508.44 L391.59,508.37 L392.43,508.3 L393.28,508.23 L394.13,508.16 L394.97,508.09 L395.82,508.02 L396.66,507.94 L397.51,507.87 L398.36,507.8 L399.2,507.73 L400.05,507.66 L400.9,507.59 L401.74,507.52 L402.59,507.45 L403.44,507.38 L404.28,507.31 L405.13,507.24 L405.97,507.17 L406.82,507.1 L407.67,507.03 L408.51,506.96 L409.36,506.89 L410.21,506.82 L411.05,506.75 L411.9,506.68 L412.74,506.6 L413.59,506.53 L414.44,506.46 L415.28,506.39 L416.13,506.32 L416.98,506.25 L417.82,506.18 L418.67,506.11 L419.52,506.04 L420.36,505.99 L421.21,505.96 L422.05,505.93 L422.9,505.9 L423.75,505.88 L424.59,505.85 L425.44,505.82 L426.29,505.79 L427.13,505.76 L427.98,505.73 L428.83,505.71 L429.67,505.68 L430.52,505.65 L431.36,505.62 L432.21,505.59 L433.06,505.56 L433.9,505.54 L434.75,505.51 L435.6,505.48 L436.44,505.45 L437.29,505.42 L438.13,505.4 L438.98,505.37 L439.83,505.34 L440.67,505.31 L441.52,505.28 L442.37,505.25 L443.21,505.23 L444.06,505.2 L444.91,505.17 L445.75,505.14 L446.6,505.11 L447.44,505.09 L448.29,505.06 L449.14,505.03 L449.98,505 L450.83,505 L451.68,505 L452.52,504.99 L453.37,504.99 L454.22,504.99 L455.06,504.99 L455.91,504.99 L456.75,504.98 L457.6,504.98 L458.45,504.98 L459.29,504.98 L460.14,504.98 L460.99,504.97 L461.83,504.97 L462.68,504.97 L463.52,504.97 L464.37,504.97 L465.22,504.96 L466.06,504.96 L466.91,504.96 L467.76,504.96 L468.6,504.96 L469.45,504.95 L470.3,504.95 L471.14,504.95 L471.99,504.95 L472.83,504.95 L473.68,504.94 L474.53,504.94 L475.37,504.94 L476.22,504.94 L477.07,504.94 L477.91,504.93 L478.76,504.93 L479.61,504.93 L480.45,504.93 L481.3,504.93 L482.14,504.93 L482.99,504.92 L483.84,504.92 L484.68,504.92 L485.53,504.92 L486.38,504.92 L487.22,504.91 L488.07,504.91 L488.91,504.91 L489.76,504.91 L490.61,504.91 L491.45,504.9 L492.3,504.9" stroke="#000080" stroke-width="1.4" fill="none"/>
<path d="M273.1,513.39 L273.95,513.16 L274.79,512.91 L275.64,512.64 L276.49,512.37 L277.33,512.08 L278.18,511.78 L279.02,511.46 L279.87,511.13 L280.72,510.79 L281.56,510.44 L282.41,510.07 L283.26,509.69 L284.1,509.3 L284.95,508.9 L285.79,508.5 L286.64,508.08 L287.49,507.66 L288.33,507.23 L289.18,506.79 L290.03,506.35 L290.87,505.9 L291.72,505.46 L292.57,505.01 L293.41,504.56 L294.26,504.12 L295.1,503.68 L295.95,503.24 L296.8,502.8 L297.64,502.37 L298.49,501.95 L299.34,501.54 L300.18,501.13 L301.03,500.72 L301.88,500.32 L302.72,499.92 L303.57,499.54 L304.41,499.17 L305.26,498.8 L306.11,498.45 L306.95,498.11 L307.8,497.77 L308.65,497.44 L309.49,497.12 L310.34,496.8 L311.18,496.49 L312.03,496.18 L312.88,495.87 L313.72,495.55 L314.57,495.24 L315.42,494.92 L316.26,494.6 L317.11,494.27 L317.96,493.93 L318.8,493.58 L319.65,493.21 L320.49,492.83 L321.34,492.42 L322.19,492 L323.03,491.56 L323.88,491.1 L324.73,490.61 L325.57,490.09 L326.42,489.55 L327.27,488.98 L328.11,488.39 L328.96,487.76 L329.8,487.11 L330.65,486.4 L331.5,485.66 L332.34,484.88 L333.19,484.08 L334.04,483.25 L334.88,482.4 L335.73,481.52 L336.57,480.61 L337.42,479.68 L338.27,478.73 L339.11,477.76 L339.96,476.78 L340.81,475.78 L341.65,474.76 L342.5,473.74 L343.35,472.72 L344.19,471.68 L345.04,470.65 L345.88,469.62 L346.73,468.6 L347.58,467.58 L348.42,466.58 L349.27,465.59 L350.12,464.62 L350.96,463.67 L351.81,462.74 L352.66,461.85 L353.5,460.98 L354.35,460.15 L355.19,459.35 L356.04,458.59 L356.89,457.88 L357.73,457.21 L358.58,456.58 L359.43,456 L360.27,455.48 L361.12,454.99 L361.96,454.57 L362.81,454.2 L363.66,453.88 L364.5,453.62 L365.35,453.43 L366.2,453.29 L367.04,453.21 L367.89,453.2 L368.74,453.25 L369.58,453.38 L370.43,453.58 L371.27,453.84 L372.12,454.18 L372.97,454.57 L373.81,455.03 L374.66,455.56 L375.51,456.14 L376.35,456.78 L377.2,457.48 L378.05,458.23 L378.89,459.02 L379.74,459.87 L380.58,460.76 L381.43,461.68 L382.28,462.65 L383.12,463.65 L383.97,464.68 L384.82,465.73 L385.66,466.81 L386.51,467.91 L387.35,469.03 L388.2,470.16 L389.05,471.3 L389.89,472.44 L390.74,473.6 L391.59,474.75 L392.43,475.9 L393.28,477.05 L394.13,478.19 L394.97,479.31 L395.82,480.43 L396.66,481.53 L397.51,482.6 L398.36,483.66 L399.2,484.7 L400.05,485.72 L400.9,486.7 L401.74,487.67 L402.59,488.6 L403.44,489.51 L404.28,490.38 L405.13,491.23 L405.97,492.05 L406.82,492.83 L407.67,493.58 L408.51,494.3 L409.36,494.99 L410.21,495.65 L411.05,496.28 L411.9,496.87 L412.74,497.43 L413.59,497.97 L414.44,498.47 L415.28,498.95 L416.13,499.39 L416.98,499.81 L417.82,500.2 L418.67,500.57 L419.52,500.91 L420.36,501.24 L421.21,501.57 L422.05,501.88 L422.9,502.17 L423.75,502.44 L424.59,502.69 L425.44,502.92 L426.29,503.14 L427.13,503.33 L427.98,503.51 L428.83,503.67 L429.67,503.82 L430.52,503.96 L431.36,504.08 L432.21,504.2 L433.06,504.3 L433.9,504.39 L434.75,504.47 L435.6,504.54 L436.44,504.6 L437.29,504.66 L438.13,504.7 L438.98,504.75 L439.83,504.78 L440.67,504.81 L441.52,504.83 L442.37,504.85 L443.21,504.87 L444.06,504.88 L444.91,504.88 L445.75,504.89 L446.6,504.89 L447.44,504.88 L448.29,504.88 L449.14,504.87 L449.98,504.86 L450.83,504.87 L451.68,504.89 L452.52,504.9 L453.37,504.91 L454.22,504.91 L455.06,504.92 L455.91,504.93 L456.75,504.93 L457.6,504.94 L458.45,504.94 L459.29,504.94 L460.14,504.95 L460.99,504.95 L461.83,504.95 L462.68,504.95 L463.52,504.95 L464.37,504.95 L465.22,504.95 L466.06,504.95 L466.91,504.95 L467.76,504.95 L468.6,504.95 L469.45,504.95 L470.3,504.95 L471.14,504.95 L471.99,504.94 L472.83,504.94 L473.68,504.94 L474.53,504.94 L475.37,504.94 L476.22,504.94 L477.07,504.94 L477.91,504.93 L478.76,504.93 L479.61,504.93 L480.45,504.93 L481.3,504.93 L482.14,504.92 L482.99,504.92 L483.84,504.92 L484.68,504.92 L485.53,504.92 L486.38,504.91 L487.22,504.91 L488.07,504.91 L488.91,504.91 L489.76,504.91 L490.61,504.91 L491.45,504.9 L492.3,504.9" stroke="#0000f0" stroke-width="2.2" fill="none" stroke-linejoin="round"/>
<rect x="272.5" y="368.5" width="220.4" height="153.8" fill="none" stroke="#333" stroke-width="1.15"/>
<path d="M272.5,522.3 L272.5,524.9 M294.54,522.3 L294.54,523.6 M316.58,522.3 L316.58,524.9 M338.62,522.3 L338.62,523.6 M360.66,522.3 L360.66,524.9 M382.7,522.3 L382.7,523.6 M404.74,522.3 L404.74,524.9 M426.78,522.3 L426.78,523.6 M448.82,522.3 L448.82,524.9 M470.86,522.3 L470.86,523.6 M492.9,522.3 L492.9,524.9" stroke="#333" stroke-width="0.9" fill="none"/>
<text x="272.5" y="531.6" font-family='"Liberation Sans", sans-serif' font-size="6.5" font-weight="normal" fill="#4a4a4a" text-anchor="middle" stroke="#4a4a4a" stroke-width="0.12" >50</text>
<text x="316.58" y="531.6" font-family='"Liberation Sans", sans-serif' font-size="6.5" font-weight="normal" fill="#4a4a4a" text-anchor="middle" stroke="#4a4a4a" stroke-width="0.12" >52</text>
<text x="360.66" y="531.6" font-family='"Liberation Sans", sans-serif' font-size="6.5" font-weight="normal" fill="#4a4a4a" text-anchor="middle" stroke="#4a4a4a" stroke-width="0.12" >54</text>
<text x="404.74" y="531.6" font-family='"Liberation Sans", sans-serif' font-size="6.5" font-weight="normal" fill="#4a4a4a" text-anchor="middle" stroke="#4a4a4a" stroke-width="0.12" >56</text>
<text x="448.82" y="531.6" font-family='"Liberation Sans", sans-serif' font-size="6.5" font-weight="normal" fill="#4a4a4a" text-anchor="middle" stroke="#4a4a4a" stroke-width="0.12" >58</text>
<text x="492.9" y="531.6" font-family='"Liberation Sans", sans-serif' font-size="6.5" font-weight="normal" fill="#4a4a4a" text-anchor="middle" stroke="#4a4a4a" stroke-width="0.12" >60</text>
<text x="279.3" y="380" font-family='"Liberation Serif", serif' font-size="9" font-weight="normal" fill="#222" text-anchor="start" stroke="#222" stroke-width="0.22" >Se 3d</text>
<text x="280.8" y="419.4" font-family='"Liberation Serif", serif' font-size="9" font-weight="normal" fill="#222" text-anchor="start" stroke="#222" stroke-width="0.22" >WSe<tspan font-size="6" dy="2">2</tspan></text>
<text x="321.3" y="401" font-family='"Liberation Serif", serif' font-size="8" font-weight="normal" fill="#222" text-anchor="start" stroke="#222" stroke-width="0.12" >Se 3d<tspan font-size="5.5" dy="2">5/2</tspan></text>
<text x="400.8" y="402.8" font-family='"Liberation Serif", serif' font-size="8" font-weight="normal" fill="#222" text-anchor="start" stroke="#222" stroke-width="0.12" >Se 3d<tspan font-size="5.5" dy="2">3/2</tspan></text>
<text x="280.8" y="484.8" font-family='"Liberation Serif", serif' font-size="9" font-weight="normal" fill="#222" text-anchor="start" stroke="#222" stroke-width="0.22" >CNW2</text>
<text x="325.6" y="544.4" font-family='"Liberation Serif", serif' font-size="13" font-weight="bold" fill="#111" text-anchor="start" >Binding Energy (eV)</text>
<text transform="translate(266.5,439.85) rotate(-90)" x="0" y="0" font-family='"Liberation Serif", serif' font-size="12.7" font-weight="bold" fill="#111" text-anchor="middle">Intensity (a.u.)</text>
<text x="250.8" y="386.4" font-family='"Liberation Serif", serif' font-size="15.3" font-weight="normal" fill="#222" text-anchor="start" stroke="#222" stroke-width="0.22" >(f)</text>
</svg>
</body></html>
